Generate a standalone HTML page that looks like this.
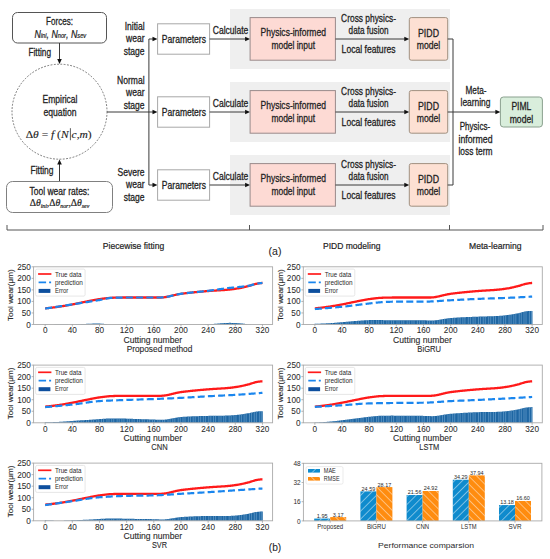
<!DOCTYPE html>
<html><head><meta charset="utf-8"><style>
html,body{margin:0;padding:0;background:#fff;width:550px;height:559px;overflow:hidden}
svg{display:block}
svg{font-family:"Liberation Sans",sans-serif}
.sf{font-family:"Liberation Serif",serif}
</style></head><body>
<svg width="550" height="559" viewBox="0 0 550 559">
<rect x="230" y="9" width="220" height="60" fill="#efefef"/>
<rect x="230" y="82" width="220" height="60" fill="#efefef"/>
<rect x="230" y="155" width="220" height="60" fill="#efefef"/>
<rect x="12.5" y="12.5" width="94" height="30.5" rx="5" fill="#fff" stroke="#555" stroke-width="1"/>
<text transform="translate(59.50,24.60) scale(0.776,1)" font-size="10.4" text-anchor="middle" fill="#222" stroke="#222" stroke-width="0.28">Forces:</text>
<text transform="translate(60.3,38.1) scale(0.84,1)" text-anchor="middle" font-size="10.5" font-style="italic" fill="#222" stroke="#222" stroke-width="0.2">N<tspan font-size="6.8">ini</tspan>, N<tspan font-size="6.8">nor</tspan>, N<tspan font-size="6.8">sev</tspan></text>
<text transform="translate(39.70,56.30) scale(0.798,1)" font-size="10.4" text-anchor="middle" fill="#222" stroke="#222" stroke-width="0.28">Fitting</text>
<line x1="59.5" y1="43" x2="59.5" y2="60" stroke="#3a3a3a" stroke-width="1"/>
<path d="M59.5,64 L57.2,59 L61.8,59 Z" fill="#111"/>
<circle cx="59.5" cy="111.7" r="47.5" fill="none" stroke="#666" stroke-width="0.9" stroke-dasharray="1.8,1.5"/>
<text transform="translate(60.00,103.00) scale(0.818,1)" font-size="10.4" text-anchor="middle" fill="#222" stroke="#222" stroke-width="0.28">Empirical</text>
<text transform="translate(60.00,116.00) scale(0.827,1)" font-size="10.4" text-anchor="middle" fill="#222" stroke="#222" stroke-width="0.28">equation</text>
<text class="sf" x="58.7" y="137.6" font-size="11" text-anchor="middle" fill="#222" stroke="#222" stroke-width="0.12" textLength="66" lengthAdjust="spacingAndGlyphs">Δ<tspan font-style="italic">θ</tspan> = <tspan font-style="italic">f</tspan> (<tspan font-style="italic">N</tspan> <tspan font-style="italic">c</tspan>,<tspan font-style="italic">m</tspan>)</text>
<line x1="70.4" y1="128.2" x2="70.4" y2="140.2" stroke="#333" stroke-width="0.8"/>
<text transform="translate(42.00,174.20) scale(0.812,1)" font-size="10.4" text-anchor="middle" fill="#222" stroke="#222" stroke-width="0.28">Fitting</text>
<line x1="59.5" y1="181" x2="59.5" y2="163.5" stroke="#3a3a3a" stroke-width="1"/>
<path d="M59.5,159.5 L57.2,164.5 L61.8,164.5 Z" fill="#111"/>
<rect x="6.5" y="181.5" width="106" height="31" rx="6" fill="#fff" stroke="#808080" stroke-width="1"/>
<text transform="translate(59.50,194.60) scale(0.817,1)" font-size="10.4" text-anchor="middle" fill="#222" stroke="#222" stroke-width="0.28">Tool wear rates:</text>
<text class="sf" x="59.5" y="205.6" font-size="9.4" text-anchor="middle" fill="#222" stroke="#222" stroke-width="0.2" textLength="59.5" lengthAdjust="spacingAndGlyphs">Δ<tspan font-style="italic">θ</tspan><tspan font-size="5.6" dy="2.4" font-style="italic">ini</tspan><tspan dy="-2.4">,Δ</tspan><tspan font-style="italic">θ</tspan><tspan font-size="5.6" dy="2.4" font-style="italic">nor</tspan><tspan dy="-2.4">,Δ</tspan><tspan font-style="italic">θ</tspan><tspan font-size="5.6" dy="2.4" font-style="italic">sev</tspan></text>
<line x1="107" y1="112" x2="149" y2="112" stroke="#3a3a3a" stroke-width="1"/>
<line x1="148.9" y1="39" x2="148.9" y2="185" stroke="#3a3a3a" stroke-width="1"/>
<text transform="translate(144.60,29.50) scale(0.822,1)" font-size="10.4" text-anchor="end" fill="#222" stroke="#222" stroke-width="0.28">Initial</text>
<text transform="translate(144.60,42.15) scale(0.822,1)" font-size="10.4" text-anchor="end" fill="#222" stroke="#222" stroke-width="0.28">wear</text>
<text transform="translate(144.60,54.80) scale(0.822,1)" font-size="10.4" text-anchor="end" fill="#222" stroke="#222" stroke-width="0.28">stage</text>
<text transform="translate(144.60,83.60) scale(0.822,1)" font-size="10.4" text-anchor="end" fill="#222" stroke="#222" stroke-width="0.28">Normal</text>
<text transform="translate(144.60,96.25) scale(0.822,1)" font-size="10.4" text-anchor="end" fill="#222" stroke="#222" stroke-width="0.28">wear</text>
<text transform="translate(144.60,108.90) scale(0.822,1)" font-size="10.4" text-anchor="end" fill="#222" stroke="#222" stroke-width="0.28">stage</text>
<text transform="translate(144.60,175.60) scale(0.822,1)" font-size="10.4" text-anchor="end" fill="#222" stroke="#222" stroke-width="0.28">Severe</text>
<text transform="translate(144.60,188.25) scale(0.822,1)" font-size="10.4" text-anchor="end" fill="#222" stroke="#222" stroke-width="0.28">wear</text>
<text transform="translate(144.60,200.90) scale(0.822,1)" font-size="10.4" text-anchor="end" fill="#222" stroke="#222" stroke-width="0.28">stage</text>
<line x1="148.9" y1="39" x2="153.5" y2="39" stroke="#3a3a3a" stroke-width="1"/>
<path d="M157.5,39 L152.5,36.7 L152.5,41.3 Z" fill="#111"/>
<rect x="157.6" y="23.8" width="52" height="30.4" fill="#fff" stroke="#a8a8a8" stroke-width="1"/>
<text transform="translate(183.90,42.70) scale(0.822,1)" font-size="10.4" text-anchor="middle" fill="#222" stroke="#222" stroke-width="0.28">Parameters</text>
<line x1="209.6" y1="39" x2="246.1" y2="39" stroke="#3a3a3a" stroke-width="1"/>
<path d="M250.1,39 L245.1,36.7 L245.1,41.3 Z" fill="#111"/>
<text transform="translate(230.50,33.70) scale(0.819,1)" font-size="10.4" text-anchor="middle" fill="#222" stroke="#222" stroke-width="0.28">Calculate</text>
<rect x="250.1" y="17.6" width="85.3" height="42.6" fill="#fddad4" stroke="#9a8a8a" stroke-width="1"/>
<text transform="translate(293.20,36.20) scale(0.820,1)" font-size="10.4" text-anchor="middle" fill="#222" stroke="#222" stroke-width="0.28">Physics-informed</text>
<text transform="translate(293.20,49.20) scale(0.811,1)" font-size="10.4" text-anchor="middle" fill="#222" stroke="#222" stroke-width="0.28">model input</text>
<line x1="335.4" y1="39" x2="405.3" y2="39" stroke="#3a3a3a" stroke-width="1"/>
<path d="M409.3,39 L404.3,36.7 L404.3,41.3 Z" fill="#111"/>
<text transform="translate(368.60,21.50) scale(0.807,1)" font-size="10.4" text-anchor="middle" fill="#222" stroke="#222" stroke-width="0.28">Cross physics-</text>
<text transform="translate(368.60,34.30) scale(0.786,1)" font-size="10.4" text-anchor="middle" fill="#222" stroke="#222" stroke-width="0.28">data fusion</text>
<text transform="translate(368.60,53.30) scale(0.827,1)" font-size="10.4" text-anchor="middle" fill="#222" stroke="#222" stroke-width="0.28">Local features</text>
<rect x="409.3" y="17.6" width="38.4" height="42.6" rx="2" fill="#fde0d3" stroke="#a09080" stroke-width="1"/>
<text transform="translate(428.50,36.80) scale(0.845,1)" font-size="10.4" text-anchor="middle" fill="#222" stroke="#222" stroke-width="0.28">PIDD</text>
<text transform="translate(428.50,49.30) scale(0.830,1)" font-size="10.4" text-anchor="middle" fill="#222" stroke="#222" stroke-width="0.28">model</text>
<line x1="148.9" y1="112" x2="153.5" y2="112" stroke="#3a3a3a" stroke-width="1"/>
<path d="M157.5,112 L152.5,109.7 L152.5,114.3 Z" fill="#111"/>
<rect x="157.6" y="96.8" width="52" height="30.4" fill="#fff" stroke="#a8a8a8" stroke-width="1"/>
<text transform="translate(183.90,115.70) scale(0.822,1)" font-size="10.4" text-anchor="middle" fill="#222" stroke="#222" stroke-width="0.28">Parameters</text>
<line x1="209.6" y1="112" x2="246.1" y2="112" stroke="#3a3a3a" stroke-width="1"/>
<path d="M250.1,112 L245.1,109.7 L245.1,114.3 Z" fill="#111"/>
<text transform="translate(230.50,106.70) scale(0.819,1)" font-size="10.4" text-anchor="middle" fill="#222" stroke="#222" stroke-width="0.28">Calculate</text>
<rect x="250.1" y="90.6" width="85.3" height="42.6" fill="#fddad4" stroke="#9a8a8a" stroke-width="1"/>
<text transform="translate(293.20,109.20) scale(0.820,1)" font-size="10.4" text-anchor="middle" fill="#222" stroke="#222" stroke-width="0.28">Physics-informed</text>
<text transform="translate(293.20,122.20) scale(0.811,1)" font-size="10.4" text-anchor="middle" fill="#222" stroke="#222" stroke-width="0.28">model input</text>
<line x1="335.4" y1="112" x2="405.3" y2="112" stroke="#3a3a3a" stroke-width="1"/>
<path d="M409.3,112 L404.3,109.7 L404.3,114.3 Z" fill="#111"/>
<text transform="translate(368.60,94.50) scale(0.807,1)" font-size="10.4" text-anchor="middle" fill="#222" stroke="#222" stroke-width="0.28">Cross physics-</text>
<text transform="translate(368.60,107.30) scale(0.786,1)" font-size="10.4" text-anchor="middle" fill="#222" stroke="#222" stroke-width="0.28">data fusion</text>
<text transform="translate(368.60,126.30) scale(0.827,1)" font-size="10.4" text-anchor="middle" fill="#222" stroke="#222" stroke-width="0.28">Local features</text>
<rect x="409.3" y="90.6" width="38.4" height="42.6" rx="2" fill="#fde0d3" stroke="#a09080" stroke-width="1"/>
<text transform="translate(428.50,109.80) scale(0.845,1)" font-size="10.4" text-anchor="middle" fill="#222" stroke="#222" stroke-width="0.28">PIDD</text>
<text transform="translate(428.50,122.30) scale(0.830,1)" font-size="10.4" text-anchor="middle" fill="#222" stroke="#222" stroke-width="0.28">model</text>
<line x1="148.9" y1="185" x2="153.5" y2="185" stroke="#3a3a3a" stroke-width="1"/>
<path d="M157.5,185 L152.5,182.7 L152.5,187.3 Z" fill="#111"/>
<rect x="157.6" y="169.8" width="52" height="30.4" fill="#fff" stroke="#a8a8a8" stroke-width="1"/>
<text transform="translate(183.90,188.70) scale(0.822,1)" font-size="10.4" text-anchor="middle" fill="#222" stroke="#222" stroke-width="0.28">Parameters</text>
<line x1="209.6" y1="185" x2="246.1" y2="185" stroke="#3a3a3a" stroke-width="1"/>
<path d="M250.1,185 L245.1,182.7 L245.1,187.3 Z" fill="#111"/>
<text transform="translate(230.50,179.70) scale(0.819,1)" font-size="10.4" text-anchor="middle" fill="#222" stroke="#222" stroke-width="0.28">Calculate</text>
<rect x="250.1" y="163.6" width="85.3" height="42.6" fill="#fddad4" stroke="#9a8a8a" stroke-width="1"/>
<text transform="translate(293.20,182.20) scale(0.820,1)" font-size="10.4" text-anchor="middle" fill="#222" stroke="#222" stroke-width="0.28">Physics-informed</text>
<text transform="translate(293.20,195.20) scale(0.811,1)" font-size="10.4" text-anchor="middle" fill="#222" stroke="#222" stroke-width="0.28">model input</text>
<line x1="335.4" y1="185" x2="405.3" y2="185" stroke="#3a3a3a" stroke-width="1"/>
<path d="M409.3,185 L404.3,182.7 L404.3,187.3 Z" fill="#111"/>
<text transform="translate(368.60,167.50) scale(0.807,1)" font-size="10.4" text-anchor="middle" fill="#222" stroke="#222" stroke-width="0.28">Cross physics-</text>
<text transform="translate(368.60,180.30) scale(0.786,1)" font-size="10.4" text-anchor="middle" fill="#222" stroke="#222" stroke-width="0.28">data fusion</text>
<text transform="translate(368.60,199.30) scale(0.827,1)" font-size="10.4" text-anchor="middle" fill="#222" stroke="#222" stroke-width="0.28">Local features</text>
<rect x="409.3" y="163.6" width="38.4" height="42.6" rx="2" fill="#fde0d3" stroke="#a09080" stroke-width="1"/>
<text transform="translate(428.50,182.80) scale(0.845,1)" font-size="10.4" text-anchor="middle" fill="#222" stroke="#222" stroke-width="0.28">PIDD</text>
<text transform="translate(428.50,195.30) scale(0.830,1)" font-size="10.4" text-anchor="middle" fill="#222" stroke="#222" stroke-width="0.28">model</text>
<polyline points="447.7,39 453,39 453,185 447.7,185" fill="none" stroke="#3a3a3a" stroke-width="1"/>
<line x1="447.7" y1="112" x2="496.4" y2="112" stroke="#3a3a3a" stroke-width="1"/>
<path d="M500.4,112 L495.4,109.7 L495.4,114.3 Z" fill="#111"/>
<text transform="translate(476.00,93.50) scale(0.790,1)" font-size="10.4" text-anchor="middle" fill="#222" stroke="#222" stroke-width="0.28">Meta-</text>
<text transform="translate(475.50,106.00) scale(0.811,1)" font-size="10.4" text-anchor="middle" fill="#222" stroke="#222" stroke-width="0.28">learning</text>
<text transform="translate(474.90,130.30) scale(0.776,1)" font-size="10.4" text-anchor="middle" fill="#222" stroke="#222" stroke-width="0.28">Physics-</text>
<text transform="translate(475.50,142.50) scale(0.840,1)" font-size="10.4" text-anchor="middle" fill="#222" stroke="#222" stroke-width="0.28">informed</text>
<text transform="translate(475.50,154.50) scale(0.806,1)" font-size="10.4" text-anchor="middle" fill="#222" stroke="#222" stroke-width="0.28">loss term</text>
<rect x="500.4" y="97" width="42" height="30" rx="3" fill="#d9eedc" stroke="#8aa08e" stroke-width="1"/>
<text transform="translate(521.40,110.00) scale(0.824,1)" font-size="10.4" text-anchor="middle" fill="#222" stroke="#222" stroke-width="0.28">PIML</text>
<text transform="translate(521.40,122.50) scale(0.830,1)" font-size="10.4" text-anchor="middle" fill="#222" stroke="#222" stroke-width="0.28">model</text>
<polyline points="7,225 7,230 543,230 543,225" fill="none" stroke="#555" stroke-width="1"/>
<line x1="249.5" y1="225" x2="249.5" y2="230" stroke="#555" stroke-width="1"/>
<line x1="449.5" y1="225" x2="449.5" y2="230" stroke="#555" stroke-width="1"/>
<text transform="translate(133.50,249.00) scale(0.893,1)" font-size="9.6" text-anchor="middle" fill="#222" stroke="#222" stroke-width="0.2">Piecewise fitting</text>
<text transform="translate(351.70,249.00) scale(0.889,1)" font-size="9.6" text-anchor="middle" fill="#222" stroke="#222" stroke-width="0.2">PIDD modeling</text>
<text transform="translate(495.30,249.00) scale(0.896,1)" font-size="9.6" text-anchor="middle" fill="#222" stroke="#222" stroke-width="0.2">Meta-learning</text>
<text transform="translate(275.00,255.10) scale(1.015,1)" font-size="10.4" text-anchor="middle" fill="#222" stroke="#222" stroke-width="0.05">(a)</text>
<g>
<polygon points="44.82,324.50 44.82,324.27 45.50,324.27 45.50,324.31 46.18,324.31 46.18,324.34 46.86,324.34 46.86,324.37 47.54,324.37 47.54,324.40 48.22,324.40 48.22,324.43 48.90,324.43 48.90,324.46 49.58,324.46 49.58,324.49 50.26,324.49 50.26,324.49 50.93,324.49 50.93,324.46 51.61,324.46 51.61,324.44 52.29,324.44 52.29,324.42 52.97,324.42 52.97,324.40 53.65,324.40 53.65,324.39 54.33,324.39 54.33,324.37 55.01,324.37 55.01,324.36 55.69,324.36 55.69,324.34 56.37,324.34 56.37,324.33 57.05,324.33 57.05,324.32 57.72,324.32 57.72,324.31 58.40,324.31 58.40,324.30 59.08,324.30 59.08,324.29 59.76,324.29 59.76,324.29 60.44,324.29 60.44,324.28 61.12,324.28 61.12,324.28 61.80,324.28 61.80,324.29 62.48,324.29 62.48,324.29 63.16,324.29 63.16,324.30 63.84,324.30 63.84,324.31 64.51,324.31 64.51,324.32 65.19,324.32 65.19,324.33 65.87,324.33 65.87,324.34 66.55,324.34 66.55,324.36 67.23,324.36 67.23,324.37 67.91,324.37 67.91,324.39 68.59,324.39 68.59,324.41 69.27,324.41 69.27,324.42 69.95,324.42 69.95,324.44 70.63,324.44 70.63,324.46 71.30,324.46 71.30,324.48 71.98,324.48 71.98,324.50 72.66,324.50 72.66,324.48 73.34,324.48 73.34,324.46 74.02,324.46 74.02,324.43 74.70,324.43 74.70,324.40 75.38,324.40 75.38,324.37 76.06,324.37 76.06,324.34 76.74,324.34 76.74,324.31 77.42,324.31 77.42,324.27 78.09,324.27 78.09,324.24 78.77,324.24 78.77,324.21 79.45,324.21 79.45,324.17 80.13,324.17 80.13,324.14 80.81,324.14 80.81,324.10 81.49,324.10 81.49,324.07 82.17,324.07 82.17,324.03 82.85,324.03 82.85,324.00 83.53,324.00 83.53,323.97 84.20,323.97 84.20,323.94 84.88,323.94 84.88,323.92 85.56,323.92 85.56,323.89 86.24,323.89 86.24,323.87 86.92,323.87 86.92,323.84 87.60,323.84 87.60,323.81 88.28,323.81 88.28,323.79 88.96,323.79 88.96,323.76 89.64,323.76 89.64,323.73 90.32,323.73 90.32,323.70 90.99,323.70 90.99,323.67 91.67,323.67 91.67,323.64 92.35,323.64 92.35,323.62 93.03,323.62 93.03,323.60 93.71,323.60 93.71,323.58 94.39,323.58 94.39,323.56 95.07,323.56 95.07,323.55 95.75,323.55 95.75,323.54 96.43,323.54 96.43,323.54 97.11,323.54 97.11,323.54 97.78,323.54 97.78,323.54 98.46,323.54 98.46,323.56 99.14,323.56 99.14,323.58 99.82,323.58 99.82,323.60 100.50,323.60 100.50,323.64 101.18,323.64 101.18,323.68 101.86,323.68 101.86,323.73 102.54,323.73 102.54,323.79 103.22,323.79 103.22,323.84 103.90,323.84 103.90,323.90 104.57,323.90 104.57,323.97 105.25,323.97 105.25,324.03 105.93,324.03 105.93,324.09 106.61,324.09 106.61,324.16 107.29,324.16 107.29,324.22 107.97,324.22 107.97,324.27 108.65,324.27 108.65,324.33 109.33,324.33 109.33,324.37 110.01,324.37 110.01,324.42 110.68,324.42 110.68,324.45 111.36,324.45 111.36,324.48 112.04,324.48 112.04,324.49 112.72,324.49 112.72,324.50 113.40,324.50 113.40,324.50 114.08,324.50 114.08,324.50 114.76,324.50 114.76,324.50 115.44,324.50 115.44,324.50 116.12,324.50 116.12,324.50 116.80,324.50 116.80,324.50 117.47,324.50 117.47,324.50 118.15,324.50 118.15,324.50 118.83,324.50 118.83,324.50 119.51,324.50 119.51,324.50 120.19,324.50 120.19,324.50 120.87,324.50 120.87,324.50 121.55,324.50 121.55,324.50 122.23,324.50 122.23,324.50 122.91,324.50 122.91,324.50 123.59,324.50 123.59,324.50 124.26,324.50 124.26,324.50 124.94,324.50 124.94,324.50 125.62,324.50 125.62,324.50 126.30,324.50 126.30,324.50 126.98,324.50 126.98,324.50 127.66,324.50 127.66,324.50 128.34,324.50 128.34,324.50 129.02,324.50 129.02,324.50 129.70,324.50 129.70,324.50 130.38,324.50 130.38,324.50 131.05,324.50 131.05,324.50 131.73,324.50 131.73,324.50 132.41,324.50 132.41,324.50 133.09,324.50 133.09,324.50 133.77,324.50 133.77,324.50 134.45,324.50 134.45,324.50 135.13,324.50 135.13,324.50 135.81,324.50 135.81,324.50 136.49,324.50 136.49,324.50 137.17,324.50 137.17,324.50 137.84,324.50 137.84,324.50 138.52,324.50 138.52,324.50 139.20,324.50 139.20,324.50 139.88,324.50 139.88,324.50 140.56,324.50 140.56,324.50 141.24,324.50 141.24,324.50 141.92,324.50 141.92,324.50 142.60,324.50 142.60,324.50 143.28,324.50 143.28,324.50 143.95,324.50 143.95,324.50 144.63,324.50 144.63,324.50 145.31,324.50 145.31,324.50 145.99,324.50 145.99,324.50 146.67,324.50 146.67,324.50 147.35,324.50 147.35,324.50 148.03,324.50 148.03,324.50 148.71,324.50 148.71,324.50 149.39,324.50 149.39,324.50 150.07,324.50 150.07,324.50 150.74,324.50 150.74,324.50 151.42,324.50 151.42,324.50 152.10,324.50 152.10,324.50 152.78,324.50 152.78,324.50 153.46,324.50 153.46,324.50 154.14,324.50 154.14,324.50 154.82,324.50 154.82,324.50 155.50,324.50 155.50,324.50 156.18,324.50 156.18,324.50 156.86,324.50 156.86,324.50 157.53,324.50 157.53,324.50 158.21,324.50 158.21,324.50 158.89,324.50 158.89,324.50 159.57,324.50 159.57,324.50 160.25,324.50 160.25,324.50 160.93,324.50 160.93,324.50 161.61,324.50 161.61,324.50 162.29,324.50 162.29,324.50 162.97,324.50 162.97,324.50 163.65,324.50 163.65,324.50 164.32,324.50 164.32,324.50 165.00,324.50 165.00,324.49 165.68,324.49 165.68,324.49 166.36,324.49 166.36,324.49 167.04,324.49 167.04,324.49 167.72,324.49 167.72,324.49 168.40,324.49 168.40,324.49 169.08,324.49 169.08,324.49 169.76,324.49 169.76,324.48 170.43,324.48 170.43,324.48 171.11,324.48 171.11,324.48 171.79,324.48 171.79,324.48 172.47,324.48 172.47,324.48 173.15,324.48 173.15,324.48 173.83,324.48 173.83,324.48 174.51,324.48 174.51,324.48 175.19,324.48 175.19,324.48 175.87,324.48 175.87,324.48 176.55,324.48 176.55,324.48 177.22,324.48 177.22,324.48 177.90,324.48 177.90,324.49 178.58,324.49 178.58,324.49 179.26,324.49 179.26,324.49 179.94,324.49 179.94,324.50 180.62,324.50 180.62,324.50 181.30,324.50 181.30,324.50 181.98,324.50 181.98,324.49 182.66,324.49 182.66,324.49 183.34,324.49 183.34,324.49 184.01,324.49 184.01,324.49 184.69,324.49 184.69,324.49 185.37,324.49 185.37,324.49 186.05,324.49 186.05,324.49 186.73,324.49 186.73,324.49 187.41,324.49 187.41,324.49 188.09,324.49 188.09,324.49 188.77,324.49 188.77,324.50 189.45,324.50 189.45,324.50 190.13,324.50 190.13,324.50 190.80,324.50 190.80,324.50 191.48,324.50 191.48,324.50 192.16,324.50 192.16,324.50 192.84,324.50 192.84,324.50 193.52,324.50 193.52,324.50 194.20,324.50 194.20,324.50 194.88,324.50 194.88,324.50 195.56,324.50 195.56,324.50 196.24,324.50 196.24,324.50 196.92,324.50 196.92,324.50 197.59,324.50 197.59,324.49 198.27,324.49 198.27,324.49 198.95,324.49 198.95,324.48 199.63,324.48 199.63,324.47 200.31,324.47 200.31,324.47 200.99,324.47 200.99,324.46 201.67,324.46 201.67,324.44 202.35,324.44 202.35,324.43 203.03,324.43 203.03,324.42 203.70,324.42 203.70,324.40 204.38,324.40 204.38,324.39 205.06,324.39 205.06,324.37 205.74,324.37 205.74,324.34 206.42,324.34 206.42,324.32 207.10,324.32 207.10,324.30 207.78,324.30 207.78,324.27 208.46,324.27 208.46,324.24 209.14,324.24 209.14,324.20 209.82,324.20 209.82,324.17 210.49,324.17 210.49,324.12 211.17,324.12 211.17,324.08 211.85,324.08 211.85,324.03 212.53,324.03 212.53,323.98 213.21,323.98 213.21,323.93 213.89,323.93 213.89,323.87 214.57,323.87 214.57,323.82 215.25,323.82 215.25,323.76 215.93,323.76 215.93,323.70 216.61,323.70 216.61,323.64 217.28,323.64 217.28,323.58 217.96,323.58 217.96,323.52 218.64,323.52 218.64,323.47 219.32,323.47 219.32,323.41 220.00,323.41 220.00,323.35 220.68,323.35 220.68,323.30 221.36,323.30 221.36,323.24 222.04,323.24 222.04,323.19 222.72,323.19 222.72,323.15 223.40,323.15 223.40,323.10 224.07,323.10 224.07,323.06 224.75,323.06 224.75,323.02 225.43,323.02 225.43,322.98 226.11,322.98 226.11,322.95 226.79,322.95 226.79,322.92 227.47,322.92 227.47,322.90 228.15,322.90 228.15,322.88 228.83,322.88 228.83,322.87 229.51,322.87 229.51,322.87 230.18,322.87 230.18,322.87 230.86,322.87 230.86,322.88 231.54,322.88 231.54,322.90 232.22,322.90 232.22,322.92 232.90,322.92 232.90,322.94 233.58,322.94 233.58,322.97 234.26,322.97 234.26,323.00 234.94,323.00 234.94,323.04 235.62,323.04 235.62,323.08 236.30,323.08 236.30,323.12 236.97,323.12 236.97,323.16 237.65,323.16 237.65,323.21 238.33,323.21 238.33,323.25 239.01,323.25 239.01,323.30 239.69,323.30 239.69,323.36 240.37,323.36 240.37,323.42 241.05,323.42 241.05,323.48 241.73,323.48 241.73,323.55 242.41,323.55 242.41,323.62 243.09,323.62 243.09,323.69 243.76,323.69 243.76,323.77 244.44,323.77 244.44,323.85 245.12,323.85 245.12,323.93 245.80,323.93 245.80,324.00 246.48,324.00 246.48,324.08 247.16,324.08 247.16,324.15 247.84,324.15 247.84,324.21 248.52,324.21 248.52,324.27 249.20,324.27 249.20,324.32 249.88,324.32 249.88,324.36 250.55,324.36 250.55,324.39 251.23,324.39 251.23,324.42 251.91,324.42 251.91,324.44 252.59,324.44 252.59,324.46 253.27,324.46 253.27,324.47 253.95,324.47 253.95,324.48 254.63,324.48 254.63,324.49 255.31,324.49 255.31,324.49 255.99,324.49 255.99,324.50 256.67,324.50 256.67,324.50 257.34,324.50 257.34,324.50 258.02,324.50 258.02,324.49 258.70,324.49 258.70,324.49 259.38,324.49 259.38,324.49 260.06,324.49 260.06,324.49 260.74,324.49 260.74,324.49 261.42,324.49 261.42,324.49 262.10,324.49 262.10,324.50 262.78,324.50 262.78,324.50" fill="#1e66a3"/>
<line x1="81.15" y1="324.50" x2="81.15" y2="324.10" stroke="#7fb0d8" stroke-width="0.55"/>
<line x1="83.19" y1="324.50" x2="83.19" y2="324.00" stroke="#7fb0d8" stroke-width="0.55"/>
<line x1="86.58" y1="324.50" x2="86.58" y2="323.87" stroke="#7fb0d8" stroke-width="0.55"/>
<line x1="88.62" y1="324.50" x2="88.62" y2="323.79" stroke="#7fb0d8" stroke-width="0.55"/>
<line x1="91.33" y1="324.50" x2="91.33" y2="323.67" stroke="#7fb0d8" stroke-width="0.55"/>
<line x1="93.37" y1="324.50" x2="93.37" y2="323.60" stroke="#7fb0d8" stroke-width="0.55"/>
<line x1="96.77" y1="324.50" x2="96.77" y2="323.54" stroke="#7fb0d8" stroke-width="0.55"/>
<line x1="98.80" y1="324.50" x2="98.80" y2="323.56" stroke="#7fb0d8" stroke-width="0.55"/>
<line x1="101.52" y1="324.50" x2="101.52" y2="323.68" stroke="#7fb0d8" stroke-width="0.55"/>
<line x1="103.56" y1="324.50" x2="103.56" y2="323.84" stroke="#7fb0d8" stroke-width="0.55"/>
<line x1="210.83" y1="324.50" x2="210.83" y2="324.12" stroke="#7fb0d8" stroke-width="0.55"/>
<line x1="213.55" y1="324.50" x2="213.55" y2="323.93" stroke="#7fb0d8" stroke-width="0.55"/>
<line x1="215.59" y1="324.50" x2="215.59" y2="323.76" stroke="#7fb0d8" stroke-width="0.55"/>
<line x1="218.98" y1="324.50" x2="218.98" y2="323.47" stroke="#7fb0d8" stroke-width="0.55"/>
<line x1="221.02" y1="324.50" x2="221.02" y2="323.30" stroke="#7fb0d8" stroke-width="0.55"/>
<line x1="223.73" y1="324.50" x2="223.73" y2="323.10" stroke="#7fb0d8" stroke-width="0.55"/>
<line x1="225.77" y1="324.50" x2="225.77" y2="322.98" stroke="#7fb0d8" stroke-width="0.55"/>
<line x1="229.17" y1="324.50" x2="229.17" y2="322.87" stroke="#7fb0d8" stroke-width="0.55"/>
<line x1="231.20" y1="324.50" x2="231.20" y2="322.88" stroke="#7fb0d8" stroke-width="0.55"/>
<line x1="233.92" y1="324.50" x2="233.92" y2="322.97" stroke="#7fb0d8" stroke-width="0.55"/>
<line x1="235.96" y1="324.50" x2="235.96" y2="323.08" stroke="#7fb0d8" stroke-width="0.55"/>
<line x1="239.35" y1="324.50" x2="239.35" y2="323.30" stroke="#7fb0d8" stroke-width="0.55"/>
<line x1="241.39" y1="324.50" x2="241.39" y2="323.48" stroke="#7fb0d8" stroke-width="0.55"/>
<line x1="244.10" y1="324.50" x2="244.10" y2="323.77" stroke="#7fb0d8" stroke-width="0.55"/>
<line x1="246.14" y1="324.50" x2="246.14" y2="324.00" stroke="#7fb0d8" stroke-width="0.55"/>
<polyline points="45.16,308.34 45.84,308.28 46.52,308.21 47.20,308.14 47.88,308.07 48.56,308.00 49.24,307.93 49.92,307.85 50.60,307.77 51.27,307.70 51.95,307.62 52.63,307.53 53.31,307.45 53.99,307.36 54.67,307.28 55.35,307.19 56.03,307.10 56.71,307.01 57.39,306.92 58.06,306.82 58.74,306.73 59.42,306.63 60.10,306.53 60.78,306.43 61.46,306.33 62.14,306.22 62.82,306.11 63.50,306.00 64.18,305.88 64.85,305.77 65.53,305.65 66.21,305.53 66.89,305.41 67.57,305.29 68.25,305.17 68.93,305.05 69.61,304.92 70.29,304.80 70.96,304.67 71.64,304.55 72.32,304.42 73.00,304.29 73.68,304.16 74.36,304.03 75.04,303.89 75.72,303.76 76.40,303.62 77.08,303.48 77.75,303.34 78.43,303.19 79.11,303.05 79.79,302.91 80.47,302.77 81.15,302.62 81.83,302.48 82.51,302.34 83.19,302.20 83.87,302.06 84.54,301.92 85.22,301.78 85.90,301.65 86.58,301.52 87.26,301.38 87.94,301.24 88.62,301.11 89.30,300.97 89.98,300.83 90.66,300.69 91.33,300.55 92.01,300.41 92.69,300.27 93.37,300.14 94.05,300.01 94.73,299.88 95.41,299.76 96.09,299.64 96.77,299.52 97.44,299.41 98.12,299.30 98.80,299.20 99.48,299.11 100.16,299.02 100.84,298.93 101.52,298.84 102.20,298.75 102.88,298.66 103.56,298.57 104.23,298.49 104.91,298.40 105.59,298.32 106.27,298.25 106.95,298.17 107.63,298.10 108.31,298.03 108.99,297.97 109.67,297.92 110.35,297.86 111.02,297.82 111.70,297.78 112.38,297.75 113.06,297.73 113.74,297.71 114.42,297.69 115.10,297.67 115.78,297.65 116.46,297.64 117.14,297.62 117.81,297.60 118.49,297.59 119.17,297.58 119.85,297.56 120.53,297.55 121.21,297.54 121.89,297.53 122.57,297.52 123.25,297.51 123.93,297.51 124.60,297.50 125.28,297.50 125.96,297.50 126.64,297.50 127.32,297.50 128.00,297.50 128.68,297.50 129.36,297.50 130.04,297.50 130.71,297.50 131.39,297.50 132.07,297.50 132.75,297.50 133.43,297.50 134.11,297.50 134.79,297.50 135.47,297.50 136.15,297.50 136.83,297.50 137.50,297.50 138.18,297.50 138.86,297.50 139.54,297.50 140.22,297.50 140.90,297.50 141.58,297.50 142.26,297.50 142.94,297.50 143.62,297.50 144.29,297.50 144.97,297.50 145.65,297.50 146.33,297.50 147.01,297.50 147.69,297.50 148.37,297.50 149.05,297.50 149.73,297.50 150.41,297.50 151.08,297.50 151.76,297.50 152.44,297.50 153.12,297.50 153.80,297.50 154.48,297.50 155.16,297.50 155.84,297.50 156.52,297.50 157.19,297.50 157.87,297.50 158.55,297.50 159.23,297.50 159.91,297.50 160.59,297.50 161.27,297.49 161.95,297.46 162.63,297.42 163.31,297.36 163.98,297.29 164.66,297.20 165.34,297.10 166.02,296.99 166.70,296.87 167.38,296.74 168.06,296.60 168.74,296.46 169.42,296.30 170.10,296.15 170.77,295.99 171.45,295.82 172.13,295.66 172.81,295.49 173.49,295.33 174.17,295.16 174.85,295.00 175.53,294.84 176.21,294.68 176.89,294.53 177.56,294.39 178.24,294.25 178.92,294.13 179.60,294.01 180.28,293.90 180.96,293.80 181.64,293.71 182.32,293.63 183.00,293.54 183.68,293.45 184.35,293.37 185.03,293.29 185.71,293.21 186.39,293.13 187.07,293.05 187.75,292.97 188.43,292.89 189.11,292.82 189.79,292.74 190.46,292.67 191.14,292.59 191.82,292.52 192.50,292.45 193.18,292.38 193.86,292.31 194.54,292.24 195.22,292.18 195.90,292.11 196.58,292.04 197.25,291.98 197.93,291.92 198.61,291.85 199.29,291.79 199.97,291.73 200.65,291.67 201.33,291.61 202.01,291.55 202.69,291.49 203.37,291.43 204.04,291.37 204.72,291.31 205.40,291.26 206.08,291.20 206.76,291.14 207.44,291.09 208.12,291.03 208.80,290.98 209.48,290.93 210.16,290.88 210.83,290.83 211.51,290.79 212.19,290.74 212.87,290.70 213.55,290.66 214.23,290.61 214.91,290.57 215.59,290.53 216.27,290.49 216.94,290.45 217.62,290.41 218.30,290.38 218.98,290.34 219.66,290.30 220.34,290.25 221.02,290.21 221.70,290.17 222.38,290.13 223.06,290.08 223.73,290.03 224.41,289.99 225.09,289.94 225.77,289.88 226.45,289.83 227.13,289.77 227.81,289.71 228.49,289.65 229.17,289.58 229.85,289.51 230.52,289.44 231.20,289.36 231.88,289.28 232.56,289.19 233.24,289.10 233.92,289.01 234.60,288.91 235.28,288.81 235.96,288.71 236.64,288.60 237.31,288.49 237.99,288.38 238.67,288.26 239.35,288.15 240.03,288.02 240.71,287.89 241.39,287.75 242.07,287.60 242.75,287.45 243.43,287.29 244.10,287.14 244.78,286.97 245.46,286.81 246.14,286.64 246.82,286.47 247.50,286.30 248.18,286.13 248.86,285.96 249.54,285.78 250.21,285.58 250.89,285.37 251.57,285.16 252.25,284.94 252.93,284.72 253.61,284.51 254.29,284.30 254.97,284.11 255.65,283.93 256.33,283.78 257.00,283.65 257.68,283.53 258.36,283.43 259.04,283.32 259.72,283.23 260.40,283.15 261.08,283.07 261.76,283.01 262.44,282.96" fill="none" stroke="#ff1a1a" stroke-width="2.3"/>
<polyline points="45.16,308.57 45.84,308.47 46.52,308.37 47.20,308.27 47.88,308.17 48.56,308.07 49.24,307.97 49.92,307.86 50.60,307.76 51.27,307.66 51.95,307.56 52.63,307.46 53.31,307.35 53.99,307.25 54.67,307.15 55.35,307.04 56.03,306.94 56.71,306.84 57.39,306.73 58.06,306.63 58.74,306.53 59.42,306.42 60.10,306.32 60.78,306.21 61.46,306.11 62.14,306.00 62.82,305.90 63.50,305.80 64.18,305.69 64.85,305.59 65.53,305.48 66.21,305.37 66.89,305.27 67.57,305.16 68.25,305.06 68.93,304.95 69.61,304.85 70.29,304.74 70.96,304.63 71.64,304.53 72.32,304.42 73.00,304.31 73.68,304.21 74.36,304.10 75.04,303.99 75.72,303.89 76.40,303.78 77.08,303.67 77.75,303.56 78.43,303.45 79.11,303.35 79.79,303.24 80.47,303.13 81.15,303.02 81.83,302.91 82.51,302.80 83.19,302.70 83.87,302.59 84.54,302.48 85.22,302.37 85.90,302.26 86.58,302.15 87.26,302.04 87.94,301.93 88.62,301.82 89.30,301.71 89.98,301.60 90.66,301.49 91.33,301.38 92.01,301.27 92.69,301.15 93.37,301.04 94.05,300.93 94.73,300.82 95.41,300.71 96.09,300.60 96.77,300.48 97.44,300.37 98.12,300.26 98.80,300.15 99.48,300.04 100.16,299.92 100.84,299.79 101.52,299.66 102.20,299.52 102.88,299.38 103.56,299.23 104.23,299.08 104.91,298.94 105.59,298.79 106.27,298.65 106.95,298.51 107.63,298.38 108.31,298.26 108.99,298.15 109.67,298.04 110.35,297.95 111.02,297.87 111.70,297.81 112.38,297.76 113.06,297.73 113.74,297.71 114.42,297.69 115.10,297.67 115.78,297.65 116.46,297.63 117.14,297.62 117.81,297.60 118.49,297.59 119.17,297.57 119.85,297.56 120.53,297.55 121.21,297.54 121.89,297.53 122.57,297.52 123.25,297.51 123.93,297.51 124.60,297.50 125.28,297.50 125.96,297.50 126.64,297.50 127.32,297.50 128.00,297.50 128.68,297.50 129.36,297.50 130.04,297.50 130.71,297.50 131.39,297.50 132.07,297.50 132.75,297.50 133.43,297.50 134.11,297.50 134.79,297.50 135.47,297.50 136.15,297.50 136.83,297.50 137.50,297.50 138.18,297.50 138.86,297.50 139.54,297.50 140.22,297.50 140.90,297.50 141.58,297.50 142.26,297.50 142.94,297.50 143.62,297.50 144.29,297.50 144.97,297.50 145.65,297.50 146.33,297.50 147.01,297.50 147.69,297.50 148.37,297.50 149.05,297.50 149.73,297.50 150.41,297.50 151.08,297.50 151.76,297.50 152.44,297.50 153.12,297.50 153.80,297.50 154.48,297.50 155.16,297.50 155.84,297.50 156.52,297.50 157.19,297.50 157.87,297.50 158.55,297.50 159.23,297.50 159.91,297.50 160.59,297.50 161.27,297.49 161.95,297.46 162.63,297.42 163.31,297.36 163.98,297.29 164.66,297.20 165.34,297.11 166.02,297.00 166.70,296.88 167.38,296.75 168.06,296.61 168.74,296.47 169.42,296.32 170.10,296.16 170.77,296.00 171.45,295.84 172.13,295.68 172.81,295.51 173.49,295.35 174.17,295.18 174.85,295.02 175.53,294.86 176.21,294.70 176.89,294.55 177.56,294.40 178.24,294.27 178.92,294.14 179.60,294.01 180.28,293.90 180.96,293.80 181.64,293.71 182.32,293.62 183.00,293.53 183.68,293.44 184.35,293.36 185.03,293.28 185.71,293.19 186.39,293.12 187.07,293.04 187.75,292.96 188.43,292.88 189.11,292.81 189.79,292.74 190.46,292.67 191.14,292.59 191.82,292.52 192.50,292.45 193.18,292.38 193.86,292.32 194.54,292.25 195.22,292.18 195.90,292.11 196.58,292.04 197.25,291.98 197.93,291.91 198.61,291.84 199.29,291.77 199.97,291.70 200.65,291.63 201.33,291.56 202.01,291.49 202.69,291.42 203.37,291.35 204.04,291.27 204.72,291.20 205.40,291.12 206.08,291.05 206.76,290.97 207.44,290.89 208.12,290.80 208.80,290.72 209.48,290.63 210.16,290.54 210.83,290.45 211.51,290.36 212.19,290.27 212.87,290.18 213.55,290.08 214.23,289.99 214.91,289.89 215.59,289.79 216.27,289.69 216.94,289.60 217.62,289.50 218.30,289.40 218.98,289.30 219.66,289.20 220.34,289.11 221.02,289.01 221.70,288.92 222.38,288.82 223.06,288.73 223.73,288.63 224.41,288.54 225.09,288.45 225.77,288.37 226.45,288.28 227.13,288.20 227.81,288.11 228.49,288.03 229.17,287.96 229.85,287.88 230.52,287.81 231.20,287.74 231.88,287.67 232.56,287.61 233.24,287.54 233.92,287.47 234.60,287.41 235.28,287.35 235.96,287.28 236.64,287.22 237.31,287.15 237.99,287.09 238.67,287.02 239.35,286.95 240.03,286.88 240.71,286.80 241.39,286.73 242.07,286.65 242.75,286.57 243.43,286.49 244.10,286.41 244.78,286.32 245.46,286.24 246.14,286.15 246.82,286.05 247.50,285.95 248.18,285.84 248.86,285.73 249.54,285.59 250.21,285.44 250.89,285.26 251.57,285.08 252.25,284.88 252.93,284.68 253.61,284.48 254.29,284.28 254.97,284.10 255.65,283.93 256.33,283.78 257.00,283.65 257.68,283.54 258.36,283.43 259.04,283.33 259.72,283.24 260.40,283.16 261.08,283.08 261.76,283.01 262.44,282.96" fill="none" stroke="#1a86ee" stroke-width="2.2" stroke-dasharray="7,3.2"/>
<rect x="33.6" y="266.8" width="239.0" height="57.7" fill="none" stroke="#aaa" stroke-width="0.9"/>
<line x1="31.6" y1="324.50" x2="33.6" y2="324.50" stroke="#999" stroke-width="0.7"/>
<text transform="translate(30.80,327.50) scale(0.955,1)" font-size="8.6" text-anchor="end" fill="#2a2a2a" stroke="#2a2a2a" stroke-width="0.05">0</text>
<line x1="31.6" y1="312.96" x2="33.6" y2="312.96" stroke="#999" stroke-width="0.7"/>
<text transform="translate(30.80,315.96) scale(0.955,1)" font-size="8.6" text-anchor="end" fill="#2a2a2a" stroke="#2a2a2a" stroke-width="0.05">50</text>
<line x1="31.6" y1="301.42" x2="33.6" y2="301.42" stroke="#999" stroke-width="0.7"/>
<text transform="translate(30.80,304.42) scale(0.955,1)" font-size="8.6" text-anchor="end" fill="#2a2a2a" stroke="#2a2a2a" stroke-width="0.05">100</text>
<line x1="31.6" y1="289.88" x2="33.6" y2="289.88" stroke="#999" stroke-width="0.7"/>
<text transform="translate(30.80,292.88) scale(0.955,1)" font-size="8.6" text-anchor="end" fill="#2a2a2a" stroke="#2a2a2a" stroke-width="0.05">150</text>
<line x1="31.6" y1="278.34" x2="33.6" y2="278.34" stroke="#999" stroke-width="0.7"/>
<text transform="translate(30.80,281.34) scale(0.955,1)" font-size="8.6" text-anchor="end" fill="#2a2a2a" stroke="#2a2a2a" stroke-width="0.05">200</text>
<line x1="31.6" y1="266.80" x2="33.6" y2="266.80" stroke="#999" stroke-width="0.7"/>
<text transform="translate(30.80,269.80) scale(0.955,1)" font-size="8.6" text-anchor="end" fill="#2a2a2a" stroke="#2a2a2a" stroke-width="0.05">250</text>
<line x1="45.16" y1="324.5" x2="45.16" y2="326.5" stroke="#999" stroke-width="0.7"/>
<text transform="translate(45.16,333.30) scale(0.955,1)" font-size="8.6" text-anchor="middle" fill="#2a2a2a" stroke="#2a2a2a" stroke-width="0.05">0</text>
<line x1="72.32" y1="324.5" x2="72.32" y2="326.5" stroke="#999" stroke-width="0.7"/>
<text transform="translate(72.32,333.30) scale(0.955,1)" font-size="8.6" text-anchor="middle" fill="#2a2a2a" stroke="#2a2a2a" stroke-width="0.05">40</text>
<line x1="99.48" y1="324.5" x2="99.48" y2="326.5" stroke="#999" stroke-width="0.7"/>
<text transform="translate(99.48,333.30) scale(0.955,1)" font-size="8.6" text-anchor="middle" fill="#2a2a2a" stroke="#2a2a2a" stroke-width="0.05">80</text>
<line x1="126.64" y1="324.5" x2="126.64" y2="326.5" stroke="#999" stroke-width="0.7"/>
<text transform="translate(126.64,333.30) scale(0.955,1)" font-size="8.6" text-anchor="middle" fill="#2a2a2a" stroke="#2a2a2a" stroke-width="0.05">120</text>
<line x1="153.80" y1="324.5" x2="153.80" y2="326.5" stroke="#999" stroke-width="0.7"/>
<text transform="translate(153.80,333.30) scale(0.955,1)" font-size="8.6" text-anchor="middle" fill="#2a2a2a" stroke="#2a2a2a" stroke-width="0.05">160</text>
<line x1="180.96" y1="324.5" x2="180.96" y2="326.5" stroke="#999" stroke-width="0.7"/>
<text transform="translate(180.96,333.30) scale(0.955,1)" font-size="8.6" text-anchor="middle" fill="#2a2a2a" stroke="#2a2a2a" stroke-width="0.05">200</text>
<line x1="208.12" y1="324.5" x2="208.12" y2="326.5" stroke="#999" stroke-width="0.7"/>
<text transform="translate(208.12,333.30) scale(0.955,1)" font-size="8.6" text-anchor="middle" fill="#2a2a2a" stroke="#2a2a2a" stroke-width="0.05">240</text>
<line x1="235.28" y1="324.5" x2="235.28" y2="326.5" stroke="#999" stroke-width="0.7"/>
<text transform="translate(235.28,333.30) scale(0.955,1)" font-size="8.6" text-anchor="middle" fill="#2a2a2a" stroke="#2a2a2a" stroke-width="0.05">280</text>
<line x1="262.44" y1="324.5" x2="262.44" y2="326.5" stroke="#999" stroke-width="0.7"/>
<text transform="translate(262.44,333.30) scale(0.955,1)" font-size="8.6" text-anchor="middle" fill="#2a2a2a" stroke="#2a2a2a" stroke-width="0.05">320</text>
<text transform="translate(152.80,342.70) scale(1.038,1)" font-size="8.3" text-anchor="middle" fill="#2a2a2a" stroke="#2a2a2a" stroke-width="0.1">Cutting number</text>
<text transform="translate(159.50,351.60) scale(1.004,1)" font-size="8.3" text-anchor="middle" fill="#2a2a2a" stroke="#2a2a2a" stroke-width="0.1">Proposed method</text>
<g transform="translate(10.400000000000002,295.15000000000003) rotate(-90)">
<text transform="translate(0.00,2.60) scale(1.034,1)" font-size="7.9" text-anchor="middle" fill="#2a2a2a" stroke="#2a2a2a" stroke-width="0.12">Tool wear(μm)</text>
</g>
<rect x="35.6" y="269.1" width="49.5" height="27" rx="1.5" fill="#fff" fill-opacity="0.8" stroke="#ddd" stroke-width="0.7"/>
<line x1="38.1" y1="274.0" x2="51.400000000000006" y2="274.0" stroke="#ff1a1a" stroke-width="1.7"/>
<line x1="38.6" y1="282.40000000000003" x2="51.1" y2="282.40000000000003" stroke="#1a86ee" stroke-width="1.7" stroke-dasharray="7.5,3"/>
<rect x="38.6" y="288.90000000000003" width="11.8" height="4" fill="#0d4f9e"/>
<text transform="translate(55.00,276.70) scale(0.946,1)" font-size="6.6" text-anchor="start" fill="#2a2a2a">True data</text>
<text transform="translate(55.00,284.80) scale(0.978,1)" font-size="6.6" text-anchor="start" fill="#2a2a2a">prediction</text>
<text transform="translate(55.00,293.00) scale(0.900,1)" font-size="6.6" text-anchor="start" fill="#2a2a2a">Error</text>
</g>
<g>
<polygon points="314.52,324.50 314.52,323.81 315.20,323.81 315.20,323.79 315.88,323.79 315.88,323.77 316.56,323.77 316.56,323.75 317.24,323.75 317.24,323.73 317.92,323.73 317.92,323.70 318.60,323.70 318.60,323.68 319.28,323.68 319.28,323.66 319.96,323.66 319.96,323.63 320.63,323.63 320.63,323.60 321.31,323.60 321.31,323.57 321.99,323.57 321.99,323.54 322.67,323.54 322.67,323.51 323.35,323.51 323.35,323.48 324.03,323.48 324.03,323.45 324.71,323.45 324.71,323.42 325.39,323.42 325.39,323.38 326.07,323.38 326.07,323.35 326.75,323.35 326.75,323.31 327.42,323.31 327.42,323.28 328.10,323.28 328.10,323.24 328.78,323.24 328.78,323.20 329.46,323.20 329.46,323.16 330.14,323.16 330.14,323.12 330.82,323.12 330.82,323.07 331.50,323.07 331.50,323.03 332.18,323.03 332.18,322.98 332.86,322.98 332.86,322.93 333.54,322.93 333.54,322.88 334.21,322.88 334.21,322.82 334.89,322.82 334.89,322.77 335.57,322.77 335.57,322.72 336.25,322.72 336.25,322.66 336.93,322.66 336.93,322.60 337.61,322.60 337.61,322.54 338.29,322.54 338.29,322.49 338.97,322.49 338.97,322.43 339.65,322.43 339.65,322.37 340.33,322.37 340.33,322.31 341.00,322.31 341.00,322.25 341.68,322.25 341.68,322.19 342.36,322.19 342.36,322.13 343.04,322.13 343.04,322.07 343.72,322.07 343.72,322.01 344.40,322.01 344.40,321.95 345.08,321.95 345.08,321.89 345.76,321.89 345.76,321.82 346.44,321.82 346.44,321.76 347.12,321.76 347.12,321.69 347.79,321.69 347.79,321.63 348.47,321.63 348.47,321.57 349.15,321.57 349.15,321.51 349.83,321.51 349.83,321.44 350.51,321.44 350.51,321.38 351.19,321.38 351.19,321.32 351.87,321.32 351.87,321.27 352.55,321.27 352.55,321.21 353.23,321.21 353.23,321.16 353.90,321.16 353.90,321.10 354.58,321.10 354.58,321.05 355.26,321.05 355.26,321.00 355.94,321.00 355.94,320.96 356.62,320.96 356.62,320.91 357.30,320.91 357.30,320.86 357.98,320.86 357.98,320.80 358.66,320.80 358.66,320.75 359.34,320.75 359.34,320.70 360.02,320.70 360.02,320.64 360.69,320.64 360.69,320.59 361.37,320.59 361.37,320.53 362.05,320.53 362.05,320.48 362.73,320.48 362.73,320.43 363.41,320.43 363.41,320.38 364.09,320.38 364.09,320.34 364.77,320.34 364.77,320.29 365.45,320.29 365.45,320.25 366.13,320.25 366.13,320.22 366.81,320.22 366.81,320.19 367.48,320.19 367.48,320.16 368.16,320.16 368.16,320.13 368.84,320.13 368.84,320.11 369.52,320.11 369.52,320.10 370.20,320.10 370.20,320.09 370.88,320.09 370.88,320.08 371.56,320.08 371.56,320.07 372.24,320.07 372.24,320.06 372.92,320.06 372.92,320.05 373.60,320.05 373.60,320.04 374.27,320.04 374.27,320.04 374.95,320.04 374.95,320.04 375.63,320.04 375.63,320.04 376.31,320.04 376.31,320.04 376.99,320.04 376.99,320.04 377.67,320.04 377.67,320.05 378.35,320.05 378.35,320.05 379.03,320.05 379.03,320.06 379.71,320.06 379.71,320.07 380.38,320.07 380.38,320.08 381.06,320.08 381.06,320.09 381.74,320.09 381.74,320.10 382.42,320.10 382.42,320.11 383.10,320.11 383.10,320.13 383.78,320.13 383.78,320.15 384.46,320.15 384.46,320.16 385.14,320.16 385.14,320.18 385.82,320.18 385.82,320.19 386.50,320.19 386.50,320.21 387.17,320.21 387.17,320.22 387.85,320.22 387.85,320.24 388.53,320.24 388.53,320.25 389.21,320.25 389.21,320.27 389.89,320.27 389.89,320.28 390.57,320.28 390.57,320.29 391.25,320.29 391.25,320.30 391.93,320.30 391.93,320.31 392.61,320.31 392.61,320.32 393.29,320.32 393.29,320.33 393.96,320.33 393.96,320.34 394.64,320.34 394.64,320.34 395.32,320.34 395.32,320.34 396.00,320.34 396.00,320.35 396.68,320.35 396.68,320.35 397.36,320.35 397.36,320.35 398.04,320.35 398.04,320.35 398.72,320.35 398.72,320.35 399.40,320.35 399.40,320.35 400.08,320.35 400.08,320.35 400.75,320.35 400.75,320.35 401.43,320.35 401.43,320.35 402.11,320.35 402.11,320.35 402.79,320.35 402.79,320.35 403.47,320.35 403.47,320.35 404.15,320.35 404.15,320.35 404.83,320.35 404.83,320.35 405.51,320.35 405.51,320.35 406.19,320.35 406.19,320.35 406.87,320.35 406.87,320.35 407.54,320.35 407.54,320.35 408.22,320.35 408.22,320.35 408.90,320.35 408.90,320.35 409.58,320.35 409.58,320.35 410.26,320.35 410.26,320.35 410.94,320.35 410.94,320.35 411.62,320.35 411.62,320.35 412.30,320.35 412.30,320.35 412.98,320.35 412.98,320.35 413.65,320.35 413.65,320.35 414.33,320.35 414.33,320.35 415.01,320.35 415.01,320.35 415.69,320.35 415.69,320.35 416.37,320.35 416.37,320.35 417.05,320.35 417.05,320.35 417.73,320.35 417.73,320.35 418.41,320.35 418.41,320.35 419.09,320.35 419.09,320.35 419.77,320.35 419.77,320.35 420.44,320.35 420.44,320.35 421.12,320.35 421.12,320.35 421.80,320.35 421.80,320.35 422.48,320.35 422.48,320.35 423.16,320.35 423.16,320.35 423.84,320.35 423.84,320.35 424.52,320.35 424.52,320.35 425.20,320.35 425.20,320.36 425.88,320.36 425.88,320.37 426.56,320.37 426.56,320.39 427.23,320.39 427.23,320.40 427.91,320.40 427.91,320.42 428.59,320.42 428.59,320.45 429.27,320.45 429.27,320.47 429.95,320.47 429.95,320.50 430.63,320.50 430.63,320.52 431.31,320.52 431.31,320.52 431.99,320.52 431.99,320.51 432.67,320.51 432.67,320.49 433.35,320.49 433.35,320.45 434.02,320.45 434.02,320.40 434.70,320.40 434.70,320.34 435.38,320.34 435.38,320.27 436.06,320.27 436.06,320.19 436.74,320.19 436.74,320.11 437.42,320.11 437.42,320.01 438.10,320.01 438.10,319.91 438.78,319.91 438.78,319.81 439.46,319.81 439.46,319.69 440.13,319.69 440.13,319.58 440.81,319.58 440.81,319.46 441.49,319.46 441.49,319.34 442.17,319.34 442.17,319.22 442.85,319.22 442.85,319.10 443.53,319.10 443.53,318.98 444.21,318.98 444.21,318.87 444.89,318.87 444.89,318.75 445.57,318.75 445.57,318.64 446.25,318.64 446.25,318.53 446.92,318.53 446.92,318.43 447.60,318.43 447.60,318.34 448.28,318.34 448.28,318.25 448.96,318.25 448.96,318.17 449.64,318.17 449.64,318.10 450.32,318.10 450.32,318.04 451.00,318.04 451.00,317.98 451.68,317.98 451.68,317.93 452.36,317.93 452.36,317.88 453.04,317.88 453.04,317.83 453.71,317.83 453.71,317.78 454.39,317.78 454.39,317.73 455.07,317.73 455.07,317.69 455.75,317.69 455.75,317.65 456.43,317.65 456.43,317.60 457.11,317.60 457.11,317.56 457.79,317.56 457.79,317.52 458.47,317.52 458.47,317.48 459.15,317.48 459.15,317.44 459.83,317.44 459.83,317.41 460.50,317.41 460.50,317.37 461.18,317.37 461.18,317.34 461.86,317.34 461.86,317.30 462.54,317.30 462.54,317.27 463.22,317.27 463.22,317.24 463.90,317.24 463.90,317.21 464.58,317.21 464.58,317.17 465.26,317.17 465.26,317.14 465.94,317.14 465.94,317.11 466.62,317.11 466.62,317.08 467.29,317.08 467.29,317.06 467.97,317.06 467.97,317.03 468.65,317.03 468.65,317.00 469.33,317.00 469.33,316.97 470.01,316.97 470.01,316.95 470.69,316.95 470.69,316.92 471.37,316.92 471.37,316.89 472.05,316.89 472.05,316.87 472.73,316.87 472.73,316.84 473.40,316.84 473.40,316.81 474.08,316.81 474.08,316.79 474.76,316.79 474.76,316.76 475.44,316.76 475.44,316.73 476.12,316.73 476.12,316.71 476.80,316.71 476.80,316.68 477.48,316.68 477.48,316.65 478.16,316.65 478.16,316.63 478.84,316.63 478.84,316.60 479.52,316.60 479.52,316.58 480.19,316.58 480.19,316.56 480.87,316.56 480.87,316.53 481.55,316.53 481.55,316.51 482.23,316.51 482.23,316.49 482.91,316.49 482.91,316.48 483.59,316.48 483.59,316.46 484.27,316.46 484.27,316.44 484.95,316.44 484.95,316.42 485.63,316.42 485.63,316.40 486.31,316.40 486.31,316.39 486.98,316.39 486.98,316.37 487.66,316.37 487.66,316.35 488.34,316.35 488.34,316.33 489.02,316.33 489.02,316.31 489.70,316.31 489.70,316.29 490.38,316.29 490.38,316.27 491.06,316.27 491.06,316.25 491.74,316.25 491.74,316.23 492.42,316.23 492.42,316.20 493.10,316.20 493.10,316.18 493.77,316.18 493.77,316.15 494.45,316.15 494.45,316.12 495.13,316.12 495.13,316.09 495.81,316.09 495.81,316.06 496.49,316.06 496.49,316.02 497.17,316.02 497.17,315.98 497.85,315.98 497.85,315.94 498.53,315.94 498.53,315.90 499.21,315.90 499.21,315.85 499.88,315.85 499.88,315.80 500.56,315.80 500.56,315.75 501.24,315.75 501.24,315.69 501.92,315.69 501.92,315.63 502.60,315.63 502.60,315.56 503.28,315.56 503.28,315.49 503.96,315.49 503.96,315.42 504.64,315.42 504.64,315.35 505.32,315.35 505.32,315.28 506.00,315.28 506.00,315.20 506.67,315.20 506.67,315.12 507.35,315.12 507.35,315.03 508.03,315.03 508.03,314.95 508.71,314.95 508.71,314.86 509.39,314.86 509.39,314.76 510.07,314.76 510.07,314.66 510.75,314.66 510.75,314.55 511.43,314.55 511.43,314.44 512.11,314.44 512.11,314.32 512.79,314.32 512.79,314.20 513.46,314.20 513.46,314.07 514.14,314.07 514.14,313.94 514.82,313.94 514.82,313.81 515.50,313.81 515.50,313.67 516.18,313.67 516.18,313.54 516.86,313.54 516.86,313.40 517.54,313.40 517.54,313.26 518.22,313.26 518.22,313.13 518.90,313.13 518.90,312.98 519.58,312.98 519.58,312.82 520.25,312.82 520.25,312.65 520.93,312.65 520.93,312.47 521.61,312.47 521.61,312.29 522.29,312.29 522.29,312.11 522.97,312.11 522.97,311.93 523.65,311.93 523.65,311.76 524.33,311.76 524.33,311.61 525.01,311.61 525.01,311.47 525.69,311.47 525.69,311.35 526.37,311.35 526.37,311.26 527.04,311.26 527.04,311.18 527.72,311.18 527.72,311.11 528.40,311.11 528.40,311.05 529.08,311.05 529.08,311.00 529.76,311.00 529.76,310.95 530.44,310.95 530.44,310.92 531.12,310.92 531.12,310.89 531.80,310.89 531.80,310.88 532.48,310.88 532.48,324.50" fill="#1e66a3"/>
<line x1="315.54" y1="324.50" x2="315.54" y2="323.79" stroke="#7fb0d8" stroke-width="0.55"/>
<line x1="317.58" y1="324.50" x2="317.58" y2="323.73" stroke="#7fb0d8" stroke-width="0.55"/>
<line x1="320.30" y1="324.50" x2="320.30" y2="323.63" stroke="#7fb0d8" stroke-width="0.55"/>
<line x1="322.33" y1="324.50" x2="322.33" y2="323.54" stroke="#7fb0d8" stroke-width="0.55"/>
<line x1="325.73" y1="324.50" x2="325.73" y2="323.38" stroke="#7fb0d8" stroke-width="0.55"/>
<line x1="327.76" y1="324.50" x2="327.76" y2="323.28" stroke="#7fb0d8" stroke-width="0.55"/>
<line x1="330.48" y1="324.50" x2="330.48" y2="323.12" stroke="#7fb0d8" stroke-width="0.55"/>
<line x1="332.52" y1="324.50" x2="332.52" y2="322.98" stroke="#7fb0d8" stroke-width="0.55"/>
<line x1="335.91" y1="324.50" x2="335.91" y2="322.72" stroke="#7fb0d8" stroke-width="0.55"/>
<line x1="337.95" y1="324.50" x2="337.95" y2="322.54" stroke="#7fb0d8" stroke-width="0.55"/>
<line x1="340.66" y1="324.50" x2="340.66" y2="322.31" stroke="#7fb0d8" stroke-width="0.55"/>
<line x1="342.70" y1="324.50" x2="342.70" y2="322.13" stroke="#7fb0d8" stroke-width="0.55"/>
<line x1="346.10" y1="324.50" x2="346.10" y2="321.82" stroke="#7fb0d8" stroke-width="0.55"/>
<line x1="348.13" y1="324.50" x2="348.13" y2="321.63" stroke="#7fb0d8" stroke-width="0.55"/>
<line x1="350.85" y1="324.50" x2="350.85" y2="321.38" stroke="#7fb0d8" stroke-width="0.55"/>
<line x1="352.89" y1="324.50" x2="352.89" y2="321.21" stroke="#7fb0d8" stroke-width="0.55"/>
<line x1="356.28" y1="324.50" x2="356.28" y2="320.96" stroke="#7fb0d8" stroke-width="0.55"/>
<line x1="358.32" y1="324.50" x2="358.32" y2="320.80" stroke="#7fb0d8" stroke-width="0.55"/>
<line x1="361.03" y1="324.50" x2="361.03" y2="320.59" stroke="#7fb0d8" stroke-width="0.55"/>
<line x1="363.07" y1="324.50" x2="363.07" y2="320.43" stroke="#7fb0d8" stroke-width="0.55"/>
<line x1="366.47" y1="324.50" x2="366.47" y2="320.22" stroke="#7fb0d8" stroke-width="0.55"/>
<line x1="368.50" y1="324.50" x2="368.50" y2="320.13" stroke="#7fb0d8" stroke-width="0.55"/>
<line x1="371.22" y1="324.50" x2="371.22" y2="320.08" stroke="#7fb0d8" stroke-width="0.55"/>
<line x1="373.26" y1="324.50" x2="373.26" y2="320.05" stroke="#7fb0d8" stroke-width="0.55"/>
<line x1="376.65" y1="324.50" x2="376.65" y2="320.04" stroke="#7fb0d8" stroke-width="0.55"/>
<line x1="378.69" y1="324.50" x2="378.69" y2="320.05" stroke="#7fb0d8" stroke-width="0.55"/>
<line x1="381.40" y1="324.50" x2="381.40" y2="320.09" stroke="#7fb0d8" stroke-width="0.55"/>
<line x1="383.44" y1="324.50" x2="383.44" y2="320.13" stroke="#7fb0d8" stroke-width="0.55"/>
<line x1="386.84" y1="324.50" x2="386.84" y2="320.21" stroke="#7fb0d8" stroke-width="0.55"/>
<line x1="388.87" y1="324.50" x2="388.87" y2="320.25" stroke="#7fb0d8" stroke-width="0.55"/>
<line x1="391.59" y1="324.50" x2="391.59" y2="320.30" stroke="#7fb0d8" stroke-width="0.55"/>
<line x1="393.62" y1="324.50" x2="393.62" y2="320.33" stroke="#7fb0d8" stroke-width="0.55"/>
<line x1="397.02" y1="324.50" x2="397.02" y2="320.35" stroke="#7fb0d8" stroke-width="0.55"/>
<line x1="399.06" y1="324.50" x2="399.06" y2="320.35" stroke="#7fb0d8" stroke-width="0.55"/>
<line x1="401.77" y1="324.50" x2="401.77" y2="320.35" stroke="#7fb0d8" stroke-width="0.55"/>
<line x1="403.81" y1="324.50" x2="403.81" y2="320.35" stroke="#7fb0d8" stroke-width="0.55"/>
<line x1="407.20" y1="324.50" x2="407.20" y2="320.35" stroke="#7fb0d8" stroke-width="0.55"/>
<line x1="409.24" y1="324.50" x2="409.24" y2="320.35" stroke="#7fb0d8" stroke-width="0.55"/>
<line x1="411.96" y1="324.50" x2="411.96" y2="320.35" stroke="#7fb0d8" stroke-width="0.55"/>
<line x1="413.99" y1="324.50" x2="413.99" y2="320.35" stroke="#7fb0d8" stroke-width="0.55"/>
<line x1="417.39" y1="324.50" x2="417.39" y2="320.35" stroke="#7fb0d8" stroke-width="0.55"/>
<line x1="419.43" y1="324.50" x2="419.43" y2="320.35" stroke="#7fb0d8" stroke-width="0.55"/>
<line x1="422.14" y1="324.50" x2="422.14" y2="320.35" stroke="#7fb0d8" stroke-width="0.55"/>
<line x1="424.18" y1="324.50" x2="424.18" y2="320.35" stroke="#7fb0d8" stroke-width="0.55"/>
<line x1="427.57" y1="324.50" x2="427.57" y2="320.40" stroke="#7fb0d8" stroke-width="0.55"/>
<line x1="429.61" y1="324.50" x2="429.61" y2="320.47" stroke="#7fb0d8" stroke-width="0.55"/>
<line x1="432.33" y1="324.50" x2="432.33" y2="320.51" stroke="#7fb0d8" stroke-width="0.55"/>
<line x1="434.36" y1="324.50" x2="434.36" y2="320.40" stroke="#7fb0d8" stroke-width="0.55"/>
<line x1="437.76" y1="324.50" x2="437.76" y2="320.01" stroke="#7fb0d8" stroke-width="0.55"/>
<line x1="439.80" y1="324.50" x2="439.80" y2="319.69" stroke="#7fb0d8" stroke-width="0.55"/>
<line x1="442.51" y1="324.50" x2="442.51" y2="319.22" stroke="#7fb0d8" stroke-width="0.55"/>
<line x1="444.55" y1="324.50" x2="444.55" y2="318.87" stroke="#7fb0d8" stroke-width="0.55"/>
<line x1="447.94" y1="324.50" x2="447.94" y2="318.34" stroke="#7fb0d8" stroke-width="0.55"/>
<line x1="449.98" y1="324.50" x2="449.98" y2="318.10" stroke="#7fb0d8" stroke-width="0.55"/>
<line x1="452.70" y1="324.50" x2="452.70" y2="317.88" stroke="#7fb0d8" stroke-width="0.55"/>
<line x1="454.73" y1="324.50" x2="454.73" y2="317.73" stroke="#7fb0d8" stroke-width="0.55"/>
<line x1="458.13" y1="324.50" x2="458.13" y2="317.52" stroke="#7fb0d8" stroke-width="0.55"/>
<line x1="460.16" y1="324.50" x2="460.16" y2="317.41" stroke="#7fb0d8" stroke-width="0.55"/>
<line x1="462.88" y1="324.50" x2="462.88" y2="317.27" stroke="#7fb0d8" stroke-width="0.55"/>
<line x1="464.92" y1="324.50" x2="464.92" y2="317.17" stroke="#7fb0d8" stroke-width="0.55"/>
<line x1="468.31" y1="324.50" x2="468.31" y2="317.03" stroke="#7fb0d8" stroke-width="0.55"/>
<line x1="470.35" y1="324.50" x2="470.35" y2="316.95" stroke="#7fb0d8" stroke-width="0.55"/>
<line x1="473.07" y1="324.50" x2="473.07" y2="316.84" stroke="#7fb0d8" stroke-width="0.55"/>
<line x1="475.10" y1="324.50" x2="475.10" y2="316.76" stroke="#7fb0d8" stroke-width="0.55"/>
<line x1="478.50" y1="324.50" x2="478.50" y2="316.63" stroke="#7fb0d8" stroke-width="0.55"/>
<line x1="480.53" y1="324.50" x2="480.53" y2="316.56" stroke="#7fb0d8" stroke-width="0.55"/>
<line x1="483.25" y1="324.50" x2="483.25" y2="316.48" stroke="#7fb0d8" stroke-width="0.55"/>
<line x1="485.29" y1="324.50" x2="485.29" y2="316.42" stroke="#7fb0d8" stroke-width="0.55"/>
<line x1="488.68" y1="324.50" x2="488.68" y2="316.33" stroke="#7fb0d8" stroke-width="0.55"/>
<line x1="490.72" y1="324.50" x2="490.72" y2="316.27" stroke="#7fb0d8" stroke-width="0.55"/>
<line x1="493.43" y1="324.50" x2="493.43" y2="316.18" stroke="#7fb0d8" stroke-width="0.55"/>
<line x1="495.47" y1="324.50" x2="495.47" y2="316.09" stroke="#7fb0d8" stroke-width="0.55"/>
<line x1="498.87" y1="324.50" x2="498.87" y2="315.90" stroke="#7fb0d8" stroke-width="0.55"/>
<line x1="500.90" y1="324.50" x2="500.90" y2="315.75" stroke="#7fb0d8" stroke-width="0.55"/>
<line x1="503.62" y1="324.50" x2="503.62" y2="315.49" stroke="#7fb0d8" stroke-width="0.55"/>
<line x1="505.66" y1="324.50" x2="505.66" y2="315.28" stroke="#7fb0d8" stroke-width="0.55"/>
<line x1="509.05" y1="324.50" x2="509.05" y2="314.86" stroke="#7fb0d8" stroke-width="0.55"/>
<line x1="511.09" y1="324.50" x2="511.09" y2="314.55" stroke="#7fb0d8" stroke-width="0.55"/>
<line x1="513.80" y1="324.50" x2="513.80" y2="314.07" stroke="#7fb0d8" stroke-width="0.55"/>
<line x1="515.84" y1="324.50" x2="515.84" y2="313.67" stroke="#7fb0d8" stroke-width="0.55"/>
<line x1="519.24" y1="324.50" x2="519.24" y2="312.98" stroke="#7fb0d8" stroke-width="0.55"/>
<line x1="521.27" y1="324.50" x2="521.27" y2="312.47" stroke="#7fb0d8" stroke-width="0.55"/>
<line x1="523.99" y1="324.50" x2="523.99" y2="311.76" stroke="#7fb0d8" stroke-width="0.55"/>
<line x1="526.03" y1="324.50" x2="526.03" y2="311.35" stroke="#7fb0d8" stroke-width="0.55"/>
<line x1="529.42" y1="324.50" x2="529.42" y2="311.00" stroke="#7fb0d8" stroke-width="0.55"/>
<line x1="531.46" y1="324.50" x2="531.46" y2="310.89" stroke="#7fb0d8" stroke-width="0.55"/>
<polyline points="314.86,308.34 315.54,308.28 316.22,308.21 316.90,308.14 317.58,308.07 318.26,308.00 318.94,307.93 319.62,307.85 320.30,307.77 320.97,307.70 321.65,307.62 322.33,307.53 323.01,307.45 323.69,307.36 324.37,307.28 325.05,307.19 325.73,307.10 326.41,307.01 327.09,306.92 327.76,306.82 328.44,306.73 329.12,306.63 329.80,306.53 330.48,306.43 331.16,306.33 331.84,306.22 332.52,306.11 333.20,306.00 333.88,305.88 334.55,305.77 335.23,305.65 335.91,305.53 336.59,305.41 337.27,305.29 337.95,305.17 338.63,305.05 339.31,304.92 339.99,304.80 340.66,304.67 341.34,304.55 342.02,304.42 342.70,304.29 343.38,304.16 344.06,304.03 344.74,303.89 345.42,303.76 346.10,303.62 346.78,303.48 347.45,303.34 348.13,303.19 348.81,303.05 349.49,302.91 350.17,302.77 350.85,302.62 351.53,302.48 352.21,302.34 352.89,302.20 353.57,302.06 354.24,301.92 354.92,301.78 355.60,301.65 356.28,301.52 356.96,301.38 357.64,301.24 358.32,301.11 359.00,300.97 359.68,300.83 360.36,300.69 361.03,300.55 361.71,300.41 362.39,300.27 363.07,300.14 363.75,300.01 364.43,299.88 365.11,299.76 365.79,299.64 366.47,299.52 367.14,299.41 367.82,299.30 368.50,299.20 369.18,299.11 369.86,299.02 370.54,298.93 371.22,298.84 371.90,298.75 372.58,298.66 373.26,298.57 373.93,298.49 374.61,298.40 375.29,298.32 375.97,298.25 376.65,298.17 377.33,298.10 378.01,298.03 378.69,297.97 379.37,297.92 380.05,297.86 380.72,297.82 381.40,297.78 382.08,297.75 382.76,297.73 383.44,297.71 384.12,297.69 384.80,297.67 385.48,297.65 386.16,297.64 386.84,297.62 387.51,297.60 388.19,297.59 388.87,297.58 389.55,297.56 390.23,297.55 390.91,297.54 391.59,297.53 392.27,297.52 392.95,297.51 393.62,297.51 394.30,297.50 394.98,297.50 395.66,297.50 396.34,297.50 397.02,297.50 397.70,297.50 398.38,297.50 399.06,297.50 399.74,297.50 400.41,297.50 401.09,297.50 401.77,297.50 402.45,297.50 403.13,297.50 403.81,297.50 404.49,297.50 405.17,297.50 405.85,297.50 406.53,297.50 407.20,297.50 407.88,297.50 408.56,297.50 409.24,297.50 409.92,297.50 410.60,297.50 411.28,297.50 411.96,297.50 412.64,297.50 413.32,297.50 413.99,297.50 414.67,297.50 415.35,297.50 416.03,297.50 416.71,297.50 417.39,297.50 418.07,297.50 418.75,297.50 419.43,297.50 420.11,297.50 420.78,297.50 421.46,297.50 422.14,297.50 422.82,297.50 423.50,297.50 424.18,297.50 424.86,297.50 425.54,297.50 426.22,297.50 426.89,297.50 427.57,297.50 428.25,297.50 428.93,297.50 429.61,297.50 430.29,297.50 430.97,297.49 431.65,297.46 432.33,297.42 433.01,297.36 433.68,297.29 434.36,297.20 435.04,297.10 435.72,296.99 436.40,296.87 437.08,296.74 437.76,296.60 438.44,296.46 439.12,296.30 439.80,296.15 440.47,295.99 441.15,295.82 441.83,295.66 442.51,295.49 443.19,295.33 443.87,295.16 444.55,295.00 445.23,294.84 445.91,294.68 446.59,294.53 447.26,294.39 447.94,294.25 448.62,294.13 449.30,294.01 449.98,293.90 450.66,293.80 451.34,293.71 452.02,293.63 452.70,293.54 453.38,293.45 454.05,293.37 454.73,293.29 455.41,293.21 456.09,293.13 456.77,293.05 457.45,292.97 458.13,292.89 458.81,292.82 459.49,292.74 460.16,292.67 460.84,292.59 461.52,292.52 462.20,292.45 462.88,292.38 463.56,292.31 464.24,292.24 464.92,292.18 465.60,292.11 466.28,292.04 466.95,291.98 467.63,291.92 468.31,291.85 468.99,291.79 469.67,291.73 470.35,291.67 471.03,291.61 471.71,291.55 472.39,291.49 473.07,291.43 473.74,291.37 474.42,291.31 475.10,291.26 475.78,291.20 476.46,291.14 477.14,291.09 477.82,291.03 478.50,290.98 479.18,290.93 479.86,290.88 480.53,290.83 481.21,290.79 481.89,290.74 482.57,290.70 483.25,290.66 483.93,290.61 484.61,290.57 485.29,290.53 485.97,290.49 486.64,290.45 487.32,290.41 488.00,290.38 488.68,290.34 489.36,290.30 490.04,290.25 490.72,290.21 491.40,290.17 492.08,290.13 492.76,290.08 493.43,290.03 494.11,289.99 494.79,289.94 495.47,289.88 496.15,289.83 496.83,289.77 497.51,289.71 498.19,289.65 498.87,289.58 499.55,289.51 500.22,289.44 500.90,289.36 501.58,289.28 502.26,289.19 502.94,289.10 503.62,289.01 504.30,288.91 504.98,288.81 505.66,288.71 506.34,288.60 507.01,288.49 507.69,288.38 508.37,288.26 509.05,288.15 509.73,288.02 510.41,287.89 511.09,287.75 511.77,287.60 512.45,287.45 513.12,287.29 513.80,287.14 514.48,286.97 515.16,286.81 515.84,286.64 516.52,286.47 517.20,286.30 517.88,286.13 518.56,285.96 519.24,285.78 519.91,285.58 520.59,285.37 521.27,285.16 521.95,284.94 522.63,284.72 523.31,284.51 523.99,284.30 524.67,284.11 525.35,283.93 526.03,283.78 526.70,283.65 527.38,283.53 528.06,283.43 528.74,283.32 529.42,283.23 530.10,283.15 530.78,283.07 531.46,283.01 532.14,282.96" fill="none" stroke="#ff1a1a" stroke-width="2.3"/>
<polyline points="314.86,309.04 315.54,308.99 316.22,308.94 316.90,308.89 317.58,308.85 318.26,308.80 318.94,308.75 319.62,308.70 320.30,308.65 320.97,308.59 321.65,308.54 322.33,308.49 323.01,308.44 323.69,308.38 324.37,308.33 325.05,308.27 325.73,308.22 326.41,308.16 327.09,308.10 327.76,308.05 328.44,307.99 329.12,307.93 329.80,307.87 330.48,307.81 331.16,307.75 331.84,307.69 332.52,307.63 333.20,307.57 333.88,307.51 334.55,307.44 335.23,307.38 335.91,307.32 336.59,307.25 337.27,307.19 337.95,307.13 338.63,307.06 339.31,306.99 339.99,306.93 340.66,306.86 341.34,306.80 342.02,306.73 342.70,306.66 343.38,306.59 344.06,306.52 344.74,306.45 345.42,306.37 346.10,306.30 346.78,306.22 347.45,306.14 348.13,306.06 348.81,305.98 349.49,305.90 350.17,305.82 350.85,305.74 351.53,305.66 352.21,305.57 352.89,305.49 353.57,305.40 354.24,305.32 354.92,305.23 355.60,305.15 356.28,305.06 356.96,304.97 357.64,304.89 358.32,304.80 359.00,304.72 359.68,304.63 360.36,304.55 361.03,304.46 361.71,304.38 362.39,304.29 363.07,304.21 363.75,304.13 364.43,304.04 365.11,303.96 365.79,303.88 366.47,303.80 367.14,303.72 367.82,303.65 368.50,303.57 369.18,303.50 369.86,303.42 370.54,303.34 371.22,303.27 371.90,303.19 372.58,303.11 373.26,303.02 373.93,302.94 374.61,302.86 375.29,302.78 375.97,302.71 376.65,302.63 377.33,302.56 378.01,302.49 378.69,302.42 379.37,302.36 380.05,302.30 380.72,302.24 381.40,302.19 382.08,302.15 382.76,302.11 383.44,302.08 384.12,302.04 384.80,302.01 385.48,301.98 386.16,301.94 386.84,301.91 387.51,301.88 388.19,301.85 388.87,301.82 389.55,301.80 390.23,301.77 390.91,301.75 391.59,301.73 392.27,301.71 392.95,301.69 393.62,301.68 394.30,301.67 394.98,301.66 395.66,301.65 396.34,301.65 397.02,301.65 397.70,301.65 398.38,301.65 399.06,301.65 399.74,301.65 400.41,301.65 401.09,301.65 401.77,301.65 402.45,301.65 403.13,301.65 403.81,301.65 404.49,301.65 405.17,301.65 405.85,301.65 406.53,301.65 407.20,301.65 407.88,301.65 408.56,301.65 409.24,301.65 409.92,301.65 410.60,301.65 411.28,301.65 411.96,301.65 412.64,301.65 413.32,301.65 413.99,301.65 414.67,301.65 415.35,301.65 416.03,301.65 416.71,301.65 417.39,301.65 418.07,301.65 418.75,301.65 419.43,301.65 420.11,301.65 420.78,301.65 421.46,301.65 422.14,301.65 422.82,301.65 423.50,301.65 424.18,301.65 424.86,301.64 425.54,301.64 426.22,301.62 426.89,301.61 427.57,301.59 428.25,301.57 428.93,301.55 429.61,301.53 430.29,301.50 430.97,301.47 431.65,301.44 432.33,301.41 433.01,301.37 433.68,301.33 434.36,301.30 435.04,301.26 435.72,301.22 436.40,301.17 437.08,301.13 437.76,301.09 438.44,301.04 439.12,301.00 439.80,300.95 440.47,300.91 441.15,300.86 441.83,300.81 442.51,300.77 443.19,300.72 443.87,300.68 444.55,300.63 445.23,300.59 445.91,300.54 446.59,300.50 447.26,300.46 447.94,300.42 448.62,300.38 449.30,300.34 449.98,300.30 450.66,300.27 451.34,300.23 452.02,300.20 452.70,300.16 453.38,300.13 454.05,300.09 454.73,300.05 455.41,300.02 456.09,299.98 456.77,299.94 457.45,299.91 458.13,299.87 458.81,299.83 459.49,299.80 460.16,299.76 460.84,299.72 461.52,299.69 462.20,299.65 462.88,299.61 463.56,299.58 464.24,299.54 464.92,299.50 465.60,299.47 466.28,299.43 466.95,299.40 467.63,299.36 468.31,299.32 468.99,299.29 469.67,299.26 470.35,299.22 471.03,299.19 471.71,299.16 472.39,299.12 473.07,299.09 473.74,299.06 474.42,299.03 475.10,299.00 475.78,298.97 476.46,298.94 477.14,298.91 477.82,298.88 478.50,298.85 479.18,298.83 479.86,298.80 480.53,298.78 481.21,298.75 481.89,298.73 482.57,298.70 483.25,298.68 483.93,298.66 484.61,298.63 485.29,298.61 485.97,298.59 486.64,298.57 487.32,298.55 488.00,298.52 488.68,298.50 489.36,298.48 490.04,298.46 490.72,298.44 491.40,298.42 492.08,298.40 492.76,298.38 493.43,298.36 494.11,298.34 494.79,298.32 495.47,298.29 496.15,298.27 496.83,298.25 497.51,298.23 498.19,298.21 498.87,298.18 499.55,298.16 500.22,298.14 500.90,298.11 501.58,298.09 502.26,298.06 502.94,298.04 503.62,298.01 504.30,297.99 504.98,297.96 505.66,297.93 506.34,297.90 507.01,297.87 507.69,297.84 508.37,297.81 509.05,297.78 509.73,297.75 510.41,297.72 511.09,297.69 511.77,297.66 512.45,297.63 513.12,297.60 513.80,297.57 514.48,297.53 515.16,297.50 515.84,297.47 516.52,297.43 517.20,297.40 517.88,297.36 518.56,297.33 519.24,297.29 519.91,297.26 520.59,297.22 521.27,297.19 521.95,297.15 522.63,297.11 523.31,297.08 523.99,297.04 524.67,297.00 525.35,296.96 526.03,296.93 526.70,296.89 527.38,296.85 528.06,296.81 528.74,296.77 529.42,296.73 530.10,296.69 530.78,296.65 531.46,296.61 532.14,296.57" fill="none" stroke="#1a86ee" stroke-width="2.2" stroke-dasharray="7,3.2"/>
<rect x="303.3" y="266.8" width="239.0" height="57.7" fill="none" stroke="#aaa" stroke-width="0.9"/>
<line x1="301.3" y1="324.50" x2="303.3" y2="324.50" stroke="#999" stroke-width="0.7"/>
<text transform="translate(300.50,327.50) scale(0.955,1)" font-size="8.6" text-anchor="end" fill="#2a2a2a" stroke="#2a2a2a" stroke-width="0.05">0</text>
<line x1="301.3" y1="312.96" x2="303.3" y2="312.96" stroke="#999" stroke-width="0.7"/>
<text transform="translate(300.50,315.96) scale(0.955,1)" font-size="8.6" text-anchor="end" fill="#2a2a2a" stroke="#2a2a2a" stroke-width="0.05">50</text>
<line x1="301.3" y1="301.42" x2="303.3" y2="301.42" stroke="#999" stroke-width="0.7"/>
<text transform="translate(300.50,304.42) scale(0.955,1)" font-size="8.6" text-anchor="end" fill="#2a2a2a" stroke="#2a2a2a" stroke-width="0.05">100</text>
<line x1="301.3" y1="289.88" x2="303.3" y2="289.88" stroke="#999" stroke-width="0.7"/>
<text transform="translate(300.50,292.88) scale(0.955,1)" font-size="8.6" text-anchor="end" fill="#2a2a2a" stroke="#2a2a2a" stroke-width="0.05">150</text>
<line x1="301.3" y1="278.34" x2="303.3" y2="278.34" stroke="#999" stroke-width="0.7"/>
<text transform="translate(300.50,281.34) scale(0.955,1)" font-size="8.6" text-anchor="end" fill="#2a2a2a" stroke="#2a2a2a" stroke-width="0.05">200</text>
<line x1="301.3" y1="266.80" x2="303.3" y2="266.80" stroke="#999" stroke-width="0.7"/>
<text transform="translate(300.50,269.80) scale(0.955,1)" font-size="8.6" text-anchor="end" fill="#2a2a2a" stroke="#2a2a2a" stroke-width="0.05">250</text>
<line x1="314.86" y1="324.5" x2="314.86" y2="326.5" stroke="#999" stroke-width="0.7"/>
<text transform="translate(314.86,333.30) scale(0.955,1)" font-size="8.6" text-anchor="middle" fill="#2a2a2a" stroke="#2a2a2a" stroke-width="0.05">0</text>
<line x1="342.02" y1="324.5" x2="342.02" y2="326.5" stroke="#999" stroke-width="0.7"/>
<text transform="translate(342.02,333.30) scale(0.955,1)" font-size="8.6" text-anchor="middle" fill="#2a2a2a" stroke="#2a2a2a" stroke-width="0.05">40</text>
<line x1="369.18" y1="324.5" x2="369.18" y2="326.5" stroke="#999" stroke-width="0.7"/>
<text transform="translate(369.18,333.30) scale(0.955,1)" font-size="8.6" text-anchor="middle" fill="#2a2a2a" stroke="#2a2a2a" stroke-width="0.05">80</text>
<line x1="396.34" y1="324.5" x2="396.34" y2="326.5" stroke="#999" stroke-width="0.7"/>
<text transform="translate(396.34,333.30) scale(0.955,1)" font-size="8.6" text-anchor="middle" fill="#2a2a2a" stroke="#2a2a2a" stroke-width="0.05">120</text>
<line x1="423.50" y1="324.5" x2="423.50" y2="326.5" stroke="#999" stroke-width="0.7"/>
<text transform="translate(423.50,333.30) scale(0.955,1)" font-size="8.6" text-anchor="middle" fill="#2a2a2a" stroke="#2a2a2a" stroke-width="0.05">160</text>
<line x1="450.66" y1="324.5" x2="450.66" y2="326.5" stroke="#999" stroke-width="0.7"/>
<text transform="translate(450.66,333.30) scale(0.955,1)" font-size="8.6" text-anchor="middle" fill="#2a2a2a" stroke="#2a2a2a" stroke-width="0.05">200</text>
<line x1="477.82" y1="324.5" x2="477.82" y2="326.5" stroke="#999" stroke-width="0.7"/>
<text transform="translate(477.82,333.30) scale(0.955,1)" font-size="8.6" text-anchor="middle" fill="#2a2a2a" stroke="#2a2a2a" stroke-width="0.05">240</text>
<line x1="504.98" y1="324.5" x2="504.98" y2="326.5" stroke="#999" stroke-width="0.7"/>
<text transform="translate(504.98,333.30) scale(0.955,1)" font-size="8.6" text-anchor="middle" fill="#2a2a2a" stroke="#2a2a2a" stroke-width="0.05">280</text>
<line x1="532.14" y1="324.5" x2="532.14" y2="326.5" stroke="#999" stroke-width="0.7"/>
<text transform="translate(532.14,333.30) scale(0.955,1)" font-size="8.6" text-anchor="middle" fill="#2a2a2a" stroke="#2a2a2a" stroke-width="0.05">320</text>
<text transform="translate(422.50,342.70) scale(1.038,1)" font-size="8.3" text-anchor="middle" fill="#2a2a2a" stroke="#2a2a2a" stroke-width="0.1">Cutting number</text>
<text transform="translate(429.20,351.60) scale(0.918,1)" font-size="8.3" text-anchor="middle" fill="#2a2a2a" stroke="#2a2a2a" stroke-width="0.1">BiGRU</text>
<g transform="translate(280.1,295.15000000000003) rotate(-90)">
<text transform="translate(0.00,2.60) scale(1.034,1)" font-size="7.9" text-anchor="middle" fill="#2a2a2a" stroke="#2a2a2a" stroke-width="0.12">Tool wear(μm)</text>
</g>
<rect x="305.3" y="269.1" width="49.5" height="27" rx="1.5" fill="#fff" fill-opacity="0.8" stroke="#ddd" stroke-width="0.7"/>
<line x1="307.8" y1="274.0" x2="321.1" y2="274.0" stroke="#ff1a1a" stroke-width="1.7"/>
<line x1="308.3" y1="282.40000000000003" x2="320.8" y2="282.40000000000003" stroke="#1a86ee" stroke-width="1.7" stroke-dasharray="7.5,3"/>
<rect x="308.3" y="288.90000000000003" width="11.8" height="4" fill="#0d4f9e"/>
<text transform="translate(324.70,276.70) scale(0.946,1)" font-size="6.6" text-anchor="start" fill="#2a2a2a">True data</text>
<text transform="translate(324.70,284.80) scale(0.978,1)" font-size="6.6" text-anchor="start" fill="#2a2a2a">prediction</text>
<text transform="translate(324.70,293.00) scale(0.900,1)" font-size="6.6" text-anchor="start" fill="#2a2a2a">Error</text>
</g>
<g>
<polygon points="44.82,422.80 44.82,422.34 45.50,422.34 45.50,422.33 46.18,422.33 46.18,422.31 46.86,422.31 46.86,422.30 47.54,422.30 47.54,422.28 48.22,422.28 48.22,422.26 48.90,422.26 48.90,422.25 49.58,422.25 49.58,422.23 50.26,422.23 50.26,422.21 50.93,422.21 50.93,422.18 51.61,422.18 51.61,422.16 52.29,422.16 52.29,422.14 52.97,422.14 52.97,422.11 53.65,422.11 53.65,422.09 54.33,422.09 54.33,422.06 55.01,422.06 55.01,422.03 55.69,422.03 55.69,422.01 56.37,422.01 56.37,421.98 57.05,421.98 57.05,421.95 57.72,421.95 57.72,421.92 58.40,421.92 58.40,421.89 59.08,421.89 59.08,421.85 59.76,421.85 59.76,421.82 60.44,421.82 60.44,421.78 61.12,421.78 61.12,421.74 61.80,421.74 61.80,421.70 62.48,421.70 62.48,421.66 63.16,421.66 63.16,421.61 63.84,421.61 63.84,421.57 64.51,421.57 64.51,421.52 65.19,421.52 65.19,421.47 65.87,421.47 65.87,421.42 66.55,421.42 66.55,421.37 67.23,421.37 67.23,421.32 67.91,421.32 67.91,421.27 68.59,421.27 68.59,421.22 69.27,421.22 69.27,421.17 69.95,421.17 69.95,421.11 70.63,421.11 70.63,421.06 71.30,421.06 71.30,421.01 71.98,421.01 71.98,420.95 72.66,420.95 72.66,420.90 73.34,420.90 73.34,420.85 74.02,420.85 74.02,420.80 74.70,420.80 74.70,420.75 75.38,420.75 75.38,420.70 76.06,420.70 76.06,420.65 76.74,420.65 76.74,420.60 77.42,420.60 77.42,420.55 78.09,420.55 78.09,420.50 78.77,420.50 78.77,420.46 79.45,420.46 79.45,420.41 80.13,420.41 80.13,420.37 80.81,420.37 80.81,420.33 81.49,420.33 81.49,420.28 82.17,420.28 82.17,420.24 82.85,420.24 82.85,420.20 83.53,420.20 83.53,420.17 84.20,420.17 84.20,420.13 84.88,420.13 84.88,420.10 85.56,420.10 85.56,420.06 86.24,420.06 86.24,420.03 86.92,420.03 86.92,419.99 87.60,419.99 87.60,419.96 88.28,419.96 88.28,419.91 88.96,419.91 88.96,419.87 89.64,419.87 89.64,419.82 90.32,419.82 90.32,419.77 90.99,419.77 90.99,419.73 91.67,419.73 91.67,419.67 92.35,419.67 92.35,419.62 93.03,419.62 93.03,419.57 93.71,419.57 93.71,419.52 94.39,419.52 94.39,419.46 95.07,419.46 95.07,419.41 95.75,419.41 95.75,419.36 96.43,419.36 96.43,419.31 97.11,419.31 97.11,419.25 97.78,419.25 97.78,419.20 98.46,419.20 98.46,419.15 99.14,419.15 99.14,419.11 99.82,419.11 99.82,419.06 100.50,419.06 100.50,419.01 101.18,419.01 101.18,418.96 101.86,418.96 101.86,418.91 102.54,418.91 102.54,418.86 103.22,418.86 103.22,418.81 103.90,418.81 103.90,418.76 104.57,418.76 104.57,418.71 105.25,418.71 105.25,418.66 105.93,418.66 105.93,418.62 106.61,418.62 106.61,418.57 107.29,418.57 107.29,418.53 107.97,418.53 107.97,418.50 108.65,418.50 108.65,418.47 109.33,418.47 109.33,418.44 110.01,418.44 110.01,418.42 110.68,418.42 110.68,418.40 111.36,418.40 111.36,418.39 112.04,418.39 112.04,418.38 112.72,418.38 112.72,418.39 113.40,418.39 113.40,418.39 114.08,418.39 114.08,418.40 114.76,418.40 114.76,418.41 115.44,418.41 115.44,418.41 116.12,418.41 116.12,418.42 116.80,418.42 116.80,418.43 117.47,418.43 117.47,418.44 118.15,418.44 118.15,418.45 118.83,418.45 118.83,418.46 119.51,418.46 119.51,418.47 120.19,418.47 120.19,418.48 120.87,418.48 120.87,418.49 121.55,418.49 121.55,418.51 122.23,418.51 122.23,418.52 122.91,418.52 122.91,418.54 123.59,418.54 123.59,418.56 124.26,418.56 124.26,418.58 124.94,418.58 124.94,418.60 125.62,418.60 125.62,418.62 126.30,418.62 126.30,418.65 126.98,418.65 126.98,418.67 127.66,418.67 127.66,418.70 128.34,418.70 128.34,418.72 129.02,418.72 129.02,418.75 129.70,418.75 129.70,418.77 130.38,418.77 130.38,418.79 131.05,418.79 131.05,418.82 131.73,418.82 131.73,418.84 132.41,418.84 132.41,418.86 133.09,418.86 133.09,418.89 133.77,418.89 133.77,418.91 134.45,418.91 134.45,418.93 135.13,418.93 135.13,418.95 135.81,418.95 135.81,418.98 136.49,418.98 136.49,419.00 137.17,419.00 137.17,419.02 137.84,419.02 137.84,419.04 138.52,419.04 138.52,419.06 139.20,419.06 139.20,419.09 139.88,419.09 139.88,419.11 140.56,419.11 140.56,419.13 141.24,419.13 141.24,419.15 141.92,419.15 141.92,419.17 142.60,419.17 142.60,419.19 143.28,419.19 143.28,419.22 143.95,419.22 143.95,419.24 144.63,419.24 144.63,419.26 145.31,419.26 145.31,419.28 145.99,419.28 145.99,419.31 146.67,419.31 146.67,419.33 147.35,419.33 147.35,419.35 148.03,419.35 148.03,419.37 148.71,419.37 148.71,419.40 149.39,419.40 149.39,419.42 150.07,419.42 150.07,419.44 150.74,419.44 150.74,419.47 151.42,419.47 151.42,419.49 152.10,419.49 152.10,419.52 152.78,419.52 152.78,419.54 153.46,419.54 153.46,419.57 154.14,419.57 154.14,419.59 154.82,419.59 154.82,419.62 155.50,419.62 155.50,419.65 156.18,419.65 156.18,419.67 156.86,419.67 156.86,419.70 157.53,419.70 157.53,419.72 158.21,419.72 158.21,419.75 158.89,419.75 158.89,419.78 159.57,419.78 159.57,419.80 160.25,419.80 160.25,419.83 160.93,419.83 160.93,419.85 161.61,419.85 161.61,419.85 162.29,419.85 162.29,419.83 162.97,419.83 162.97,419.80 163.65,419.80 163.65,419.75 164.32,419.75 164.32,419.70 165.00,419.70 165.00,419.62 165.68,419.62 165.68,419.54 166.36,419.54 166.36,419.45 167.04,419.45 167.04,419.35 167.72,419.35 167.72,419.24 168.40,419.24 168.40,419.12 169.08,419.12 169.08,419.00 169.76,419.00 169.76,418.87 170.43,418.87 170.43,418.74 171.11,418.74 171.11,418.61 171.79,418.61 171.79,418.47 172.47,418.47 172.47,418.34 173.15,418.34 173.15,418.20 173.83,418.20 173.83,418.07 174.51,418.07 174.51,417.93 175.19,417.93 175.19,417.80 175.87,417.80 175.87,417.68 176.55,417.68 176.55,417.56 177.22,417.56 177.22,417.45 177.90,417.45 177.90,417.35 178.58,417.35 178.58,417.25 179.26,417.25 179.26,417.17 179.94,417.17 179.94,417.09 180.62,417.09 180.62,417.03 181.30,417.03 181.30,416.97 181.98,416.97 181.98,416.92 182.66,416.92 182.66,416.87 183.34,416.87 183.34,416.82 184.01,416.82 184.01,416.78 184.69,416.78 184.69,416.73 185.37,416.73 185.37,416.69 186.05,416.69 186.05,416.64 186.73,416.64 186.73,416.61 187.41,416.61 187.41,416.57 188.09,416.57 188.09,416.53 188.77,416.53 188.77,416.49 189.45,416.49 189.45,416.46 190.13,416.46 190.13,416.43 190.80,416.43 190.80,416.40 191.48,416.40 191.48,416.37 192.16,416.37 192.16,416.34 192.84,416.34 192.84,416.31 193.52,416.31 193.52,416.29 194.20,416.29 194.20,416.26 194.88,416.26 194.88,416.24 195.56,416.24 195.56,416.21 196.24,416.21 196.24,416.19 196.92,416.19 196.92,416.17 197.59,416.17 197.59,416.15 198.27,416.15 198.27,416.13 198.95,416.13 198.95,416.11 199.63,416.11 199.63,416.09 200.31,416.09 200.31,416.07 200.99,416.07 200.99,416.05 201.67,416.05 201.67,416.03 202.35,416.03 202.35,416.01 203.03,416.01 203.03,416.00 203.70,416.00 203.70,415.98 204.38,415.98 204.38,415.96 205.06,415.96 205.06,415.95 205.74,415.95 205.74,415.93 206.42,415.93 206.42,415.91 207.10,415.91 207.10,415.89 207.78,415.89 207.78,415.88 208.46,415.88 208.46,415.86 209.14,415.86 209.14,415.84 209.82,415.84 209.82,415.83 210.49,415.83 210.49,415.82 211.17,415.82 211.17,415.81 211.85,415.81 211.85,415.80 212.53,415.80 212.53,415.79 213.21,415.79 213.21,415.78 213.89,415.78 213.89,415.77 214.57,415.77 214.57,415.76 215.25,415.76 215.25,415.76 215.93,415.76 215.93,415.75 216.61,415.75 216.61,415.74 217.28,415.74 217.28,415.74 217.96,415.74 217.96,415.73 218.64,415.73 218.64,415.72 219.32,415.72 219.32,415.71 220.00,415.71 220.00,415.70 220.68,415.70 220.68,415.69 221.36,415.69 221.36,415.68 222.04,415.68 222.04,415.67 222.72,415.67 222.72,415.66 223.40,415.66 223.40,415.64 224.07,415.64 224.07,415.63 224.75,415.63 224.75,415.61 225.43,415.61 225.43,415.59 226.11,415.59 226.11,415.57 226.79,415.57 226.79,415.55 227.47,415.55 227.47,415.52 228.15,415.52 228.15,415.50 228.83,415.50 228.83,415.47 229.51,415.47 229.51,415.43 230.18,415.43 230.18,415.39 230.86,415.39 230.86,415.35 231.54,415.35 231.54,415.31 232.22,415.31 232.22,415.26 232.90,415.26 232.90,415.21 233.58,415.21 233.58,415.15 234.26,415.15 234.26,415.09 234.94,415.09 234.94,415.04 235.62,415.04 235.62,414.97 236.30,414.97 236.30,414.91 236.97,414.91 236.97,414.84 237.65,414.84 237.65,414.78 238.33,414.78 238.33,414.71 239.01,414.71 239.01,414.63 239.69,414.63 239.69,414.55 240.37,414.55 240.37,414.46 241.05,414.46 241.05,414.37 241.73,414.37 241.73,414.27 242.41,414.27 242.41,414.17 243.09,414.17 243.09,414.06 243.76,414.06 243.76,413.95 244.44,413.95 244.44,413.84 245.12,413.84 245.12,413.72 245.80,413.72 245.80,413.60 246.48,413.60 246.48,413.49 247.16,413.49 247.16,413.37 247.84,413.37 247.84,413.25 248.52,413.25 248.52,413.13 249.20,413.13 249.20,413.00 249.88,413.00 249.88,412.86 250.55,412.86 250.55,412.70 251.23,412.70 251.23,412.54 251.91,412.54 251.91,412.38 252.59,412.38 252.59,412.21 253.27,412.21 253.27,412.05 253.95,412.05 253.95,411.90 254.63,411.90 254.63,411.77 255.31,411.77 255.31,411.65 255.99,411.65 255.99,411.55 256.67,411.55 256.67,411.48 257.34,411.48 257.34,411.42 258.02,411.42 258.02,411.37 258.70,411.37 258.70,411.33 259.38,411.33 259.38,411.29 260.06,411.29 260.06,411.27 260.74,411.27 260.74,411.25 261.42,411.25 261.42,411.25 262.10,411.25 262.10,411.26 262.78,411.26 262.78,422.80" fill="#1e66a3"/>
<line x1="45.84" y1="422.80" x2="45.84" y2="422.33" stroke="#7fb0d8" stroke-width="0.55"/>
<line x1="47.88" y1="422.80" x2="47.88" y2="422.28" stroke="#7fb0d8" stroke-width="0.55"/>
<line x1="50.60" y1="422.80" x2="50.60" y2="422.21" stroke="#7fb0d8" stroke-width="0.55"/>
<line x1="52.63" y1="422.80" x2="52.63" y2="422.14" stroke="#7fb0d8" stroke-width="0.55"/>
<line x1="56.03" y1="422.80" x2="56.03" y2="422.01" stroke="#7fb0d8" stroke-width="0.55"/>
<line x1="58.06" y1="422.80" x2="58.06" y2="421.92" stroke="#7fb0d8" stroke-width="0.55"/>
<line x1="60.78" y1="422.80" x2="60.78" y2="421.78" stroke="#7fb0d8" stroke-width="0.55"/>
<line x1="62.82" y1="422.80" x2="62.82" y2="421.66" stroke="#7fb0d8" stroke-width="0.55"/>
<line x1="66.21" y1="422.80" x2="66.21" y2="421.42" stroke="#7fb0d8" stroke-width="0.55"/>
<line x1="68.25" y1="422.80" x2="68.25" y2="421.27" stroke="#7fb0d8" stroke-width="0.55"/>
<line x1="70.96" y1="422.80" x2="70.96" y2="421.06" stroke="#7fb0d8" stroke-width="0.55"/>
<line x1="73.00" y1="422.80" x2="73.00" y2="420.90" stroke="#7fb0d8" stroke-width="0.55"/>
<line x1="76.40" y1="422.80" x2="76.40" y2="420.65" stroke="#7fb0d8" stroke-width="0.55"/>
<line x1="78.43" y1="422.80" x2="78.43" y2="420.50" stroke="#7fb0d8" stroke-width="0.55"/>
<line x1="81.15" y1="422.80" x2="81.15" y2="420.33" stroke="#7fb0d8" stroke-width="0.55"/>
<line x1="83.19" y1="422.80" x2="83.19" y2="420.20" stroke="#7fb0d8" stroke-width="0.55"/>
<line x1="86.58" y1="422.80" x2="86.58" y2="420.03" stroke="#7fb0d8" stroke-width="0.55"/>
<line x1="88.62" y1="422.80" x2="88.62" y2="419.91" stroke="#7fb0d8" stroke-width="0.55"/>
<line x1="91.33" y1="422.80" x2="91.33" y2="419.73" stroke="#7fb0d8" stroke-width="0.55"/>
<line x1="93.37" y1="422.80" x2="93.37" y2="419.57" stroke="#7fb0d8" stroke-width="0.55"/>
<line x1="96.77" y1="422.80" x2="96.77" y2="419.31" stroke="#7fb0d8" stroke-width="0.55"/>
<line x1="98.80" y1="422.80" x2="98.80" y2="419.15" stroke="#7fb0d8" stroke-width="0.55"/>
<line x1="101.52" y1="422.80" x2="101.52" y2="418.96" stroke="#7fb0d8" stroke-width="0.55"/>
<line x1="103.56" y1="422.80" x2="103.56" y2="418.81" stroke="#7fb0d8" stroke-width="0.55"/>
<line x1="106.95" y1="422.80" x2="106.95" y2="418.57" stroke="#7fb0d8" stroke-width="0.55"/>
<line x1="108.99" y1="422.80" x2="108.99" y2="418.47" stroke="#7fb0d8" stroke-width="0.55"/>
<line x1="111.70" y1="422.80" x2="111.70" y2="418.39" stroke="#7fb0d8" stroke-width="0.55"/>
<line x1="113.74" y1="422.80" x2="113.74" y2="418.39" stroke="#7fb0d8" stroke-width="0.55"/>
<line x1="117.14" y1="422.80" x2="117.14" y2="418.43" stroke="#7fb0d8" stroke-width="0.55"/>
<line x1="119.17" y1="422.80" x2="119.17" y2="418.46" stroke="#7fb0d8" stroke-width="0.55"/>
<line x1="121.89" y1="422.80" x2="121.89" y2="418.51" stroke="#7fb0d8" stroke-width="0.55"/>
<line x1="123.93" y1="422.80" x2="123.93" y2="418.56" stroke="#7fb0d8" stroke-width="0.55"/>
<line x1="127.32" y1="422.80" x2="127.32" y2="418.67" stroke="#7fb0d8" stroke-width="0.55"/>
<line x1="129.36" y1="422.80" x2="129.36" y2="418.75" stroke="#7fb0d8" stroke-width="0.55"/>
<line x1="132.07" y1="422.80" x2="132.07" y2="418.84" stroke="#7fb0d8" stroke-width="0.55"/>
<line x1="134.11" y1="422.80" x2="134.11" y2="418.91" stroke="#7fb0d8" stroke-width="0.55"/>
<line x1="137.50" y1="422.80" x2="137.50" y2="419.02" stroke="#7fb0d8" stroke-width="0.55"/>
<line x1="139.54" y1="422.80" x2="139.54" y2="419.09" stroke="#7fb0d8" stroke-width="0.55"/>
<line x1="142.26" y1="422.80" x2="142.26" y2="419.17" stroke="#7fb0d8" stroke-width="0.55"/>
<line x1="144.29" y1="422.80" x2="144.29" y2="419.24" stroke="#7fb0d8" stroke-width="0.55"/>
<line x1="147.69" y1="422.80" x2="147.69" y2="419.35" stroke="#7fb0d8" stroke-width="0.55"/>
<line x1="149.73" y1="422.80" x2="149.73" y2="419.42" stroke="#7fb0d8" stroke-width="0.55"/>
<line x1="152.44" y1="422.80" x2="152.44" y2="419.52" stroke="#7fb0d8" stroke-width="0.55"/>
<line x1="154.48" y1="422.80" x2="154.48" y2="419.59" stroke="#7fb0d8" stroke-width="0.55"/>
<line x1="157.87" y1="422.80" x2="157.87" y2="419.72" stroke="#7fb0d8" stroke-width="0.55"/>
<line x1="159.91" y1="422.80" x2="159.91" y2="419.80" stroke="#7fb0d8" stroke-width="0.55"/>
<line x1="162.63" y1="422.80" x2="162.63" y2="419.83" stroke="#7fb0d8" stroke-width="0.55"/>
<line x1="164.66" y1="422.80" x2="164.66" y2="419.70" stroke="#7fb0d8" stroke-width="0.55"/>
<line x1="168.06" y1="422.80" x2="168.06" y2="419.24" stroke="#7fb0d8" stroke-width="0.55"/>
<line x1="170.10" y1="422.80" x2="170.10" y2="418.87" stroke="#7fb0d8" stroke-width="0.55"/>
<line x1="172.81" y1="422.80" x2="172.81" y2="418.34" stroke="#7fb0d8" stroke-width="0.55"/>
<line x1="174.85" y1="422.80" x2="174.85" y2="417.93" stroke="#7fb0d8" stroke-width="0.55"/>
<line x1="178.24" y1="422.80" x2="178.24" y2="417.35" stroke="#7fb0d8" stroke-width="0.55"/>
<line x1="180.28" y1="422.80" x2="180.28" y2="417.09" stroke="#7fb0d8" stroke-width="0.55"/>
<line x1="183.00" y1="422.80" x2="183.00" y2="416.87" stroke="#7fb0d8" stroke-width="0.55"/>
<line x1="185.03" y1="422.80" x2="185.03" y2="416.73" stroke="#7fb0d8" stroke-width="0.55"/>
<line x1="188.43" y1="422.80" x2="188.43" y2="416.53" stroke="#7fb0d8" stroke-width="0.55"/>
<line x1="190.46" y1="422.80" x2="190.46" y2="416.43" stroke="#7fb0d8" stroke-width="0.55"/>
<line x1="193.18" y1="422.80" x2="193.18" y2="416.31" stroke="#7fb0d8" stroke-width="0.55"/>
<line x1="195.22" y1="422.80" x2="195.22" y2="416.24" stroke="#7fb0d8" stroke-width="0.55"/>
<line x1="198.61" y1="422.80" x2="198.61" y2="416.13" stroke="#7fb0d8" stroke-width="0.55"/>
<line x1="200.65" y1="422.80" x2="200.65" y2="416.07" stroke="#7fb0d8" stroke-width="0.55"/>
<line x1="203.37" y1="422.80" x2="203.37" y2="416.00" stroke="#7fb0d8" stroke-width="0.55"/>
<line x1="205.40" y1="422.80" x2="205.40" y2="415.95" stroke="#7fb0d8" stroke-width="0.55"/>
<line x1="208.80" y1="422.80" x2="208.80" y2="415.86" stroke="#7fb0d8" stroke-width="0.55"/>
<line x1="210.83" y1="422.80" x2="210.83" y2="415.82" stroke="#7fb0d8" stroke-width="0.55"/>
<line x1="213.55" y1="422.80" x2="213.55" y2="415.78" stroke="#7fb0d8" stroke-width="0.55"/>
<line x1="215.59" y1="422.80" x2="215.59" y2="415.76" stroke="#7fb0d8" stroke-width="0.55"/>
<line x1="218.98" y1="422.80" x2="218.98" y2="415.72" stroke="#7fb0d8" stroke-width="0.55"/>
<line x1="221.02" y1="422.80" x2="221.02" y2="415.69" stroke="#7fb0d8" stroke-width="0.55"/>
<line x1="223.73" y1="422.80" x2="223.73" y2="415.64" stroke="#7fb0d8" stroke-width="0.55"/>
<line x1="225.77" y1="422.80" x2="225.77" y2="415.59" stroke="#7fb0d8" stroke-width="0.55"/>
<line x1="229.17" y1="422.80" x2="229.17" y2="415.47" stroke="#7fb0d8" stroke-width="0.55"/>
<line x1="231.20" y1="422.80" x2="231.20" y2="415.35" stroke="#7fb0d8" stroke-width="0.55"/>
<line x1="233.92" y1="422.80" x2="233.92" y2="415.15" stroke="#7fb0d8" stroke-width="0.55"/>
<line x1="235.96" y1="422.80" x2="235.96" y2="414.97" stroke="#7fb0d8" stroke-width="0.55"/>
<line x1="239.35" y1="422.80" x2="239.35" y2="414.63" stroke="#7fb0d8" stroke-width="0.55"/>
<line x1="241.39" y1="422.80" x2="241.39" y2="414.37" stroke="#7fb0d8" stroke-width="0.55"/>
<line x1="244.10" y1="422.80" x2="244.10" y2="413.95" stroke="#7fb0d8" stroke-width="0.55"/>
<line x1="246.14" y1="422.80" x2="246.14" y2="413.60" stroke="#7fb0d8" stroke-width="0.55"/>
<line x1="249.54" y1="422.80" x2="249.54" y2="413.00" stroke="#7fb0d8" stroke-width="0.55"/>
<line x1="251.57" y1="422.80" x2="251.57" y2="412.54" stroke="#7fb0d8" stroke-width="0.55"/>
<line x1="254.29" y1="422.80" x2="254.29" y2="411.90" stroke="#7fb0d8" stroke-width="0.55"/>
<line x1="256.33" y1="422.80" x2="256.33" y2="411.55" stroke="#7fb0d8" stroke-width="0.55"/>
<line x1="259.72" y1="422.80" x2="259.72" y2="411.29" stroke="#7fb0d8" stroke-width="0.55"/>
<line x1="261.76" y1="422.80" x2="261.76" y2="411.25" stroke="#7fb0d8" stroke-width="0.55"/>
<polyline points="45.16,406.64 45.84,406.58 46.52,406.51 47.20,406.44 47.88,406.37 48.56,406.30 49.24,406.23 49.92,406.15 50.60,406.07 51.27,406.00 51.95,405.92 52.63,405.83 53.31,405.75 53.99,405.66 54.67,405.58 55.35,405.49 56.03,405.40 56.71,405.31 57.39,405.22 58.06,405.12 58.74,405.03 59.42,404.93 60.10,404.83 60.78,404.73 61.46,404.63 62.14,404.52 62.82,404.41 63.50,404.30 64.18,404.18 64.85,404.07 65.53,403.95 66.21,403.83 66.89,403.71 67.57,403.59 68.25,403.47 68.93,403.35 69.61,403.22 70.29,403.10 70.96,402.97 71.64,402.85 72.32,402.72 73.00,402.59 73.68,402.46 74.36,402.33 75.04,402.19 75.72,402.06 76.40,401.92 77.08,401.78 77.75,401.64 78.43,401.49 79.11,401.35 79.79,401.21 80.47,401.07 81.15,400.92 81.83,400.78 82.51,400.64 83.19,400.50 83.87,400.36 84.54,400.22 85.22,400.08 85.90,399.95 86.58,399.82 87.26,399.68 87.94,399.54 88.62,399.41 89.30,399.27 89.98,399.13 90.66,398.99 91.33,398.85 92.01,398.71 92.69,398.57 93.37,398.44 94.05,398.31 94.73,398.18 95.41,398.06 96.09,397.94 96.77,397.82 97.44,397.71 98.12,397.60 98.80,397.50 99.48,397.41 100.16,397.32 100.84,397.23 101.52,397.14 102.20,397.05 102.88,396.96 103.56,396.87 104.23,396.79 104.91,396.70 105.59,396.62 106.27,396.55 106.95,396.47 107.63,396.40 108.31,396.33 108.99,396.27 109.67,396.22 110.35,396.16 111.02,396.12 111.70,396.08 112.38,396.05 113.06,396.03 113.74,396.01 114.42,395.99 115.10,395.97 115.78,395.95 116.46,395.94 117.14,395.92 117.81,395.90 118.49,395.89 119.17,395.88 119.85,395.86 120.53,395.85 121.21,395.84 121.89,395.83 122.57,395.82 123.25,395.81 123.93,395.81 124.60,395.80 125.28,395.80 125.96,395.80 126.64,395.80 127.32,395.80 128.00,395.80 128.68,395.80 129.36,395.80 130.04,395.80 130.71,395.80 131.39,395.80 132.07,395.80 132.75,395.80 133.43,395.80 134.11,395.80 134.79,395.80 135.47,395.80 136.15,395.80 136.83,395.80 137.50,395.80 138.18,395.80 138.86,395.80 139.54,395.80 140.22,395.80 140.90,395.80 141.58,395.80 142.26,395.80 142.94,395.80 143.62,395.80 144.29,395.80 144.97,395.80 145.65,395.80 146.33,395.80 147.01,395.80 147.69,395.80 148.37,395.80 149.05,395.80 149.73,395.80 150.41,395.80 151.08,395.80 151.76,395.80 152.44,395.80 153.12,395.80 153.80,395.80 154.48,395.80 155.16,395.80 155.84,395.80 156.52,395.80 157.19,395.80 157.87,395.80 158.55,395.80 159.23,395.80 159.91,395.80 160.59,395.80 161.27,395.79 161.95,395.76 162.63,395.72 163.31,395.66 163.98,395.59 164.66,395.50 165.34,395.40 166.02,395.29 166.70,395.17 167.38,395.04 168.06,394.90 168.74,394.76 169.42,394.60 170.10,394.45 170.77,394.29 171.45,394.12 172.13,393.96 172.81,393.79 173.49,393.63 174.17,393.46 174.85,393.30 175.53,393.14 176.21,392.98 176.89,392.83 177.56,392.69 178.24,392.55 178.92,392.43 179.60,392.31 180.28,392.20 180.96,392.10 181.64,392.01 182.32,391.93 183.00,391.84 183.68,391.75 184.35,391.67 185.03,391.59 185.71,391.51 186.39,391.43 187.07,391.35 187.75,391.27 188.43,391.19 189.11,391.12 189.79,391.04 190.46,390.97 191.14,390.89 191.82,390.82 192.50,390.75 193.18,390.68 193.86,390.61 194.54,390.54 195.22,390.48 195.90,390.41 196.58,390.34 197.25,390.28 197.93,390.22 198.61,390.15 199.29,390.09 199.97,390.03 200.65,389.97 201.33,389.91 202.01,389.85 202.69,389.79 203.37,389.73 204.04,389.67 204.72,389.61 205.40,389.56 206.08,389.50 206.76,389.44 207.44,389.39 208.12,389.33 208.80,389.28 209.48,389.23 210.16,389.18 210.83,389.13 211.51,389.09 212.19,389.04 212.87,389.00 213.55,388.96 214.23,388.91 214.91,388.87 215.59,388.83 216.27,388.79 216.94,388.75 217.62,388.71 218.30,388.68 218.98,388.64 219.66,388.60 220.34,388.55 221.02,388.51 221.70,388.47 222.38,388.43 223.06,388.38 223.73,388.33 224.41,388.29 225.09,388.24 225.77,388.18 226.45,388.13 227.13,388.07 227.81,388.01 228.49,387.95 229.17,387.88 229.85,387.81 230.52,387.74 231.20,387.66 231.88,387.58 232.56,387.49 233.24,387.40 233.92,387.31 234.60,387.21 235.28,387.11 235.96,387.01 236.64,386.90 237.31,386.79 237.99,386.68 238.67,386.56 239.35,386.45 240.03,386.32 240.71,386.19 241.39,386.05 242.07,385.90 242.75,385.75 243.43,385.59 244.10,385.44 244.78,385.27 245.46,385.11 246.14,384.94 246.82,384.77 247.50,384.60 248.18,384.43 248.86,384.26 249.54,384.08 250.21,383.88 250.89,383.67 251.57,383.46 252.25,383.24 252.93,383.02 253.61,382.81 254.29,382.60 254.97,382.41 255.65,382.23 256.33,382.08 257.00,381.95 257.68,381.83 258.36,381.73 259.04,381.62 259.72,381.53 260.40,381.45 261.08,381.37 261.76,381.31 262.44,381.26" fill="none" stroke="#ff1a1a" stroke-width="2.3"/>
<polyline points="45.16,407.11 45.84,407.05 46.52,407.00 47.20,406.95 47.88,406.89 48.56,406.84 49.24,406.78 49.92,406.73 50.60,406.67 51.27,406.61 51.95,406.55 52.63,406.50 53.31,406.44 53.99,406.38 54.67,406.32 55.35,406.26 56.03,406.19 56.71,406.13 57.39,406.07 58.06,406.01 58.74,405.94 59.42,405.88 60.10,405.81 60.78,405.75 61.46,405.68 62.14,405.62 62.82,405.55 63.50,405.48 64.18,405.41 64.85,405.35 65.53,405.28 66.21,405.21 66.89,405.14 67.57,405.07 68.25,405.00 68.93,404.93 69.61,404.86 70.29,404.78 70.96,404.71 71.64,404.64 72.32,404.57 73.00,404.49 73.68,404.41 74.36,404.33 75.04,404.25 75.72,404.16 76.40,404.07 77.08,403.98 77.75,403.89 78.43,403.79 79.11,403.70 79.79,403.60 80.47,403.50 81.15,403.40 81.83,403.30 82.51,403.19 83.19,403.09 83.87,402.99 84.54,402.89 85.22,402.79 85.90,402.69 86.58,402.59 87.26,402.49 87.94,402.39 88.62,402.29 89.30,402.20 89.98,402.10 90.66,402.01 91.33,401.92 92.01,401.84 92.69,401.75 93.37,401.67 94.05,401.59 94.73,401.52 95.41,401.45 96.09,401.38 96.77,401.32 97.44,401.26 98.12,401.20 98.80,401.15 99.48,401.10 100.16,401.06 100.84,401.02 101.52,400.98 102.20,400.94 102.88,400.90 103.56,400.87 104.23,400.83 104.91,400.80 105.59,400.76 106.27,400.73 106.95,400.70 107.63,400.67 108.31,400.64 108.99,400.61 109.67,400.58 110.35,400.55 111.02,400.52 111.70,400.49 112.38,400.47 113.06,400.44 113.74,400.41 114.42,400.39 115.10,400.36 115.78,400.34 116.46,400.31 117.14,400.29 117.81,400.27 118.49,400.24 119.17,400.22 119.85,400.19 120.53,400.17 121.21,400.15 121.89,400.12 122.57,400.10 123.25,400.07 123.93,400.05 124.60,400.03 125.28,400.00 125.96,399.98 126.64,399.95 127.32,399.93 128.00,399.90 128.68,399.88 129.36,399.85 130.04,399.83 130.71,399.80 131.39,399.78 132.07,399.76 132.75,399.73 133.43,399.71 134.11,399.69 134.79,399.67 135.47,399.64 136.15,399.62 136.83,399.60 137.50,399.58 138.18,399.55 138.86,399.53 139.54,399.51 140.22,399.49 140.90,399.47 141.58,399.45 142.26,399.42 142.94,399.40 143.62,399.38 144.29,399.36 144.97,399.34 145.65,399.31 146.33,399.29 147.01,399.27 147.69,399.25 148.37,399.22 149.05,399.20 149.73,399.18 150.41,399.15 151.08,399.13 151.76,399.10 152.44,399.08 153.12,399.05 153.80,399.03 154.48,399.00 155.16,398.98 155.84,398.95 156.52,398.92 157.19,398.90 157.87,398.87 158.55,398.85 159.23,398.82 159.91,398.79 160.59,398.77 161.27,398.74 161.95,398.71 162.63,398.69 163.31,398.66 163.98,398.63 164.66,398.60 165.34,398.58 166.02,398.55 166.70,398.52 167.38,398.49 168.06,398.46 168.74,398.43 169.42,398.40 170.10,398.38 170.77,398.35 171.45,398.32 172.13,398.29 172.81,398.26 173.49,398.23 174.17,398.20 174.85,398.16 175.53,398.13 176.21,398.10 176.89,398.07 177.56,398.04 178.24,398.01 178.92,397.97 179.60,397.94 180.28,397.91 180.96,397.87 181.64,397.84 182.32,397.80 183.00,397.77 183.68,397.73 184.35,397.70 185.03,397.66 185.71,397.62 186.39,397.58 187.07,397.54 187.75,397.50 188.43,397.46 189.11,397.42 189.79,397.38 190.46,397.34 191.14,397.30 191.82,397.25 192.50,397.21 193.18,397.17 193.86,397.13 194.54,397.08 195.22,397.04 195.90,397.00 196.58,396.96 197.25,396.91 197.93,396.87 198.61,396.83 199.29,396.78 199.97,396.74 200.65,396.70 201.33,396.66 202.01,396.62 202.69,396.57 203.37,396.53 204.04,396.49 204.72,396.45 205.40,396.41 206.08,396.37 206.76,396.33 207.44,396.30 208.12,396.26 208.80,396.22 209.48,396.18 210.16,396.15 210.83,396.11 211.51,396.08 212.19,396.04 212.87,396.01 213.55,395.98 214.23,395.94 214.91,395.91 215.59,395.88 216.27,395.84 216.94,395.81 217.62,395.78 218.30,395.75 218.98,395.72 219.66,395.68 220.34,395.65 221.02,395.62 221.70,395.59 222.38,395.55 223.06,395.52 223.73,395.49 224.41,395.46 225.09,395.42 225.77,395.39 226.45,395.36 227.13,395.32 227.81,395.29 228.49,395.25 229.17,395.22 229.85,395.18 230.52,395.15 231.20,395.11 231.88,395.07 232.56,395.03 233.24,394.99 233.92,394.95 234.60,394.91 235.28,394.87 235.96,394.83 236.64,394.79 237.31,394.75 237.99,394.70 238.67,394.66 239.35,394.61 240.03,394.57 240.71,394.52 241.39,394.48 242.07,394.43 242.75,394.38 243.43,394.33 244.10,394.28 244.78,394.24 245.46,394.19 246.14,394.14 246.82,394.08 247.50,394.03 248.18,393.98 248.86,393.93 249.54,393.88 250.21,393.82 250.89,393.77 251.57,393.72 252.25,393.66 252.93,393.61 253.61,393.55 254.29,393.50 254.97,393.44 255.65,393.38 256.33,393.33 257.00,393.27 257.68,393.21 258.36,393.15 259.04,393.09 259.72,393.04 260.40,392.98 261.08,392.92 261.76,392.86 262.44,392.80" fill="none" stroke="#1a86ee" stroke-width="2.2" stroke-dasharray="7,3.2"/>
<rect x="33.6" y="365.1" width="239.0" height="57.7" fill="none" stroke="#aaa" stroke-width="0.9"/>
<line x1="31.6" y1="422.80" x2="33.6" y2="422.80" stroke="#999" stroke-width="0.7"/>
<text transform="translate(30.80,425.80) scale(0.955,1)" font-size="8.6" text-anchor="end" fill="#2a2a2a" stroke="#2a2a2a" stroke-width="0.05">0</text>
<line x1="31.6" y1="411.26" x2="33.6" y2="411.26" stroke="#999" stroke-width="0.7"/>
<text transform="translate(30.80,414.26) scale(0.955,1)" font-size="8.6" text-anchor="end" fill="#2a2a2a" stroke="#2a2a2a" stroke-width="0.05">50</text>
<line x1="31.6" y1="399.72" x2="33.6" y2="399.72" stroke="#999" stroke-width="0.7"/>
<text transform="translate(30.80,402.72) scale(0.955,1)" font-size="8.6" text-anchor="end" fill="#2a2a2a" stroke="#2a2a2a" stroke-width="0.05">100</text>
<line x1="31.6" y1="388.18" x2="33.6" y2="388.18" stroke="#999" stroke-width="0.7"/>
<text transform="translate(30.80,391.18) scale(0.955,1)" font-size="8.6" text-anchor="end" fill="#2a2a2a" stroke="#2a2a2a" stroke-width="0.05">150</text>
<line x1="31.6" y1="376.64" x2="33.6" y2="376.64" stroke="#999" stroke-width="0.7"/>
<text transform="translate(30.80,379.64) scale(0.955,1)" font-size="8.6" text-anchor="end" fill="#2a2a2a" stroke="#2a2a2a" stroke-width="0.05">200</text>
<line x1="31.6" y1="365.10" x2="33.6" y2="365.10" stroke="#999" stroke-width="0.7"/>
<text transform="translate(30.80,368.10) scale(0.955,1)" font-size="8.6" text-anchor="end" fill="#2a2a2a" stroke="#2a2a2a" stroke-width="0.05">250</text>
<line x1="45.16" y1="422.8" x2="45.16" y2="424.8" stroke="#999" stroke-width="0.7"/>
<text transform="translate(45.16,431.60) scale(0.955,1)" font-size="8.6" text-anchor="middle" fill="#2a2a2a" stroke="#2a2a2a" stroke-width="0.05">0</text>
<line x1="72.32" y1="422.8" x2="72.32" y2="424.8" stroke="#999" stroke-width="0.7"/>
<text transform="translate(72.32,431.60) scale(0.955,1)" font-size="8.6" text-anchor="middle" fill="#2a2a2a" stroke="#2a2a2a" stroke-width="0.05">40</text>
<line x1="99.48" y1="422.8" x2="99.48" y2="424.8" stroke="#999" stroke-width="0.7"/>
<text transform="translate(99.48,431.60) scale(0.955,1)" font-size="8.6" text-anchor="middle" fill="#2a2a2a" stroke="#2a2a2a" stroke-width="0.05">80</text>
<line x1="126.64" y1="422.8" x2="126.64" y2="424.8" stroke="#999" stroke-width="0.7"/>
<text transform="translate(126.64,431.60) scale(0.955,1)" font-size="8.6" text-anchor="middle" fill="#2a2a2a" stroke="#2a2a2a" stroke-width="0.05">120</text>
<line x1="153.80" y1="422.8" x2="153.80" y2="424.8" stroke="#999" stroke-width="0.7"/>
<text transform="translate(153.80,431.60) scale(0.955,1)" font-size="8.6" text-anchor="middle" fill="#2a2a2a" stroke="#2a2a2a" stroke-width="0.05">160</text>
<line x1="180.96" y1="422.8" x2="180.96" y2="424.8" stroke="#999" stroke-width="0.7"/>
<text transform="translate(180.96,431.60) scale(0.955,1)" font-size="8.6" text-anchor="middle" fill="#2a2a2a" stroke="#2a2a2a" stroke-width="0.05">200</text>
<line x1="208.12" y1="422.8" x2="208.12" y2="424.8" stroke="#999" stroke-width="0.7"/>
<text transform="translate(208.12,431.60) scale(0.955,1)" font-size="8.6" text-anchor="middle" fill="#2a2a2a" stroke="#2a2a2a" stroke-width="0.05">240</text>
<line x1="235.28" y1="422.8" x2="235.28" y2="424.8" stroke="#999" stroke-width="0.7"/>
<text transform="translate(235.28,431.60) scale(0.955,1)" font-size="8.6" text-anchor="middle" fill="#2a2a2a" stroke="#2a2a2a" stroke-width="0.05">280</text>
<line x1="262.44" y1="422.8" x2="262.44" y2="424.8" stroke="#999" stroke-width="0.7"/>
<text transform="translate(262.44,431.60) scale(0.955,1)" font-size="8.6" text-anchor="middle" fill="#2a2a2a" stroke="#2a2a2a" stroke-width="0.05">320</text>
<text transform="translate(152.80,441.00) scale(1.038,1)" font-size="8.3" text-anchor="middle" fill="#2a2a2a" stroke="#2a2a2a" stroke-width="0.1">Cutting number</text>
<text transform="translate(159.50,449.90) scale(0.914,1)" font-size="8.3" text-anchor="middle" fill="#2a2a2a" stroke="#2a2a2a" stroke-width="0.1">CNN</text>
<g transform="translate(10.400000000000002,393.45000000000005) rotate(-90)">
<text transform="translate(0.00,2.60) scale(1.034,1)" font-size="7.9" text-anchor="middle" fill="#2a2a2a" stroke="#2a2a2a" stroke-width="0.12">Tool wear(μm)</text>
</g>
<rect x="35.6" y="367.40000000000003" width="49.5" height="27" rx="1.5" fill="#fff" fill-opacity="0.8" stroke="#ddd" stroke-width="0.7"/>
<line x1="38.1" y1="372.3" x2="51.400000000000006" y2="372.3" stroke="#ff1a1a" stroke-width="1.7"/>
<line x1="38.6" y1="380.70000000000005" x2="51.1" y2="380.70000000000005" stroke="#1a86ee" stroke-width="1.7" stroke-dasharray="7.5,3"/>
<rect x="38.6" y="387.20000000000005" width="11.8" height="4" fill="#0d4f9e"/>
<text transform="translate(55.00,375.00) scale(0.946,1)" font-size="6.6" text-anchor="start" fill="#2a2a2a">True data</text>
<text transform="translate(55.00,383.10) scale(0.978,1)" font-size="6.6" text-anchor="start" fill="#2a2a2a">prediction</text>
<text transform="translate(55.00,391.30) scale(0.900,1)" font-size="6.6" text-anchor="start" fill="#2a2a2a">Error</text>
</g>
<g>
<polygon points="314.52,422.80 314.52,422.57 315.20,422.57 315.20,422.54 315.88,422.54 315.88,422.51 316.56,422.51 316.56,422.48 317.24,422.48 317.24,422.45 317.92,422.45 317.92,422.42 318.60,422.42 318.60,422.38 319.28,422.38 319.28,422.34 319.96,422.34 319.96,422.31 320.63,422.31 320.63,422.26 321.31,422.26 321.31,422.22 321.99,422.22 321.99,422.18 322.67,422.18 322.67,422.14 323.35,422.14 323.35,422.09 324.03,422.09 324.03,422.04 324.71,422.04 324.71,421.99 325.39,421.99 325.39,421.94 326.07,421.94 326.07,421.89 326.75,421.89 326.75,421.84 327.42,421.84 327.42,421.79 328.10,421.79 328.10,421.73 328.78,421.73 328.78,421.68 329.46,421.68 329.46,421.62 330.14,421.62 330.14,421.56 330.82,421.56 330.82,421.49 331.50,421.49 331.50,421.43 332.18,421.43 332.18,421.36 332.86,421.36 332.86,421.29 333.54,421.29 333.54,421.22 334.21,421.22 334.21,421.14 334.89,421.14 334.89,421.07 335.57,421.07 335.57,420.99 336.25,420.99 336.25,420.91 336.93,420.91 336.93,420.83 337.61,420.83 337.61,420.75 338.29,420.75 338.29,420.67 338.97,420.67 338.97,420.59 339.65,420.59 339.65,420.51 340.33,420.51 340.33,420.43 341.00,420.43 341.00,420.34 341.68,420.34 341.68,420.26 342.36,420.26 342.36,420.18 343.04,420.18 343.04,420.09 343.72,420.09 343.72,420.01 344.40,420.01 344.40,419.92 345.08,419.92 345.08,419.83 345.76,419.83 345.76,419.74 346.44,419.74 346.44,419.66 347.12,419.66 347.12,419.57 347.79,419.57 347.79,419.48 348.47,419.48 348.47,419.39 349.15,419.39 349.15,419.30 349.83,419.30 349.83,419.21 350.51,419.21 350.51,419.12 351.19,419.12 351.19,419.04 351.87,419.04 351.87,418.95 352.55,418.95 352.55,418.87 353.23,418.87 353.23,418.78 353.90,418.78 353.90,418.70 354.58,418.70 354.58,418.62 355.26,418.62 355.26,418.54 355.94,418.54 355.94,418.46 356.62,418.46 356.62,418.37 357.30,418.37 357.30,418.29 357.98,418.29 357.98,418.20 358.66,418.20 358.66,418.11 359.34,418.11 359.34,418.02 360.02,418.02 360.02,417.93 360.69,417.93 360.69,417.84 361.37,417.84 361.37,417.74 362.05,417.74 362.05,417.65 362.73,417.65 362.73,417.56 363.41,417.56 363.41,417.47 364.09,417.47 364.09,417.37 364.77,417.37 364.77,417.28 365.45,417.28 365.45,417.20 366.13,417.20 366.13,417.11 366.81,417.11 366.81,417.03 367.48,417.03 367.48,416.95 368.16,416.95 368.16,416.87 368.84,416.87 368.84,416.80 369.52,416.80 369.52,416.73 370.20,416.73 370.20,416.65 370.88,416.65 370.88,416.58 371.56,416.58 371.56,416.51 372.24,416.51 372.24,416.44 372.92,416.44 372.92,416.36 373.60,416.36 373.60,416.29 374.27,416.29 374.27,416.22 374.95,416.22 374.95,416.16 375.63,416.16 375.63,416.09 376.31,416.09 376.31,416.03 376.99,416.03 376.99,415.98 377.67,415.98 377.67,415.92 378.35,415.92 378.35,415.87 379.03,415.87 379.03,415.83 379.71,415.83 379.71,415.79 380.38,415.79 380.38,415.76 381.06,415.76 381.06,415.73 381.74,415.73 381.74,415.71 382.42,415.71 382.42,415.70 383.10,415.70 383.10,415.69 383.78,415.69 383.78,415.68 384.46,415.68 384.46,415.67 385.14,415.67 385.14,415.67 385.82,415.67 385.82,415.66 386.50,415.66 386.50,415.65 387.17,415.65 387.17,415.64 387.85,415.64 387.85,415.64 388.53,415.64 388.53,415.63 389.21,415.63 389.21,415.63 389.89,415.63 389.89,415.63 390.57,415.63 390.57,415.62 391.25,415.62 391.25,415.62 391.93,415.62 391.93,415.62 392.61,415.62 392.61,415.62 393.29,415.62 393.29,415.63 393.96,415.63 393.96,415.63 394.64,415.63 394.64,415.63 395.32,415.63 395.32,415.64 396.00,415.64 396.00,415.65 396.68,415.65 396.68,415.65 397.36,415.65 397.36,415.66 398.04,415.66 398.04,415.67 398.72,415.67 398.72,415.67 399.40,415.67 399.40,415.68 400.08,415.68 400.08,415.68 400.75,415.68 400.75,415.69 401.43,415.69 401.43,415.70 402.11,415.70 402.11,415.70 402.79,415.70 402.79,415.71 403.47,415.71 403.47,415.71 404.15,415.71 404.15,415.71 404.83,415.71 404.83,415.72 405.51,415.72 405.51,415.72 406.19,415.72 406.19,415.73 406.87,415.73 406.87,415.73 407.54,415.73 407.54,415.74 408.22,415.74 408.22,415.74 408.90,415.74 408.90,415.74 409.58,415.74 409.58,415.75 410.26,415.75 410.26,415.75 410.94,415.75 410.94,415.76 411.62,415.76 411.62,415.76 412.30,415.76 412.30,415.77 412.98,415.77 412.98,415.77 413.65,415.77 413.65,415.78 414.33,415.78 414.33,415.78 415.01,415.78 415.01,415.79 415.69,415.79 415.69,415.79 416.37,415.79 416.37,415.80 417.05,415.80 417.05,415.80 417.73,415.80 417.73,415.81 418.41,415.81 418.41,415.82 419.09,415.82 419.09,415.82 419.77,415.82 419.77,415.83 420.44,415.83 420.44,415.84 421.12,415.84 421.12,415.85 421.80,415.85 421.80,415.86 422.48,415.86 422.48,415.87 423.16,415.87 423.16,415.88 423.84,415.88 423.84,415.89 424.52,415.89 424.52,415.90 425.20,415.90 425.20,415.92 425.88,415.92 425.88,415.94 426.56,415.94 426.56,415.97 427.23,415.97 427.23,415.99 427.91,415.99 427.91,416.02 428.59,416.02 428.59,416.05 429.27,416.05 429.27,416.09 429.95,416.09 429.95,416.12 430.63,416.12 430.63,416.15 431.31,416.15 431.31,416.16 431.99,416.16 431.99,416.16 432.67,416.16 432.67,416.15 433.35,416.15 433.35,416.12 434.02,416.12 434.02,416.08 434.70,416.08 434.70,416.02 435.38,416.02 435.38,415.96 436.06,415.96 436.06,415.89 436.74,415.89 436.74,415.81 437.42,415.81 437.42,415.72 438.10,415.72 438.10,415.63 438.78,415.63 438.78,415.52 439.46,415.52 439.46,415.42 440.13,415.42 440.13,415.31 440.81,415.31 440.81,415.20 441.49,415.20 441.49,415.08 442.17,415.08 442.17,414.97 442.85,414.97 442.85,414.85 443.53,414.85 443.53,414.73 444.21,414.73 444.21,414.62 444.89,414.62 444.89,414.51 445.57,414.51 445.57,414.40 446.25,414.40 446.25,414.29 446.92,414.29 446.92,414.19 447.60,414.19 447.60,414.10 448.28,414.10 448.28,414.01 448.96,414.01 448.96,413.93 449.64,413.93 449.64,413.86 450.32,413.86 450.32,413.80 451.00,413.80 451.00,413.74 451.68,413.74 451.68,413.69 452.36,413.69 452.36,413.63 453.04,413.63 453.04,413.58 453.71,413.58 453.71,413.53 454.39,413.53 454.39,413.48 455.07,413.48 455.07,413.42 455.75,413.42 455.75,413.37 456.43,413.37 456.43,413.32 457.11,413.32 457.11,413.27 457.79,413.27 457.79,413.23 458.47,413.23 458.47,413.18 459.15,413.18 459.15,413.13 459.83,413.13 459.83,413.09 460.50,413.09 460.50,413.04 461.18,413.04 461.18,413.00 461.86,413.00 461.86,412.95 462.54,412.95 462.54,412.91 463.22,412.91 463.22,412.87 463.90,412.87 463.90,412.83 464.58,412.83 464.58,412.79 465.26,412.79 465.26,412.75 465.94,412.75 465.94,412.71 466.62,412.71 466.62,412.67 467.29,412.67 467.29,412.63 467.97,412.63 467.97,412.60 468.65,412.60 468.65,412.56 469.33,412.56 469.33,412.53 470.01,412.53 470.01,412.49 470.69,412.49 470.69,412.46 471.37,412.46 471.37,412.43 472.05,412.43 472.05,412.40 472.73,412.40 472.73,412.37 473.40,412.37 473.40,412.34 474.08,412.34 474.08,412.31 474.76,412.31 474.76,412.28 475.44,412.28 475.44,412.26 476.12,412.26 476.12,412.23 476.80,412.23 476.80,412.21 477.48,412.21 477.48,412.18 478.16,412.18 478.16,412.16 478.84,412.16 478.84,412.14 479.52,412.14 479.52,412.12 480.19,412.12 480.19,412.11 480.87,412.11 480.87,412.09 481.55,412.09 481.55,412.08 482.23,412.08 482.23,412.07 482.91,412.07 482.91,412.06 483.59,412.06 483.59,412.05 484.27,412.05 484.27,412.05 484.95,412.05 484.95,412.04 485.63,412.04 485.63,412.03 486.31,412.03 486.31,412.03 486.98,412.03 486.98,412.02 487.66,412.02 487.66,412.02 488.34,412.02 488.34,412.01 489.02,412.01 489.02,412.00 489.70,412.00 489.70,412.00 490.38,412.00 490.38,411.99 491.06,411.99 491.06,411.98 491.74,411.98 491.74,411.97 492.42,411.97 492.42,411.96 493.10,411.96 493.10,411.95 493.77,411.95 493.77,411.94 494.45,411.94 494.45,411.92 495.13,411.92 495.13,411.91 495.81,411.91 495.81,411.89 496.49,411.89 496.49,411.87 497.17,411.87 497.17,411.84 497.85,411.84 497.85,411.82 498.53,411.82 498.53,411.79 499.21,411.79 499.21,411.75 499.88,411.75 499.88,411.71 500.56,411.71 500.56,411.67 501.24,411.67 501.24,411.63 501.92,411.63 501.92,411.58 502.60,411.58 502.60,411.52 503.28,411.52 503.28,411.47 503.96,411.47 503.96,411.41 504.64,411.41 504.64,411.34 505.32,411.34 505.32,411.28 506.00,411.28 506.00,411.21 506.67,411.21 506.67,411.14 507.35,411.14 507.35,411.06 508.03,411.06 508.03,410.99 508.71,410.99 508.71,410.91 509.39,410.91 509.39,410.82 510.07,410.82 510.07,410.72 510.75,410.72 510.75,410.62 511.43,410.62 511.43,410.52 512.11,410.52 512.11,410.40 512.79,410.40 512.79,410.29 513.46,410.29 513.46,410.17 514.14,410.17 514.14,410.05 514.82,410.05 514.82,409.92 515.50,409.92 515.50,409.79 516.18,409.79 516.18,409.66 516.86,409.66 516.86,409.53 517.54,409.53 517.54,409.40 518.22,409.40 518.22,409.27 518.90,409.27 518.90,409.13 519.58,409.13 519.58,408.97 520.25,408.97 520.25,408.81 520.93,408.81 520.93,408.63 521.61,408.63 521.61,408.45 522.29,408.45 522.29,408.28 522.97,408.28 522.97,408.10 523.65,408.10 523.65,407.94 524.33,407.94 524.33,407.79 525.01,407.79 525.01,407.66 525.69,407.66 525.69,407.54 526.37,407.54 526.37,407.46 527.04,407.46 527.04,407.38 527.72,407.38 527.72,407.32 528.40,407.32 528.40,407.26 529.08,407.26 529.08,407.21 529.76,407.21 529.76,407.17 530.44,407.17 530.44,407.13 531.12,407.13 531.12,407.11 531.80,407.11 531.80,407.11 532.48,407.11 532.48,422.80" fill="#1e66a3"/>
<line x1="317.58" y1="422.80" x2="317.58" y2="422.45" stroke="#7fb0d8" stroke-width="0.55"/>
<line x1="320.30" y1="422.80" x2="320.30" y2="422.31" stroke="#7fb0d8" stroke-width="0.55"/>
<line x1="322.33" y1="422.80" x2="322.33" y2="422.18" stroke="#7fb0d8" stroke-width="0.55"/>
<line x1="325.73" y1="422.80" x2="325.73" y2="421.94" stroke="#7fb0d8" stroke-width="0.55"/>
<line x1="327.76" y1="422.80" x2="327.76" y2="421.79" stroke="#7fb0d8" stroke-width="0.55"/>
<line x1="330.48" y1="422.80" x2="330.48" y2="421.56" stroke="#7fb0d8" stroke-width="0.55"/>
<line x1="332.52" y1="422.80" x2="332.52" y2="421.36" stroke="#7fb0d8" stroke-width="0.55"/>
<line x1="335.91" y1="422.80" x2="335.91" y2="420.99" stroke="#7fb0d8" stroke-width="0.55"/>
<line x1="337.95" y1="422.80" x2="337.95" y2="420.75" stroke="#7fb0d8" stroke-width="0.55"/>
<line x1="340.66" y1="422.80" x2="340.66" y2="420.43" stroke="#7fb0d8" stroke-width="0.55"/>
<line x1="342.70" y1="422.80" x2="342.70" y2="420.18" stroke="#7fb0d8" stroke-width="0.55"/>
<line x1="346.10" y1="422.80" x2="346.10" y2="419.74" stroke="#7fb0d8" stroke-width="0.55"/>
<line x1="348.13" y1="422.80" x2="348.13" y2="419.48" stroke="#7fb0d8" stroke-width="0.55"/>
<line x1="350.85" y1="422.80" x2="350.85" y2="419.12" stroke="#7fb0d8" stroke-width="0.55"/>
<line x1="352.89" y1="422.80" x2="352.89" y2="418.87" stroke="#7fb0d8" stroke-width="0.55"/>
<line x1="356.28" y1="422.80" x2="356.28" y2="418.46" stroke="#7fb0d8" stroke-width="0.55"/>
<line x1="358.32" y1="422.80" x2="358.32" y2="418.20" stroke="#7fb0d8" stroke-width="0.55"/>
<line x1="361.03" y1="422.80" x2="361.03" y2="417.84" stroke="#7fb0d8" stroke-width="0.55"/>
<line x1="363.07" y1="422.80" x2="363.07" y2="417.56" stroke="#7fb0d8" stroke-width="0.55"/>
<line x1="366.47" y1="422.80" x2="366.47" y2="417.11" stroke="#7fb0d8" stroke-width="0.55"/>
<line x1="368.50" y1="422.80" x2="368.50" y2="416.87" stroke="#7fb0d8" stroke-width="0.55"/>
<line x1="371.22" y1="422.80" x2="371.22" y2="416.58" stroke="#7fb0d8" stroke-width="0.55"/>
<line x1="373.26" y1="422.80" x2="373.26" y2="416.36" stroke="#7fb0d8" stroke-width="0.55"/>
<line x1="376.65" y1="422.80" x2="376.65" y2="416.03" stroke="#7fb0d8" stroke-width="0.55"/>
<line x1="378.69" y1="422.80" x2="378.69" y2="415.87" stroke="#7fb0d8" stroke-width="0.55"/>
<line x1="381.40" y1="422.80" x2="381.40" y2="415.73" stroke="#7fb0d8" stroke-width="0.55"/>
<line x1="383.44" y1="422.80" x2="383.44" y2="415.69" stroke="#7fb0d8" stroke-width="0.55"/>
<line x1="386.84" y1="422.80" x2="386.84" y2="415.65" stroke="#7fb0d8" stroke-width="0.55"/>
<line x1="388.87" y1="422.80" x2="388.87" y2="415.63" stroke="#7fb0d8" stroke-width="0.55"/>
<line x1="391.59" y1="422.80" x2="391.59" y2="415.62" stroke="#7fb0d8" stroke-width="0.55"/>
<line x1="393.62" y1="422.80" x2="393.62" y2="415.63" stroke="#7fb0d8" stroke-width="0.55"/>
<line x1="397.02" y1="422.80" x2="397.02" y2="415.65" stroke="#7fb0d8" stroke-width="0.55"/>
<line x1="399.06" y1="422.80" x2="399.06" y2="415.67" stroke="#7fb0d8" stroke-width="0.55"/>
<line x1="401.77" y1="422.80" x2="401.77" y2="415.70" stroke="#7fb0d8" stroke-width="0.55"/>
<line x1="403.81" y1="422.80" x2="403.81" y2="415.71" stroke="#7fb0d8" stroke-width="0.55"/>
<line x1="407.20" y1="422.80" x2="407.20" y2="415.73" stroke="#7fb0d8" stroke-width="0.55"/>
<line x1="409.24" y1="422.80" x2="409.24" y2="415.74" stroke="#7fb0d8" stroke-width="0.55"/>
<line x1="411.96" y1="422.80" x2="411.96" y2="415.76" stroke="#7fb0d8" stroke-width="0.55"/>
<line x1="413.99" y1="422.80" x2="413.99" y2="415.78" stroke="#7fb0d8" stroke-width="0.55"/>
<line x1="417.39" y1="422.80" x2="417.39" y2="415.80" stroke="#7fb0d8" stroke-width="0.55"/>
<line x1="419.43" y1="422.80" x2="419.43" y2="415.82" stroke="#7fb0d8" stroke-width="0.55"/>
<line x1="422.14" y1="422.80" x2="422.14" y2="415.86" stroke="#7fb0d8" stroke-width="0.55"/>
<line x1="424.18" y1="422.80" x2="424.18" y2="415.89" stroke="#7fb0d8" stroke-width="0.55"/>
<line x1="427.57" y1="422.80" x2="427.57" y2="415.99" stroke="#7fb0d8" stroke-width="0.55"/>
<line x1="429.61" y1="422.80" x2="429.61" y2="416.09" stroke="#7fb0d8" stroke-width="0.55"/>
<line x1="432.33" y1="422.80" x2="432.33" y2="416.16" stroke="#7fb0d8" stroke-width="0.55"/>
<line x1="434.36" y1="422.80" x2="434.36" y2="416.08" stroke="#7fb0d8" stroke-width="0.55"/>
<line x1="437.76" y1="422.80" x2="437.76" y2="415.72" stroke="#7fb0d8" stroke-width="0.55"/>
<line x1="439.80" y1="422.80" x2="439.80" y2="415.42" stroke="#7fb0d8" stroke-width="0.55"/>
<line x1="442.51" y1="422.80" x2="442.51" y2="414.97" stroke="#7fb0d8" stroke-width="0.55"/>
<line x1="444.55" y1="422.80" x2="444.55" y2="414.62" stroke="#7fb0d8" stroke-width="0.55"/>
<line x1="447.94" y1="422.80" x2="447.94" y2="414.10" stroke="#7fb0d8" stroke-width="0.55"/>
<line x1="449.98" y1="422.80" x2="449.98" y2="413.86" stroke="#7fb0d8" stroke-width="0.55"/>
<line x1="452.70" y1="422.80" x2="452.70" y2="413.63" stroke="#7fb0d8" stroke-width="0.55"/>
<line x1="454.73" y1="422.80" x2="454.73" y2="413.48" stroke="#7fb0d8" stroke-width="0.55"/>
<line x1="458.13" y1="422.80" x2="458.13" y2="413.23" stroke="#7fb0d8" stroke-width="0.55"/>
<line x1="460.16" y1="422.80" x2="460.16" y2="413.09" stroke="#7fb0d8" stroke-width="0.55"/>
<line x1="462.88" y1="422.80" x2="462.88" y2="412.91" stroke="#7fb0d8" stroke-width="0.55"/>
<line x1="464.92" y1="422.80" x2="464.92" y2="412.79" stroke="#7fb0d8" stroke-width="0.55"/>
<line x1="468.31" y1="422.80" x2="468.31" y2="412.60" stroke="#7fb0d8" stroke-width="0.55"/>
<line x1="470.35" y1="422.80" x2="470.35" y2="412.49" stroke="#7fb0d8" stroke-width="0.55"/>
<line x1="473.07" y1="422.80" x2="473.07" y2="412.37" stroke="#7fb0d8" stroke-width="0.55"/>
<line x1="475.10" y1="422.80" x2="475.10" y2="412.28" stroke="#7fb0d8" stroke-width="0.55"/>
<line x1="478.50" y1="422.80" x2="478.50" y2="412.16" stroke="#7fb0d8" stroke-width="0.55"/>
<line x1="480.53" y1="422.80" x2="480.53" y2="412.11" stroke="#7fb0d8" stroke-width="0.55"/>
<line x1="483.25" y1="422.80" x2="483.25" y2="412.06" stroke="#7fb0d8" stroke-width="0.55"/>
<line x1="485.29" y1="422.80" x2="485.29" y2="412.04" stroke="#7fb0d8" stroke-width="0.55"/>
<line x1="488.68" y1="422.80" x2="488.68" y2="412.01" stroke="#7fb0d8" stroke-width="0.55"/>
<line x1="490.72" y1="422.80" x2="490.72" y2="411.99" stroke="#7fb0d8" stroke-width="0.55"/>
<line x1="493.43" y1="422.80" x2="493.43" y2="411.95" stroke="#7fb0d8" stroke-width="0.55"/>
<line x1="495.47" y1="422.80" x2="495.47" y2="411.91" stroke="#7fb0d8" stroke-width="0.55"/>
<line x1="498.87" y1="422.80" x2="498.87" y2="411.79" stroke="#7fb0d8" stroke-width="0.55"/>
<line x1="500.90" y1="422.80" x2="500.90" y2="411.67" stroke="#7fb0d8" stroke-width="0.55"/>
<line x1="503.62" y1="422.80" x2="503.62" y2="411.47" stroke="#7fb0d8" stroke-width="0.55"/>
<line x1="505.66" y1="422.80" x2="505.66" y2="411.28" stroke="#7fb0d8" stroke-width="0.55"/>
<line x1="509.05" y1="422.80" x2="509.05" y2="410.91" stroke="#7fb0d8" stroke-width="0.55"/>
<line x1="511.09" y1="422.80" x2="511.09" y2="410.62" stroke="#7fb0d8" stroke-width="0.55"/>
<line x1="513.80" y1="422.80" x2="513.80" y2="410.17" stroke="#7fb0d8" stroke-width="0.55"/>
<line x1="515.84" y1="422.80" x2="515.84" y2="409.79" stroke="#7fb0d8" stroke-width="0.55"/>
<line x1="519.24" y1="422.80" x2="519.24" y2="409.13" stroke="#7fb0d8" stroke-width="0.55"/>
<line x1="521.27" y1="422.80" x2="521.27" y2="408.63" stroke="#7fb0d8" stroke-width="0.55"/>
<line x1="523.99" y1="422.80" x2="523.99" y2="407.94" stroke="#7fb0d8" stroke-width="0.55"/>
<line x1="526.03" y1="422.80" x2="526.03" y2="407.54" stroke="#7fb0d8" stroke-width="0.55"/>
<line x1="529.42" y1="422.80" x2="529.42" y2="407.21" stroke="#7fb0d8" stroke-width="0.55"/>
<line x1="531.46" y1="422.80" x2="531.46" y2="407.11" stroke="#7fb0d8" stroke-width="0.55"/>
<polyline points="314.86,406.64 315.54,406.58 316.22,406.51 316.90,406.44 317.58,406.37 318.26,406.30 318.94,406.23 319.62,406.15 320.30,406.07 320.97,406.00 321.65,405.92 322.33,405.83 323.01,405.75 323.69,405.66 324.37,405.58 325.05,405.49 325.73,405.40 326.41,405.31 327.09,405.22 327.76,405.12 328.44,405.03 329.12,404.93 329.80,404.83 330.48,404.73 331.16,404.63 331.84,404.52 332.52,404.41 333.20,404.30 333.88,404.18 334.55,404.07 335.23,403.95 335.91,403.83 336.59,403.71 337.27,403.59 337.95,403.47 338.63,403.35 339.31,403.22 339.99,403.10 340.66,402.97 341.34,402.85 342.02,402.72 342.70,402.59 343.38,402.46 344.06,402.33 344.74,402.19 345.42,402.06 346.10,401.92 346.78,401.78 347.45,401.64 348.13,401.49 348.81,401.35 349.49,401.21 350.17,401.07 350.85,400.92 351.53,400.78 352.21,400.64 352.89,400.50 353.57,400.36 354.24,400.22 354.92,400.08 355.60,399.95 356.28,399.82 356.96,399.68 357.64,399.54 358.32,399.41 359.00,399.27 359.68,399.13 360.36,398.99 361.03,398.85 361.71,398.71 362.39,398.57 363.07,398.44 363.75,398.31 364.43,398.18 365.11,398.06 365.79,397.94 366.47,397.82 367.14,397.71 367.82,397.60 368.50,397.50 369.18,397.41 369.86,397.32 370.54,397.23 371.22,397.14 371.90,397.05 372.58,396.96 373.26,396.87 373.93,396.79 374.61,396.70 375.29,396.62 375.97,396.55 376.65,396.47 377.33,396.40 378.01,396.33 378.69,396.27 379.37,396.22 380.05,396.16 380.72,396.12 381.40,396.08 382.08,396.05 382.76,396.03 383.44,396.01 384.12,395.99 384.80,395.97 385.48,395.95 386.16,395.94 386.84,395.92 387.51,395.90 388.19,395.89 388.87,395.88 389.55,395.86 390.23,395.85 390.91,395.84 391.59,395.83 392.27,395.82 392.95,395.81 393.62,395.81 394.30,395.80 394.98,395.80 395.66,395.80 396.34,395.80 397.02,395.80 397.70,395.80 398.38,395.80 399.06,395.80 399.74,395.80 400.41,395.80 401.09,395.80 401.77,395.80 402.45,395.80 403.13,395.80 403.81,395.80 404.49,395.80 405.17,395.80 405.85,395.80 406.53,395.80 407.20,395.80 407.88,395.80 408.56,395.80 409.24,395.80 409.92,395.80 410.60,395.80 411.28,395.80 411.96,395.80 412.64,395.80 413.32,395.80 413.99,395.80 414.67,395.80 415.35,395.80 416.03,395.80 416.71,395.80 417.39,395.80 418.07,395.80 418.75,395.80 419.43,395.80 420.11,395.80 420.78,395.80 421.46,395.80 422.14,395.80 422.82,395.80 423.50,395.80 424.18,395.80 424.86,395.80 425.54,395.80 426.22,395.80 426.89,395.80 427.57,395.80 428.25,395.80 428.93,395.80 429.61,395.80 430.29,395.80 430.97,395.79 431.65,395.76 432.33,395.72 433.01,395.66 433.68,395.59 434.36,395.50 435.04,395.40 435.72,395.29 436.40,395.17 437.08,395.04 437.76,394.90 438.44,394.76 439.12,394.60 439.80,394.45 440.47,394.29 441.15,394.12 441.83,393.96 442.51,393.79 443.19,393.63 443.87,393.46 444.55,393.30 445.23,393.14 445.91,392.98 446.59,392.83 447.26,392.69 447.94,392.55 448.62,392.43 449.30,392.31 449.98,392.20 450.66,392.10 451.34,392.01 452.02,391.93 452.70,391.84 453.38,391.75 454.05,391.67 454.73,391.59 455.41,391.51 456.09,391.43 456.77,391.35 457.45,391.27 458.13,391.19 458.81,391.12 459.49,391.04 460.16,390.97 460.84,390.89 461.52,390.82 462.20,390.75 462.88,390.68 463.56,390.61 464.24,390.54 464.92,390.48 465.60,390.41 466.28,390.34 466.95,390.28 467.63,390.22 468.31,390.15 468.99,390.09 469.67,390.03 470.35,389.97 471.03,389.91 471.71,389.85 472.39,389.79 473.07,389.73 473.74,389.67 474.42,389.61 475.10,389.56 475.78,389.50 476.46,389.44 477.14,389.39 477.82,389.33 478.50,389.28 479.18,389.23 479.86,389.18 480.53,389.13 481.21,389.09 481.89,389.04 482.57,389.00 483.25,388.96 483.93,388.91 484.61,388.87 485.29,388.83 485.97,388.79 486.64,388.75 487.32,388.71 488.00,388.68 488.68,388.64 489.36,388.60 490.04,388.55 490.72,388.51 491.40,388.47 492.08,388.43 492.76,388.38 493.43,388.33 494.11,388.29 494.79,388.24 495.47,388.18 496.15,388.13 496.83,388.07 497.51,388.01 498.19,387.95 498.87,387.88 499.55,387.81 500.22,387.74 500.90,387.66 501.58,387.58 502.26,387.49 502.94,387.40 503.62,387.31 504.30,387.21 504.98,387.11 505.66,387.01 506.34,386.90 507.01,386.79 507.69,386.68 508.37,386.56 509.05,386.45 509.73,386.32 510.41,386.19 511.09,386.05 511.77,385.90 512.45,385.75 513.12,385.59 513.80,385.44 514.48,385.27 515.16,385.11 515.84,384.94 516.52,384.77 517.20,384.60 517.88,384.43 518.56,384.26 519.24,384.08 519.91,383.88 520.59,383.67 521.27,383.46 521.95,383.24 522.63,383.02 523.31,382.81 523.99,382.60 524.67,382.41 525.35,382.23 526.03,382.08 526.70,381.95 527.38,381.83 528.06,381.73 528.74,381.62 529.42,381.53 530.10,381.45 530.78,381.37 531.46,381.31 532.14,381.26" fill="none" stroke="#ff1a1a" stroke-width="2.3"/>
<polyline points="314.86,406.87 315.54,406.84 316.22,406.80 316.90,406.76 317.58,406.72 318.26,406.69 318.94,406.65 319.62,406.61 320.30,406.57 320.97,406.53 321.65,406.49 322.33,406.45 323.01,406.41 323.69,406.37 324.37,406.33 325.05,406.30 325.73,406.26 326.41,406.22 327.09,406.18 327.76,406.14 328.44,406.09 329.12,406.05 329.80,406.01 330.48,405.97 331.16,405.93 331.84,405.89 332.52,405.85 333.20,405.81 333.88,405.77 334.55,405.73 335.23,405.68 335.91,405.64 336.59,405.60 337.27,405.56 337.95,405.52 338.63,405.47 339.31,405.43 339.99,405.39 340.66,405.35 341.34,405.30 342.02,405.26 342.70,405.22 343.38,405.17 344.06,405.12 344.74,405.07 345.42,405.03 346.10,404.97 346.78,404.92 347.45,404.87 348.13,404.82 348.81,404.76 349.49,404.71 350.17,404.65 350.85,404.60 351.53,404.54 352.21,404.49 352.89,404.43 353.57,404.38 354.24,404.32 354.92,404.27 355.60,404.21 356.28,404.16 356.96,404.11 357.64,404.05 358.32,404.00 359.00,403.95 359.68,403.91 360.36,403.86 361.03,403.81 361.71,403.77 362.39,403.72 363.07,403.68 363.75,403.64 364.43,403.61 365.11,403.57 365.79,403.54 366.47,403.51 367.14,403.48 367.82,403.46 368.50,403.43 369.18,403.41 369.86,403.39 370.54,403.38 371.22,403.36 371.90,403.34 372.58,403.33 373.26,403.31 373.93,403.30 374.61,403.28 375.29,403.27 375.97,403.25 376.65,403.24 377.33,403.22 378.01,403.21 378.69,403.20 379.37,403.19 380.05,403.17 380.72,403.16 381.40,403.15 382.08,403.14 382.76,403.13 383.44,403.12 384.12,403.11 384.80,403.10 385.48,403.09 386.16,403.08 386.84,403.07 387.51,403.06 388.19,403.05 388.87,403.04 389.55,403.03 390.23,403.02 390.91,403.01 391.59,403.01 392.27,403.00 392.95,402.99 393.62,402.98 394.30,402.97 394.98,402.97 395.66,402.96 396.34,402.95 397.02,402.94 397.70,402.94 398.38,402.93 399.06,402.92 399.74,402.92 400.41,402.91 401.09,402.91 401.77,402.90 402.45,402.90 403.13,402.89 403.81,402.89 404.49,402.88 405.17,402.88 405.85,402.87 406.53,402.87 407.20,402.86 407.88,402.86 408.56,402.86 409.24,402.85 409.92,402.85 410.60,402.84 411.28,402.84 411.96,402.83 412.64,402.83 413.32,402.83 413.99,402.82 414.67,402.82 415.35,402.81 416.03,402.80 416.71,402.80 417.39,402.79 418.07,402.79 418.75,402.78 419.43,402.77 420.11,402.76 420.78,402.76 421.46,402.75 422.14,402.74 422.82,402.73 423.50,402.72 424.18,402.71 424.86,402.69 425.54,402.68 426.22,402.65 426.89,402.63 427.57,402.60 428.25,402.58 428.93,402.54 429.61,402.51 430.29,402.47 430.97,402.44 431.65,402.40 432.33,402.36 433.01,402.31 433.68,402.27 434.36,402.22 435.04,402.18 435.72,402.13 436.40,402.08 437.08,402.03 437.76,401.98 438.44,401.93 439.12,401.88 439.80,401.83 440.47,401.78 441.15,401.73 441.83,401.68 442.51,401.63 443.19,401.58 443.87,401.53 444.55,401.48 445.23,401.43 445.91,401.39 446.59,401.34 447.26,401.30 447.94,401.26 448.62,401.21 449.30,401.18 449.98,401.14 450.66,401.10 451.34,401.07 452.02,401.04 452.70,401.01 453.38,400.97 454.05,400.94 454.73,400.91 455.41,400.88 456.09,400.85 456.77,400.82 457.45,400.79 458.13,400.77 458.81,400.74 459.49,400.71 460.16,400.68 460.84,400.65 461.52,400.63 462.20,400.60 462.88,400.57 463.56,400.54 464.24,400.52 464.92,400.49 465.60,400.46 466.28,400.44 466.95,400.41 467.63,400.38 468.31,400.35 468.99,400.33 469.67,400.30 470.35,400.27 471.03,400.25 471.71,400.22 472.39,400.19 473.07,400.16 473.74,400.13 474.42,400.10 475.10,400.07 475.78,400.04 476.46,400.01 477.14,399.98 477.82,399.95 478.50,399.92 479.18,399.89 479.86,399.86 480.53,399.82 481.21,399.79 481.89,399.76 482.57,399.73 483.25,399.69 483.93,399.66 484.61,399.63 485.29,399.59 485.97,399.56 486.64,399.53 487.32,399.49 488.00,399.46 488.68,399.43 489.36,399.39 490.04,399.36 490.72,399.32 491.40,399.29 492.08,399.25 492.76,399.22 493.43,399.18 494.11,399.15 494.79,399.11 495.47,399.08 496.15,399.04 496.83,399.01 497.51,398.97 498.19,398.93 498.87,398.90 499.55,398.86 500.22,398.82 500.90,398.79 501.58,398.75 502.26,398.71 502.94,398.68 503.62,398.64 504.30,398.60 504.98,398.57 505.66,398.53 506.34,398.49 507.01,398.45 507.69,398.42 508.37,398.38 509.05,398.34 509.73,398.30 510.41,398.26 511.09,398.22 511.77,398.18 512.45,398.15 513.12,398.11 513.80,398.07 514.48,398.03 515.16,397.99 515.84,397.95 516.52,397.91 517.20,397.87 517.88,397.83 518.56,397.79 519.24,397.75 519.91,397.71 520.59,397.67 521.27,397.63 521.95,397.58 522.63,397.54 523.31,397.50 523.99,397.46 524.67,397.42 525.35,397.38 526.03,397.33 526.70,397.29 527.38,397.25 528.06,397.21 528.74,397.17 529.42,397.12 530.10,397.08 530.78,397.04 531.46,396.99 532.14,396.95" fill="none" stroke="#1a86ee" stroke-width="2.2" stroke-dasharray="7,3.2"/>
<rect x="303.3" y="365.1" width="239.0" height="57.7" fill="none" stroke="#aaa" stroke-width="0.9"/>
<line x1="301.3" y1="422.80" x2="303.3" y2="422.80" stroke="#999" stroke-width="0.7"/>
<text transform="translate(300.50,425.80) scale(0.955,1)" font-size="8.6" text-anchor="end" fill="#2a2a2a" stroke="#2a2a2a" stroke-width="0.05">0</text>
<line x1="301.3" y1="411.26" x2="303.3" y2="411.26" stroke="#999" stroke-width="0.7"/>
<text transform="translate(300.50,414.26) scale(0.955,1)" font-size="8.6" text-anchor="end" fill="#2a2a2a" stroke="#2a2a2a" stroke-width="0.05">50</text>
<line x1="301.3" y1="399.72" x2="303.3" y2="399.72" stroke="#999" stroke-width="0.7"/>
<text transform="translate(300.50,402.72) scale(0.955,1)" font-size="8.6" text-anchor="end" fill="#2a2a2a" stroke="#2a2a2a" stroke-width="0.05">100</text>
<line x1="301.3" y1="388.18" x2="303.3" y2="388.18" stroke="#999" stroke-width="0.7"/>
<text transform="translate(300.50,391.18) scale(0.955,1)" font-size="8.6" text-anchor="end" fill="#2a2a2a" stroke="#2a2a2a" stroke-width="0.05">150</text>
<line x1="301.3" y1="376.64" x2="303.3" y2="376.64" stroke="#999" stroke-width="0.7"/>
<text transform="translate(300.50,379.64) scale(0.955,1)" font-size="8.6" text-anchor="end" fill="#2a2a2a" stroke="#2a2a2a" stroke-width="0.05">200</text>
<line x1="301.3" y1="365.10" x2="303.3" y2="365.10" stroke="#999" stroke-width="0.7"/>
<text transform="translate(300.50,368.10) scale(0.955,1)" font-size="8.6" text-anchor="end" fill="#2a2a2a" stroke="#2a2a2a" stroke-width="0.05">250</text>
<line x1="314.86" y1="422.8" x2="314.86" y2="424.8" stroke="#999" stroke-width="0.7"/>
<text transform="translate(314.86,431.60) scale(0.955,1)" font-size="8.6" text-anchor="middle" fill="#2a2a2a" stroke="#2a2a2a" stroke-width="0.05">0</text>
<line x1="342.02" y1="422.8" x2="342.02" y2="424.8" stroke="#999" stroke-width="0.7"/>
<text transform="translate(342.02,431.60) scale(0.955,1)" font-size="8.6" text-anchor="middle" fill="#2a2a2a" stroke="#2a2a2a" stroke-width="0.05">40</text>
<line x1="369.18" y1="422.8" x2="369.18" y2="424.8" stroke="#999" stroke-width="0.7"/>
<text transform="translate(369.18,431.60) scale(0.955,1)" font-size="8.6" text-anchor="middle" fill="#2a2a2a" stroke="#2a2a2a" stroke-width="0.05">80</text>
<line x1="396.34" y1="422.8" x2="396.34" y2="424.8" stroke="#999" stroke-width="0.7"/>
<text transform="translate(396.34,431.60) scale(0.955,1)" font-size="8.6" text-anchor="middle" fill="#2a2a2a" stroke="#2a2a2a" stroke-width="0.05">120</text>
<line x1="423.50" y1="422.8" x2="423.50" y2="424.8" stroke="#999" stroke-width="0.7"/>
<text transform="translate(423.50,431.60) scale(0.955,1)" font-size="8.6" text-anchor="middle" fill="#2a2a2a" stroke="#2a2a2a" stroke-width="0.05">160</text>
<line x1="450.66" y1="422.8" x2="450.66" y2="424.8" stroke="#999" stroke-width="0.7"/>
<text transform="translate(450.66,431.60) scale(0.955,1)" font-size="8.6" text-anchor="middle" fill="#2a2a2a" stroke="#2a2a2a" stroke-width="0.05">200</text>
<line x1="477.82" y1="422.8" x2="477.82" y2="424.8" stroke="#999" stroke-width="0.7"/>
<text transform="translate(477.82,431.60) scale(0.955,1)" font-size="8.6" text-anchor="middle" fill="#2a2a2a" stroke="#2a2a2a" stroke-width="0.05">240</text>
<line x1="504.98" y1="422.8" x2="504.98" y2="424.8" stroke="#999" stroke-width="0.7"/>
<text transform="translate(504.98,431.60) scale(0.955,1)" font-size="8.6" text-anchor="middle" fill="#2a2a2a" stroke="#2a2a2a" stroke-width="0.05">280</text>
<line x1="532.14" y1="422.8" x2="532.14" y2="424.8" stroke="#999" stroke-width="0.7"/>
<text transform="translate(532.14,431.60) scale(0.955,1)" font-size="8.6" text-anchor="middle" fill="#2a2a2a" stroke="#2a2a2a" stroke-width="0.05">320</text>
<text transform="translate(422.50,441.00) scale(1.038,1)" font-size="8.3" text-anchor="middle" fill="#2a2a2a" stroke="#2a2a2a" stroke-width="0.1">Cutting number</text>
<text transform="translate(429.20,449.90) scale(0.902,1)" font-size="8.3" text-anchor="middle" fill="#2a2a2a" stroke="#2a2a2a" stroke-width="0.1">LSTM</text>
<g transform="translate(280.1,393.45000000000005) rotate(-90)">
<text transform="translate(0.00,2.60) scale(1.034,1)" font-size="7.9" text-anchor="middle" fill="#2a2a2a" stroke="#2a2a2a" stroke-width="0.12">Tool wear(μm)</text>
</g>
<rect x="305.3" y="367.40000000000003" width="49.5" height="27" rx="1.5" fill="#fff" fill-opacity="0.8" stroke="#ddd" stroke-width="0.7"/>
<line x1="307.8" y1="372.3" x2="321.1" y2="372.3" stroke="#ff1a1a" stroke-width="1.7"/>
<line x1="308.3" y1="380.70000000000005" x2="320.8" y2="380.70000000000005" stroke="#1a86ee" stroke-width="1.7" stroke-dasharray="7.5,3"/>
<rect x="308.3" y="387.20000000000005" width="11.8" height="4" fill="#0d4f9e"/>
<text transform="translate(324.70,375.00) scale(0.946,1)" font-size="6.6" text-anchor="start" fill="#2a2a2a">True data</text>
<text transform="translate(324.70,383.10) scale(0.978,1)" font-size="6.6" text-anchor="start" fill="#2a2a2a">prediction</text>
<text transform="translate(324.70,391.30) scale(0.900,1)" font-size="6.6" text-anchor="start" fill="#2a2a2a">Error</text>
</g>
<g>
<polygon points="44.82,520.80 44.82,520.34 45.50,520.34 45.50,520.37 46.18,520.37 46.18,520.40 46.86,520.40 46.86,520.43 47.54,520.43 47.54,520.46 48.22,520.46 48.22,520.49 48.90,520.49 48.90,520.51 49.58,520.51 49.58,520.53 50.26,520.53 50.26,520.55 50.93,520.55 50.93,520.57 51.61,520.57 51.61,520.59 52.29,520.59 52.29,520.61 52.97,520.61 52.97,520.62 53.65,520.62 53.65,520.63 54.33,520.63 54.33,520.64 55.01,520.64 55.01,520.65 55.69,520.65 55.69,520.66 56.37,520.66 56.37,520.67 57.05,520.67 57.05,520.68 57.72,520.68 57.72,520.68 58.40,520.68 58.40,520.68 59.08,520.68 59.08,520.69 59.76,520.69 59.76,520.68 60.44,520.68 60.44,520.68 61.12,520.68 61.12,520.67 61.80,520.67 61.80,520.67 62.48,520.67 62.48,520.65 63.16,520.65 63.16,520.64 63.84,520.64 63.84,520.62 64.51,520.62 64.51,520.61 65.19,520.61 65.19,520.59 65.87,520.59 65.87,520.57 66.55,520.57 66.55,520.55 67.23,520.55 67.23,520.52 67.91,520.52 67.91,520.50 68.59,520.50 68.59,520.47 69.27,520.47 69.27,520.45 69.95,520.45 69.95,520.42 70.63,520.42 70.63,520.39 71.30,520.39 71.30,520.37 71.98,520.37 71.98,520.34 72.66,520.34 72.66,520.31 73.34,520.31 73.34,520.28 74.02,520.28 74.02,520.25 74.70,520.25 74.70,520.22 75.38,520.22 75.38,520.19 76.06,520.19 76.06,520.16 76.74,520.16 76.74,520.13 77.42,520.13 77.42,520.10 78.09,520.10 78.09,520.07 78.77,520.07 78.77,520.04 79.45,520.04 79.45,520.01 80.13,520.01 80.13,519.98 80.81,519.98 80.81,519.95 81.49,519.95 81.49,519.92 82.17,519.92 82.17,519.89 82.85,519.89 82.85,519.86 83.53,519.86 83.53,519.84 84.20,519.84 84.20,519.81 84.88,519.81 84.88,519.79 85.56,519.79 85.56,519.77 86.24,519.77 86.24,519.74 86.92,519.74 86.92,519.71 87.60,519.71 87.60,519.68 88.28,519.68 88.28,519.65 88.96,519.65 88.96,519.61 89.64,519.61 89.64,519.57 90.32,519.57 90.32,519.53 90.99,519.53 90.99,519.49 91.67,519.49 91.67,519.44 92.35,519.44 92.35,519.40 93.03,519.40 93.03,519.35 93.71,519.35 93.71,519.31 94.39,519.31 94.39,519.26 95.07,519.26 95.07,519.21 95.75,519.21 95.75,519.17 96.43,519.17 96.43,519.12 97.11,519.12 97.11,519.08 97.78,519.08 97.78,519.03 98.46,519.03 98.46,518.99 99.14,518.99 99.14,518.95 99.82,518.95 99.82,518.91 100.50,518.91 100.50,518.87 101.18,518.87 101.18,518.83 101.86,518.83 101.86,518.79 102.54,518.79 102.54,518.75 103.22,518.75 103.22,518.71 103.90,518.71 103.90,518.67 104.57,518.67 104.57,518.63 105.25,518.63 105.25,518.59 105.93,518.59 105.93,518.56 106.61,518.56 106.61,518.53 107.29,518.53 107.29,518.50 107.97,518.50 107.97,518.47 108.65,518.47 108.65,518.45 109.33,518.45 109.33,518.43 110.01,518.43 110.01,518.42 110.68,518.42 110.68,518.42 111.36,518.42 111.36,518.41 112.04,518.41 112.04,518.42 112.72,518.42 112.72,518.43 113.40,518.43 113.40,518.45 114.08,518.45 114.08,518.46 114.76,518.46 114.76,518.47 115.44,518.47 115.44,518.49 116.12,518.49 116.12,518.50 116.80,518.50 116.80,518.52 117.47,518.52 117.47,518.53 118.15,518.53 118.15,518.54 118.83,518.54 118.83,518.56 119.51,518.56 119.51,518.57 120.19,518.57 120.19,518.58 120.87,518.58 120.87,518.60 121.55,518.60 121.55,518.61 122.23,518.61 122.23,518.63 122.91,518.63 122.91,518.64 123.59,518.64 123.59,518.66 124.26,518.66 124.26,518.67 124.94,518.67 124.94,518.69 125.62,518.69 125.62,518.71 126.30,518.71 126.30,518.72 126.98,518.72 126.98,518.74 127.66,518.74 127.66,518.76 128.34,518.76 128.34,518.77 129.02,518.77 129.02,518.79 129.70,518.79 129.70,518.80 130.38,518.80 130.38,518.81 131.05,518.81 131.05,518.82 131.73,518.82 131.73,518.84 132.41,518.84 132.41,518.85 133.09,518.85 133.09,518.86 133.77,518.86 133.77,518.87 134.45,518.87 134.45,518.88 135.13,518.88 135.13,518.89 135.81,518.89 135.81,518.90 136.49,518.90 136.49,518.91 137.17,518.91 137.17,518.92 137.84,518.92 137.84,518.92 138.52,518.92 138.52,518.93 139.20,518.93 139.20,518.94 139.88,518.94 139.88,518.95 140.56,518.95 140.56,518.96 141.24,518.96 141.24,518.97 141.92,518.97 141.92,518.98 142.60,518.98 142.60,518.98 143.28,518.98 143.28,518.99 143.95,518.99 143.95,519.00 144.63,519.00 144.63,519.01 145.31,519.01 145.31,519.02 145.99,519.02 145.99,519.03 146.67,519.03 146.67,519.04 147.35,519.04 147.35,519.05 148.03,519.05 148.03,519.07 148.71,519.07 148.71,519.08 149.39,519.08 149.39,519.09 150.07,519.09 150.07,519.11 150.74,519.11 150.74,519.12 151.42,519.12 151.42,519.13 152.10,519.13 152.10,519.15 152.78,519.15 152.78,519.17 153.46,519.17 153.46,519.18 154.14,519.18 154.14,519.20 154.82,519.20 154.82,519.22 155.50,519.22 155.50,519.25 156.18,519.25 156.18,519.27 156.86,519.27 156.86,519.30 157.53,519.30 157.53,519.33 158.21,519.33 158.21,519.36 158.89,519.36 158.89,519.39 159.57,519.39 159.57,519.43 160.25,519.43 160.25,519.46 160.93,519.46 160.93,519.49 161.61,519.49 161.61,519.50 162.29,519.50 162.29,519.50 162.97,519.50 162.97,519.48 163.65,519.48 163.65,519.45 164.32,519.45 164.32,519.40 165.00,519.40 165.00,519.35 165.68,519.35 165.68,519.28 166.36,519.28 166.36,519.21 167.04,519.21 167.04,519.12 167.72,519.12 167.72,519.03 168.40,519.03 168.40,518.93 169.08,518.93 169.08,518.83 169.76,518.83 169.76,518.72 170.43,518.72 170.43,518.61 171.11,518.61 171.11,518.49 171.79,518.49 171.79,518.37 172.47,518.37 172.47,518.25 173.15,518.25 173.15,518.14 173.83,518.14 173.83,518.02 174.51,518.02 174.51,517.90 175.19,517.90 175.19,517.79 175.87,517.79 175.87,517.68 176.55,517.68 176.55,517.58 177.22,517.58 177.22,517.48 177.90,517.48 177.90,517.39 178.58,517.39 178.58,517.30 179.26,517.30 179.26,517.23 179.94,517.23 179.94,517.16 180.62,517.16 180.62,517.11 181.30,517.11 181.30,517.06 181.98,517.06 181.98,517.01 182.66,517.01 182.66,516.96 183.34,516.96 183.34,516.92 184.01,516.92 184.01,516.87 184.69,516.87 184.69,516.83 185.37,516.83 185.37,516.79 186.05,516.79 186.05,516.75 186.73,516.75 186.73,516.71 187.41,516.71 187.41,516.67 188.09,516.67 188.09,516.63 188.77,516.63 188.77,516.60 189.45,516.60 189.45,516.56 190.13,516.56 190.13,516.53 190.80,516.53 190.80,516.49 191.48,516.49 191.48,516.46 192.16,516.46 192.16,516.43 192.84,516.43 192.84,516.40 193.52,516.40 193.52,516.37 194.20,516.37 194.20,516.34 194.88,516.34 194.88,516.31 195.56,516.31 195.56,516.29 196.24,516.29 196.24,516.26 196.92,516.26 196.92,516.24 197.59,516.24 197.59,516.21 198.27,516.21 198.27,516.19 198.95,516.19 198.95,516.17 199.63,516.17 199.63,516.15 200.31,516.15 200.31,516.13 200.99,516.13 200.99,516.11 201.67,516.11 201.67,516.09 202.35,516.09 202.35,516.07 203.03,516.07 203.03,516.05 203.70,516.05 203.70,516.04 204.38,516.04 204.38,516.02 205.06,516.02 205.06,516.01 205.74,516.01 205.74,515.99 206.42,515.99 206.42,515.98 207.10,515.98 207.10,515.97 207.78,515.97 207.78,515.95 208.46,515.95 208.46,515.94 209.14,515.94 209.14,515.93 209.82,515.93 209.82,515.93 210.49,515.93 210.49,515.93 211.17,515.93 211.17,515.92 211.85,515.92 211.85,515.92 212.53,515.92 212.53,515.92 213.21,515.92 213.21,515.93 213.89,515.93 213.89,515.93 214.57,515.93 214.57,515.94 215.25,515.94 215.25,515.94 215.93,515.94 215.93,515.95 216.61,515.95 216.61,515.96 217.28,515.96 217.28,515.96 217.96,515.96 217.96,515.97 218.64,515.97 218.64,515.98 219.32,515.98 219.32,515.98 220.00,515.98 220.00,515.99 220.68,515.99 220.68,515.99 221.36,515.99 221.36,516.00 222.04,516.00 222.04,516.00 222.72,516.00 222.72,516.00 223.40,516.00 223.40,516.00 224.07,516.00 224.07,516.00 224.75,516.00 224.75,516.00 225.43,516.00 225.43,515.99 226.11,515.99 226.11,515.99 226.79,515.99 226.79,515.98 227.47,515.98 227.47,515.96 228.15,515.96 228.15,515.95 228.83,515.95 228.83,515.93 229.51,515.93 229.51,515.90 230.18,515.90 230.18,515.88 230.86,515.88 230.86,515.85 231.54,515.85 231.54,515.81 232.22,515.81 232.22,515.77 232.90,515.77 232.90,515.73 233.58,515.73 233.58,515.68 234.26,515.68 234.26,515.63 234.94,515.63 234.94,515.57 235.62,515.57 235.62,515.52 236.30,515.52 236.30,515.46 236.97,515.46 236.97,515.39 237.65,515.39 237.65,515.33 238.33,515.33 238.33,515.26 239.01,515.26 239.01,515.19 239.69,515.19 239.69,515.11 240.37,515.11 240.37,515.02 241.05,515.02 241.05,514.93 241.73,514.93 241.73,514.83 242.41,514.83 242.41,514.72 243.09,514.72 243.09,514.61 243.76,514.61 243.76,514.50 244.44,514.50 244.44,514.39 245.12,514.39 245.12,514.27 245.80,514.27 245.80,514.14 246.48,514.14 246.48,514.02 247.16,514.02 247.16,513.90 247.84,513.90 247.84,513.77 248.52,513.77 248.52,513.65 249.20,513.65 249.20,513.51 249.88,513.51 249.88,513.36 250.55,513.36 250.55,513.20 251.23,513.20 251.23,513.03 251.91,513.03 251.91,512.86 252.59,512.86 252.59,512.69 253.27,512.69 253.27,512.52 253.95,512.52 253.95,512.36 254.63,512.36 254.63,512.21 255.31,512.21 255.31,512.08 255.99,512.08 255.99,511.98 256.67,511.98 256.67,511.89 257.34,511.89 257.34,511.82 258.02,511.82 258.02,511.76 258.70,511.76 258.70,511.71 259.38,511.71 259.38,511.66 260.06,511.66 260.06,511.62 260.74,511.62 260.74,511.59 261.42,511.59 261.42,511.57 262.10,511.57 262.10,511.57 262.78,511.57 262.78,520.80" fill="#1e66a3"/>
<line x1="45.84" y1="520.80" x2="45.84" y2="520.37" stroke="#7fb0d8" stroke-width="0.55"/>
<line x1="70.96" y1="520.80" x2="70.96" y2="520.39" stroke="#7fb0d8" stroke-width="0.55"/>
<line x1="73.00" y1="520.80" x2="73.00" y2="520.31" stroke="#7fb0d8" stroke-width="0.55"/>
<line x1="76.40" y1="520.80" x2="76.40" y2="520.16" stroke="#7fb0d8" stroke-width="0.55"/>
<line x1="78.43" y1="520.80" x2="78.43" y2="520.07" stroke="#7fb0d8" stroke-width="0.55"/>
<line x1="81.15" y1="520.80" x2="81.15" y2="519.95" stroke="#7fb0d8" stroke-width="0.55"/>
<line x1="83.19" y1="520.80" x2="83.19" y2="519.86" stroke="#7fb0d8" stroke-width="0.55"/>
<line x1="86.58" y1="520.80" x2="86.58" y2="519.74" stroke="#7fb0d8" stroke-width="0.55"/>
<line x1="88.62" y1="520.80" x2="88.62" y2="519.65" stroke="#7fb0d8" stroke-width="0.55"/>
<line x1="91.33" y1="520.80" x2="91.33" y2="519.49" stroke="#7fb0d8" stroke-width="0.55"/>
<line x1="93.37" y1="520.80" x2="93.37" y2="519.35" stroke="#7fb0d8" stroke-width="0.55"/>
<line x1="96.77" y1="520.80" x2="96.77" y2="519.12" stroke="#7fb0d8" stroke-width="0.55"/>
<line x1="98.80" y1="520.80" x2="98.80" y2="518.99" stroke="#7fb0d8" stroke-width="0.55"/>
<line x1="101.52" y1="520.80" x2="101.52" y2="518.83" stroke="#7fb0d8" stroke-width="0.55"/>
<line x1="103.56" y1="520.80" x2="103.56" y2="518.71" stroke="#7fb0d8" stroke-width="0.55"/>
<line x1="106.95" y1="520.80" x2="106.95" y2="518.53" stroke="#7fb0d8" stroke-width="0.55"/>
<line x1="108.99" y1="520.80" x2="108.99" y2="518.45" stroke="#7fb0d8" stroke-width="0.55"/>
<line x1="111.70" y1="520.80" x2="111.70" y2="518.41" stroke="#7fb0d8" stroke-width="0.55"/>
<line x1="113.74" y1="520.80" x2="113.74" y2="518.45" stroke="#7fb0d8" stroke-width="0.55"/>
<line x1="117.14" y1="520.80" x2="117.14" y2="518.52" stroke="#7fb0d8" stroke-width="0.55"/>
<line x1="119.17" y1="520.80" x2="119.17" y2="518.56" stroke="#7fb0d8" stroke-width="0.55"/>
<line x1="121.89" y1="520.80" x2="121.89" y2="518.61" stroke="#7fb0d8" stroke-width="0.55"/>
<line x1="123.93" y1="520.80" x2="123.93" y2="518.66" stroke="#7fb0d8" stroke-width="0.55"/>
<line x1="127.32" y1="520.80" x2="127.32" y2="518.74" stroke="#7fb0d8" stroke-width="0.55"/>
<line x1="129.36" y1="520.80" x2="129.36" y2="518.79" stroke="#7fb0d8" stroke-width="0.55"/>
<line x1="132.07" y1="520.80" x2="132.07" y2="518.84" stroke="#7fb0d8" stroke-width="0.55"/>
<line x1="134.11" y1="520.80" x2="134.11" y2="518.87" stroke="#7fb0d8" stroke-width="0.55"/>
<line x1="137.50" y1="520.80" x2="137.50" y2="518.92" stroke="#7fb0d8" stroke-width="0.55"/>
<line x1="139.54" y1="520.80" x2="139.54" y2="518.94" stroke="#7fb0d8" stroke-width="0.55"/>
<line x1="142.26" y1="520.80" x2="142.26" y2="518.98" stroke="#7fb0d8" stroke-width="0.55"/>
<line x1="144.29" y1="520.80" x2="144.29" y2="519.00" stroke="#7fb0d8" stroke-width="0.55"/>
<line x1="147.69" y1="520.80" x2="147.69" y2="519.05" stroke="#7fb0d8" stroke-width="0.55"/>
<line x1="149.73" y1="520.80" x2="149.73" y2="519.09" stroke="#7fb0d8" stroke-width="0.55"/>
<line x1="152.44" y1="520.80" x2="152.44" y2="519.15" stroke="#7fb0d8" stroke-width="0.55"/>
<line x1="154.48" y1="520.80" x2="154.48" y2="519.20" stroke="#7fb0d8" stroke-width="0.55"/>
<line x1="157.87" y1="520.80" x2="157.87" y2="519.33" stroke="#7fb0d8" stroke-width="0.55"/>
<line x1="159.91" y1="520.80" x2="159.91" y2="519.43" stroke="#7fb0d8" stroke-width="0.55"/>
<line x1="162.63" y1="520.80" x2="162.63" y2="519.50" stroke="#7fb0d8" stroke-width="0.55"/>
<line x1="164.66" y1="520.80" x2="164.66" y2="519.40" stroke="#7fb0d8" stroke-width="0.55"/>
<line x1="168.06" y1="520.80" x2="168.06" y2="519.03" stroke="#7fb0d8" stroke-width="0.55"/>
<line x1="170.10" y1="520.80" x2="170.10" y2="518.72" stroke="#7fb0d8" stroke-width="0.55"/>
<line x1="172.81" y1="520.80" x2="172.81" y2="518.25" stroke="#7fb0d8" stroke-width="0.55"/>
<line x1="174.85" y1="520.80" x2="174.85" y2="517.90" stroke="#7fb0d8" stroke-width="0.55"/>
<line x1="178.24" y1="520.80" x2="178.24" y2="517.39" stroke="#7fb0d8" stroke-width="0.55"/>
<line x1="180.28" y1="520.80" x2="180.28" y2="517.16" stroke="#7fb0d8" stroke-width="0.55"/>
<line x1="183.00" y1="520.80" x2="183.00" y2="516.96" stroke="#7fb0d8" stroke-width="0.55"/>
<line x1="185.03" y1="520.80" x2="185.03" y2="516.83" stroke="#7fb0d8" stroke-width="0.55"/>
<line x1="188.43" y1="520.80" x2="188.43" y2="516.63" stroke="#7fb0d8" stroke-width="0.55"/>
<line x1="190.46" y1="520.80" x2="190.46" y2="516.53" stroke="#7fb0d8" stroke-width="0.55"/>
<line x1="193.18" y1="520.80" x2="193.18" y2="516.40" stroke="#7fb0d8" stroke-width="0.55"/>
<line x1="195.22" y1="520.80" x2="195.22" y2="516.31" stroke="#7fb0d8" stroke-width="0.55"/>
<line x1="198.61" y1="520.80" x2="198.61" y2="516.19" stroke="#7fb0d8" stroke-width="0.55"/>
<line x1="200.65" y1="520.80" x2="200.65" y2="516.13" stroke="#7fb0d8" stroke-width="0.55"/>
<line x1="203.37" y1="520.80" x2="203.37" y2="516.05" stroke="#7fb0d8" stroke-width="0.55"/>
<line x1="205.40" y1="520.80" x2="205.40" y2="516.01" stroke="#7fb0d8" stroke-width="0.55"/>
<line x1="208.80" y1="520.80" x2="208.80" y2="515.94" stroke="#7fb0d8" stroke-width="0.55"/>
<line x1="210.83" y1="520.80" x2="210.83" y2="515.93" stroke="#7fb0d8" stroke-width="0.55"/>
<line x1="213.55" y1="520.80" x2="213.55" y2="515.93" stroke="#7fb0d8" stroke-width="0.55"/>
<line x1="215.59" y1="520.80" x2="215.59" y2="515.94" stroke="#7fb0d8" stroke-width="0.55"/>
<line x1="218.98" y1="520.80" x2="218.98" y2="515.98" stroke="#7fb0d8" stroke-width="0.55"/>
<line x1="221.02" y1="520.80" x2="221.02" y2="515.99" stroke="#7fb0d8" stroke-width="0.55"/>
<line x1="223.73" y1="520.80" x2="223.73" y2="516.00" stroke="#7fb0d8" stroke-width="0.55"/>
<line x1="225.77" y1="520.80" x2="225.77" y2="515.99" stroke="#7fb0d8" stroke-width="0.55"/>
<line x1="229.17" y1="520.80" x2="229.17" y2="515.93" stroke="#7fb0d8" stroke-width="0.55"/>
<line x1="231.20" y1="520.80" x2="231.20" y2="515.85" stroke="#7fb0d8" stroke-width="0.55"/>
<line x1="233.92" y1="520.80" x2="233.92" y2="515.68" stroke="#7fb0d8" stroke-width="0.55"/>
<line x1="235.96" y1="520.80" x2="235.96" y2="515.52" stroke="#7fb0d8" stroke-width="0.55"/>
<line x1="239.35" y1="520.80" x2="239.35" y2="515.19" stroke="#7fb0d8" stroke-width="0.55"/>
<line x1="241.39" y1="520.80" x2="241.39" y2="514.93" stroke="#7fb0d8" stroke-width="0.55"/>
<line x1="244.10" y1="520.80" x2="244.10" y2="514.50" stroke="#7fb0d8" stroke-width="0.55"/>
<line x1="246.14" y1="520.80" x2="246.14" y2="514.14" stroke="#7fb0d8" stroke-width="0.55"/>
<line x1="249.54" y1="520.80" x2="249.54" y2="513.51" stroke="#7fb0d8" stroke-width="0.55"/>
<line x1="251.57" y1="520.80" x2="251.57" y2="513.03" stroke="#7fb0d8" stroke-width="0.55"/>
<line x1="254.29" y1="520.80" x2="254.29" y2="512.36" stroke="#7fb0d8" stroke-width="0.55"/>
<line x1="256.33" y1="520.80" x2="256.33" y2="511.98" stroke="#7fb0d8" stroke-width="0.55"/>
<line x1="259.72" y1="520.80" x2="259.72" y2="511.66" stroke="#7fb0d8" stroke-width="0.55"/>
<line x1="261.76" y1="520.80" x2="261.76" y2="511.57" stroke="#7fb0d8" stroke-width="0.55"/>
<polyline points="45.16,504.64 45.84,504.58 46.52,504.51 47.20,504.44 47.88,504.37 48.56,504.30 49.24,504.23 49.92,504.15 50.60,504.07 51.27,504.00 51.95,503.92 52.63,503.83 53.31,503.75 53.99,503.66 54.67,503.58 55.35,503.49 56.03,503.40 56.71,503.31 57.39,503.22 58.06,503.12 58.74,503.03 59.42,502.93 60.10,502.83 60.78,502.73 61.46,502.63 62.14,502.52 62.82,502.41 63.50,502.30 64.18,502.18 64.85,502.07 65.53,501.95 66.21,501.83 66.89,501.71 67.57,501.59 68.25,501.47 68.93,501.35 69.61,501.22 70.29,501.10 70.96,500.97 71.64,500.85 72.32,500.72 73.00,500.59 73.68,500.46 74.36,500.33 75.04,500.19 75.72,500.06 76.40,499.92 77.08,499.78 77.75,499.64 78.43,499.49 79.11,499.35 79.79,499.21 80.47,499.07 81.15,498.92 81.83,498.78 82.51,498.64 83.19,498.50 83.87,498.36 84.54,498.22 85.22,498.08 85.90,497.95 86.58,497.82 87.26,497.68 87.94,497.54 88.62,497.41 89.30,497.27 89.98,497.13 90.66,496.99 91.33,496.85 92.01,496.71 92.69,496.57 93.37,496.44 94.05,496.31 94.73,496.18 95.41,496.06 96.09,495.94 96.77,495.82 97.44,495.71 98.12,495.60 98.80,495.50 99.48,495.41 100.16,495.32 100.84,495.23 101.52,495.14 102.20,495.05 102.88,494.96 103.56,494.87 104.23,494.79 104.91,494.70 105.59,494.62 106.27,494.55 106.95,494.47 107.63,494.40 108.31,494.33 108.99,494.27 109.67,494.22 110.35,494.16 111.02,494.12 111.70,494.08 112.38,494.05 113.06,494.03 113.74,494.01 114.42,493.99 115.10,493.97 115.78,493.95 116.46,493.94 117.14,493.92 117.81,493.90 118.49,493.89 119.17,493.88 119.85,493.86 120.53,493.85 121.21,493.84 121.89,493.83 122.57,493.82 123.25,493.81 123.93,493.81 124.60,493.80 125.28,493.80 125.96,493.80 126.64,493.80 127.32,493.80 128.00,493.80 128.68,493.80 129.36,493.80 130.04,493.80 130.71,493.80 131.39,493.80 132.07,493.80 132.75,493.80 133.43,493.80 134.11,493.80 134.79,493.80 135.47,493.80 136.15,493.80 136.83,493.80 137.50,493.80 138.18,493.80 138.86,493.80 139.54,493.80 140.22,493.80 140.90,493.80 141.58,493.80 142.26,493.80 142.94,493.80 143.62,493.80 144.29,493.80 144.97,493.80 145.65,493.80 146.33,493.80 147.01,493.80 147.69,493.80 148.37,493.80 149.05,493.80 149.73,493.80 150.41,493.80 151.08,493.80 151.76,493.80 152.44,493.80 153.12,493.80 153.80,493.80 154.48,493.80 155.16,493.80 155.84,493.80 156.52,493.80 157.19,493.80 157.87,493.80 158.55,493.80 159.23,493.80 159.91,493.80 160.59,493.80 161.27,493.79 161.95,493.76 162.63,493.72 163.31,493.66 163.98,493.59 164.66,493.50 165.34,493.40 166.02,493.29 166.70,493.17 167.38,493.04 168.06,492.90 168.74,492.76 169.42,492.60 170.10,492.45 170.77,492.29 171.45,492.12 172.13,491.96 172.81,491.79 173.49,491.63 174.17,491.46 174.85,491.30 175.53,491.14 176.21,490.98 176.89,490.83 177.56,490.69 178.24,490.55 178.92,490.43 179.60,490.31 180.28,490.20 180.96,490.10 181.64,490.01 182.32,489.93 183.00,489.84 183.68,489.75 184.35,489.67 185.03,489.59 185.71,489.51 186.39,489.43 187.07,489.35 187.75,489.27 188.43,489.19 189.11,489.12 189.79,489.04 190.46,488.97 191.14,488.89 191.82,488.82 192.50,488.75 193.18,488.68 193.86,488.61 194.54,488.54 195.22,488.48 195.90,488.41 196.58,488.34 197.25,488.28 197.93,488.22 198.61,488.15 199.29,488.09 199.97,488.03 200.65,487.97 201.33,487.91 202.01,487.85 202.69,487.79 203.37,487.73 204.04,487.67 204.72,487.61 205.40,487.56 206.08,487.50 206.76,487.44 207.44,487.39 208.12,487.33 208.80,487.28 209.48,487.23 210.16,487.18 210.83,487.13 211.51,487.09 212.19,487.04 212.87,487.00 213.55,486.96 214.23,486.91 214.91,486.87 215.59,486.83 216.27,486.79 216.94,486.75 217.62,486.71 218.30,486.68 218.98,486.64 219.66,486.60 220.34,486.55 221.02,486.51 221.70,486.47 222.38,486.43 223.06,486.38 223.73,486.33 224.41,486.29 225.09,486.24 225.77,486.18 226.45,486.13 227.13,486.07 227.81,486.01 228.49,485.95 229.17,485.88 229.85,485.81 230.52,485.74 231.20,485.66 231.88,485.58 232.56,485.49 233.24,485.40 233.92,485.31 234.60,485.21 235.28,485.11 235.96,485.01 236.64,484.90 237.31,484.79 237.99,484.68 238.67,484.56 239.35,484.45 240.03,484.32 240.71,484.19 241.39,484.05 242.07,483.90 242.75,483.75 243.43,483.59 244.10,483.44 244.78,483.27 245.46,483.11 246.14,482.94 246.82,482.77 247.50,482.60 248.18,482.43 248.86,482.26 249.54,482.08 250.21,481.88 250.89,481.67 251.57,481.46 252.25,481.24 252.93,481.02 253.61,480.81 254.29,480.60 254.97,480.41 255.65,480.23 256.33,480.08 257.00,479.95 257.68,479.83 258.36,479.73 259.04,479.62 259.72,479.53 260.40,479.45 261.08,479.37 261.76,479.31 262.44,479.26" fill="none" stroke="#ff1a1a" stroke-width="2.3"/>
<polyline points="45.16,505.11 45.84,505.01 46.52,504.91 47.20,504.81 47.88,504.71 48.56,504.62 49.24,504.52 49.92,504.42 50.60,504.32 51.27,504.22 51.95,504.12 52.63,504.03 53.31,503.93 53.99,503.83 54.67,503.73 55.35,503.63 56.03,503.54 56.71,503.44 57.39,503.34 58.06,503.24 58.74,503.14 59.42,503.05 60.10,502.95 60.78,502.85 61.46,502.75 62.14,502.65 62.82,502.56 63.50,502.46 64.18,502.36 64.85,502.26 65.53,502.16 66.21,502.06 66.89,501.97 67.57,501.87 68.25,501.77 68.93,501.67 69.61,501.57 70.29,501.48 70.96,501.38 71.64,501.28 72.32,501.18 73.00,501.08 73.68,500.98 74.36,500.88 75.04,500.77 75.72,500.67 76.40,500.56 77.08,500.45 77.75,500.34 78.43,500.23 79.11,500.11 79.79,500.00 80.47,499.89 81.15,499.77 81.83,499.66 82.51,499.55 83.19,499.43 83.87,499.32 84.54,499.21 85.22,499.10 85.90,498.99 86.58,498.88 87.26,498.77 87.94,498.66 88.62,498.56 89.30,498.45 89.98,498.35 90.66,498.26 91.33,498.16 92.01,498.07 92.69,497.98 93.37,497.89 94.05,497.80 94.73,497.72 95.41,497.64 96.09,497.57 96.77,497.50 97.44,497.43 98.12,497.37 98.80,497.31 99.48,497.26 100.16,497.21 100.84,497.16 101.52,497.11 102.20,497.06 102.88,497.01 103.56,496.97 104.23,496.92 104.91,496.87 105.59,496.83 106.27,496.79 106.95,496.74 107.63,496.70 108.31,496.66 108.99,496.62 109.67,496.58 110.35,496.54 111.02,496.50 111.70,496.47 112.38,496.43 113.06,496.40 113.74,496.36 114.42,496.33 115.10,496.30 115.78,496.26 116.46,496.23 117.14,496.20 117.81,496.17 118.49,496.15 119.17,496.12 119.85,496.09 120.53,496.07 121.21,496.04 121.89,496.02 122.57,495.99 123.25,495.97 123.93,495.95 124.60,495.93 125.28,495.91 125.96,495.89 126.64,495.87 127.32,495.86 128.00,495.84 128.68,495.83 129.36,495.81 130.04,495.80 130.71,495.78 131.39,495.77 132.07,495.76 132.75,495.75 133.43,495.74 134.11,495.73 134.79,495.72 135.47,495.71 136.15,495.70 136.83,495.69 137.50,495.68 138.18,495.67 138.86,495.66 139.54,495.65 140.22,495.65 140.90,495.64 141.58,495.63 142.26,495.62 142.94,495.61 143.62,495.60 144.29,495.59 144.97,495.58 145.65,495.57 146.33,495.56 147.01,495.55 147.69,495.54 148.37,495.53 149.05,495.52 149.73,495.50 150.41,495.49 151.08,495.48 151.76,495.46 152.44,495.45 153.12,495.43 153.80,495.41 154.48,495.39 155.16,495.37 155.84,495.35 156.52,495.32 157.19,495.30 157.87,495.27 158.55,495.24 159.23,495.20 159.91,495.17 160.59,495.13 161.27,495.10 161.95,495.06 162.63,495.02 163.31,494.98 163.98,494.94 164.66,494.90 165.34,494.85 166.02,494.81 166.70,494.76 167.38,494.72 168.06,494.67 168.74,494.62 169.42,494.58 170.10,494.53 170.77,494.48 171.45,494.43 172.13,494.39 172.81,494.34 173.49,494.29 174.17,494.24 174.85,494.20 175.53,494.15 176.21,494.10 176.89,494.06 177.56,494.01 178.24,493.97 178.92,493.92 179.60,493.88 180.28,493.84 180.96,493.80 181.64,493.76 182.32,493.72 183.00,493.68 183.68,493.64 184.35,493.60 185.03,493.56 185.71,493.52 186.39,493.48 187.07,493.44 187.75,493.40 188.43,493.36 189.11,493.32 189.79,493.28 190.46,493.24 191.14,493.20 191.82,493.16 192.50,493.12 193.18,493.08 193.86,493.04 194.54,493.00 195.22,492.96 195.90,492.92 196.58,492.88 197.25,492.84 197.93,492.80 198.61,492.76 199.29,492.72 199.97,492.68 200.65,492.64 201.33,492.60 202.01,492.56 202.69,492.52 203.37,492.48 204.04,492.43 204.72,492.39 205.40,492.35 206.08,492.31 206.76,492.27 207.44,492.22 208.12,492.18 208.80,492.14 209.48,492.09 210.16,492.05 210.83,492.01 211.51,491.96 212.19,491.92 212.87,491.87 213.55,491.83 214.23,491.78 214.91,491.74 215.59,491.69 216.27,491.64 216.94,491.60 217.62,491.55 218.30,491.51 218.98,491.46 219.66,491.41 220.34,491.37 221.02,491.32 221.70,491.27 222.38,491.23 223.06,491.18 223.73,491.13 224.41,491.08 225.09,491.04 225.77,490.99 226.45,490.94 227.13,490.90 227.81,490.85 228.49,490.80 229.17,490.75 229.85,490.71 230.52,490.66 231.20,490.61 231.88,490.57 232.56,490.52 233.24,490.47 233.92,490.43 234.60,490.38 235.28,490.33 235.96,490.29 236.64,490.24 237.31,490.20 237.99,490.15 238.67,490.10 239.35,490.06 240.03,490.01 240.71,489.97 241.39,489.92 242.07,489.87 242.75,489.83 243.43,489.78 244.10,489.73 244.78,489.69 245.46,489.64 246.14,489.60 246.82,489.55 247.50,489.50 248.18,489.46 248.86,489.41 249.54,489.37 250.21,489.32 250.89,489.27 251.57,489.23 252.25,489.18 252.93,489.13 253.61,489.09 254.29,489.04 254.97,489.00 255.65,488.95 256.33,488.90 257.00,488.86 257.68,488.81 258.36,488.76 259.04,488.72 259.72,488.67 260.40,488.63 261.08,488.58 261.76,488.53 262.44,488.49" fill="none" stroke="#1a86ee" stroke-width="2.2" stroke-dasharray="7,3.2"/>
<rect x="33.6" y="463.1" width="239.0" height="57.7" fill="none" stroke="#aaa" stroke-width="0.9"/>
<line x1="31.6" y1="520.80" x2="33.6" y2="520.80" stroke="#999" stroke-width="0.7"/>
<text transform="translate(30.80,523.80) scale(0.955,1)" font-size="8.6" text-anchor="end" fill="#2a2a2a" stroke="#2a2a2a" stroke-width="0.05">0</text>
<line x1="31.6" y1="509.26" x2="33.6" y2="509.26" stroke="#999" stroke-width="0.7"/>
<text transform="translate(30.80,512.26) scale(0.955,1)" font-size="8.6" text-anchor="end" fill="#2a2a2a" stroke="#2a2a2a" stroke-width="0.05">50</text>
<line x1="31.6" y1="497.72" x2="33.6" y2="497.72" stroke="#999" stroke-width="0.7"/>
<text transform="translate(30.80,500.72) scale(0.955,1)" font-size="8.6" text-anchor="end" fill="#2a2a2a" stroke="#2a2a2a" stroke-width="0.05">100</text>
<line x1="31.6" y1="486.18" x2="33.6" y2="486.18" stroke="#999" stroke-width="0.7"/>
<text transform="translate(30.80,489.18) scale(0.955,1)" font-size="8.6" text-anchor="end" fill="#2a2a2a" stroke="#2a2a2a" stroke-width="0.05">150</text>
<line x1="31.6" y1="474.64" x2="33.6" y2="474.64" stroke="#999" stroke-width="0.7"/>
<text transform="translate(30.80,477.64) scale(0.955,1)" font-size="8.6" text-anchor="end" fill="#2a2a2a" stroke="#2a2a2a" stroke-width="0.05">200</text>
<line x1="31.6" y1="463.10" x2="33.6" y2="463.10" stroke="#999" stroke-width="0.7"/>
<text transform="translate(30.80,466.10) scale(0.955,1)" font-size="8.6" text-anchor="end" fill="#2a2a2a" stroke="#2a2a2a" stroke-width="0.05">250</text>
<line x1="45.16" y1="520.8000000000001" x2="45.16" y2="522.8000000000001" stroke="#999" stroke-width="0.7"/>
<text transform="translate(45.16,529.60) scale(0.955,1)" font-size="8.6" text-anchor="middle" fill="#2a2a2a" stroke="#2a2a2a" stroke-width="0.05">0</text>
<line x1="72.32" y1="520.8000000000001" x2="72.32" y2="522.8000000000001" stroke="#999" stroke-width="0.7"/>
<text transform="translate(72.32,529.60) scale(0.955,1)" font-size="8.6" text-anchor="middle" fill="#2a2a2a" stroke="#2a2a2a" stroke-width="0.05">40</text>
<line x1="99.48" y1="520.8000000000001" x2="99.48" y2="522.8000000000001" stroke="#999" stroke-width="0.7"/>
<text transform="translate(99.48,529.60) scale(0.955,1)" font-size="8.6" text-anchor="middle" fill="#2a2a2a" stroke="#2a2a2a" stroke-width="0.05">80</text>
<line x1="126.64" y1="520.8000000000001" x2="126.64" y2="522.8000000000001" stroke="#999" stroke-width="0.7"/>
<text transform="translate(126.64,529.60) scale(0.955,1)" font-size="8.6" text-anchor="middle" fill="#2a2a2a" stroke="#2a2a2a" stroke-width="0.05">120</text>
<line x1="153.80" y1="520.8000000000001" x2="153.80" y2="522.8000000000001" stroke="#999" stroke-width="0.7"/>
<text transform="translate(153.80,529.60) scale(0.955,1)" font-size="8.6" text-anchor="middle" fill="#2a2a2a" stroke="#2a2a2a" stroke-width="0.05">160</text>
<line x1="180.96" y1="520.8000000000001" x2="180.96" y2="522.8000000000001" stroke="#999" stroke-width="0.7"/>
<text transform="translate(180.96,529.60) scale(0.955,1)" font-size="8.6" text-anchor="middle" fill="#2a2a2a" stroke="#2a2a2a" stroke-width="0.05">200</text>
<line x1="208.12" y1="520.8000000000001" x2="208.12" y2="522.8000000000001" stroke="#999" stroke-width="0.7"/>
<text transform="translate(208.12,529.60) scale(0.955,1)" font-size="8.6" text-anchor="middle" fill="#2a2a2a" stroke="#2a2a2a" stroke-width="0.05">240</text>
<line x1="235.28" y1="520.8000000000001" x2="235.28" y2="522.8000000000001" stroke="#999" stroke-width="0.7"/>
<text transform="translate(235.28,529.60) scale(0.955,1)" font-size="8.6" text-anchor="middle" fill="#2a2a2a" stroke="#2a2a2a" stroke-width="0.05">280</text>
<line x1="262.44" y1="520.8000000000001" x2="262.44" y2="522.8000000000001" stroke="#999" stroke-width="0.7"/>
<text transform="translate(262.44,529.60) scale(0.955,1)" font-size="8.6" text-anchor="middle" fill="#2a2a2a" stroke="#2a2a2a" stroke-width="0.05">320</text>
<text transform="translate(152.80,539.00) scale(1.038,1)" font-size="8.3" text-anchor="middle" fill="#2a2a2a" stroke="#2a2a2a" stroke-width="0.1">Cutting number</text>
<text transform="translate(159.50,547.90) scale(0.884,1)" font-size="8.3" text-anchor="middle" fill="#2a2a2a" stroke="#2a2a2a" stroke-width="0.1">SVR</text>
<g transform="translate(10.400000000000002,491.45000000000005) rotate(-90)">
<text transform="translate(0.00,2.60) scale(1.034,1)" font-size="7.9" text-anchor="middle" fill="#2a2a2a" stroke="#2a2a2a" stroke-width="0.12">Tool wear(μm)</text>
</g>
<rect x="35.6" y="465.40000000000003" width="49.5" height="27" rx="1.5" fill="#fff" fill-opacity="0.8" stroke="#ddd" stroke-width="0.7"/>
<line x1="38.1" y1="470.3" x2="51.400000000000006" y2="470.3" stroke="#ff1a1a" stroke-width="1.7"/>
<line x1="38.6" y1="478.70000000000005" x2="51.1" y2="478.70000000000005" stroke="#1a86ee" stroke-width="1.7" stroke-dasharray="7.5,3"/>
<rect x="38.6" y="485.20000000000005" width="11.8" height="4" fill="#0d4f9e"/>
<text transform="translate(55.00,473.00) scale(0.946,1)" font-size="6.6" text-anchor="start" fill="#2a2a2a">True data</text>
<text transform="translate(55.00,481.10) scale(0.978,1)" font-size="6.6" text-anchor="start" fill="#2a2a2a">prediction</text>
<text transform="translate(55.00,489.30) scale(0.900,1)" font-size="6.6" text-anchor="start" fill="#2a2a2a">Error</text>
</g>
<defs><pattern id="hatchA" patternUnits="userSpaceOnUse" width="5.6" height="5.6" patternTransform="rotate(45)"><line x1="0" y1="0" x2="0" y2="5.6" stroke="#fff" stroke-width="1.1" stroke-opacity="0.8"/></pattern><pattern id="hatchB" patternUnits="userSpaceOnUse" width="5.6" height="5.6" patternTransform="rotate(-45)"><line x1="0" y1="0" x2="0" y2="5.6" stroke="#fff" stroke-width="1.1" stroke-opacity="0.8"/></pattern></defs>
<rect x="314.20" y="518.56" width="16" height="2.34" fill="#0f8bcd"/>
<rect x="314.20" y="518.56" width="16" height="2.34" fill="url(#hatchA)"/>
<text transform="translate(322.20,517.96) scale(0.974,1)" font-size="5.8" text-anchor="middle" fill="#2a2a2a">1.95</text>
<rect x="330.20" y="517.10" width="16" height="3.80" fill="#ff8c0f"/>
<rect x="330.20" y="517.10" width="16" height="3.80" fill="url(#hatchB)"/>
<text transform="translate(338.20,516.50) scale(0.974,1)" font-size="5.8" text-anchor="middle" fill="#2a2a2a">3.17</text>
<text transform="translate(330.20,528.50) scale(0.907,1)" font-size="6.7" text-anchor="middle" fill="#2a2a2a">Proposed</text>
<line x1="330.2" y1="520.9" x2="330.2" y2="522.6999999999999" stroke="#999" stroke-width="0.7"/>
<rect x="360.40" y="491.39" width="16" height="29.51" fill="#0f8bcd"/>
<rect x="360.40" y="491.39" width="16" height="29.51" fill="url(#hatchA)"/>
<text transform="translate(368.40,490.79) scale(0.947,1)" font-size="5.8" text-anchor="middle" fill="#2a2a2a">24.59</text>
<rect x="376.40" y="487.10" width="16" height="33.80" fill="#ff8c0f"/>
<rect x="376.40" y="487.10" width="16" height="33.80" fill="url(#hatchB)"/>
<text transform="translate(384.40,486.50) scale(0.947,1)" font-size="5.8" text-anchor="middle" fill="#2a2a2a">28.17</text>
<text transform="translate(376.40,528.50) scale(0.911,1)" font-size="6.7" text-anchor="middle" fill="#2a2a2a">BiGRU</text>
<line x1="376.4" y1="520.9" x2="376.4" y2="522.6999999999999" stroke="#999" stroke-width="0.7"/>
<rect x="406.60" y="495.03" width="16" height="25.87" fill="#0f8bcd"/>
<rect x="406.60" y="495.03" width="16" height="25.87" fill="url(#hatchA)"/>
<text transform="translate(414.60,494.43) scale(0.947,1)" font-size="5.8" text-anchor="middle" fill="#2a2a2a">21.56</text>
<rect x="422.60" y="491.00" width="16" height="29.90" fill="#ff8c0f"/>
<rect x="422.60" y="491.00" width="16" height="29.90" fill="url(#hatchB)"/>
<text transform="translate(430.60,490.40) scale(0.947,1)" font-size="5.8" text-anchor="middle" fill="#2a2a2a">24.92</text>
<text transform="translate(422.60,528.50) scale(0.896,1)" font-size="6.7" text-anchor="middle" fill="#2a2a2a">CNN</text>
<line x1="422.6" y1="520.9" x2="422.6" y2="522.6999999999999" stroke="#999" stroke-width="0.7"/>
<rect x="452.80" y="479.75" width="16" height="41.15" fill="#0f8bcd"/>
<rect x="452.80" y="479.75" width="16" height="41.15" fill="url(#hatchA)"/>
<text transform="translate(460.80,479.15) scale(0.947,1)" font-size="5.8" text-anchor="middle" fill="#2a2a2a">34.29</text>
<rect x="468.80" y="475.37" width="16" height="45.53" fill="#ff8c0f"/>
<rect x="468.80" y="475.37" width="16" height="45.53" fill="url(#hatchB)"/>
<text transform="translate(476.80,474.77) scale(0.947,1)" font-size="5.8" text-anchor="middle" fill="#2a2a2a">37.94</text>
<text transform="translate(468.80,528.50) scale(0.867,1)" font-size="6.7" text-anchor="middle" fill="#2a2a2a">LSTM</text>
<line x1="468.8" y1="520.9" x2="468.8" y2="522.6999999999999" stroke="#999" stroke-width="0.7"/>
<rect x="499.00" y="505.08" width="16" height="15.82" fill="#0f8bcd"/>
<rect x="499.00" y="505.08" width="16" height="15.82" fill="url(#hatchA)"/>
<text transform="translate(507.00,504.48) scale(0.947,1)" font-size="5.8" text-anchor="middle" fill="#2a2a2a">13.18</text>
<rect x="515.00" y="500.98" width="16" height="19.92" fill="#ff8c0f"/>
<rect x="515.00" y="500.98" width="16" height="19.92" fill="url(#hatchB)"/>
<text transform="translate(523.00,500.38) scale(0.947,1)" font-size="5.8" text-anchor="middle" fill="#2a2a2a">16.60</text>
<text transform="translate(515.00,528.50) scale(0.944,1)" font-size="6.7" text-anchor="middle" fill="#2a2a2a">SVR</text>
<line x1="515.0" y1="520.9" x2="515.0" y2="522.6999999999999" stroke="#999" stroke-width="0.7"/>
<rect x="303.4" y="463.3" width="238.5" height="57.6" fill="none" stroke="#aaa" stroke-width="0.9"/>
<line x1="301.59999999999997" y1="520.90" x2="303.4" y2="520.90" stroke="#999" stroke-width="0.7"/>
<text transform="translate(300.60,523.50) scale(0.875,1)" font-size="7.4" text-anchor="end" fill="#2a2a2a">0</text>
<line x1="301.59999999999997" y1="501.70" x2="303.4" y2="501.70" stroke="#999" stroke-width="0.7"/>
<text transform="translate(300.60,504.30) scale(0.875,1)" font-size="7.4" text-anchor="end" fill="#2a2a2a">16</text>
<line x1="301.59999999999997" y1="482.50" x2="303.4" y2="482.50" stroke="#999" stroke-width="0.7"/>
<text transform="translate(300.60,485.10) scale(0.875,1)" font-size="7.4" text-anchor="end" fill="#2a2a2a">32</text>
<line x1="301.59999999999997" y1="463.30" x2="303.4" y2="463.30" stroke="#999" stroke-width="0.7"/>
<text transform="translate(300.60,465.90) scale(0.875,1)" font-size="7.4" text-anchor="end" fill="#2a2a2a">48</text>
<rect x="306" y="466.6" width="37" height="17.5" rx="1.5" fill="#fff" fill-opacity="0.8" stroke="#ddd" stroke-width="0.6"/>
<rect x="308" y="469" width="12" height="3.6" fill="#0f8bcd"/><rect x="308" y="469" width="12" height="3.6" fill="url(#hatchA)"/>
<rect x="308" y="477" width="12" height="3.6" fill="#ff8c0f"/><rect x="308" y="477" width="12" height="3.6" fill="url(#hatchB)"/>
<text transform="translate(323.80,473.00) scale(0.814,1)" font-size="6.8" text-anchor="start" fill="#2a2a2a">MAE</text>
<text transform="translate(323.80,481.00) scale(0.804,1)" font-size="6.8" text-anchor="start" fill="#2a2a2a">RMSE</text>
<text transform="translate(426.00,547.50) scale(1.074,1)" font-size="8" text-anchor="middle" fill="#2a2a2a">Performance comparsion</text>
<text transform="translate(275.00,551.00) scale(1.023,1)" font-size="10" text-anchor="middle" fill="#222" stroke="#222" stroke-width="0.05">(b)</text>
</svg>
</body></html>
